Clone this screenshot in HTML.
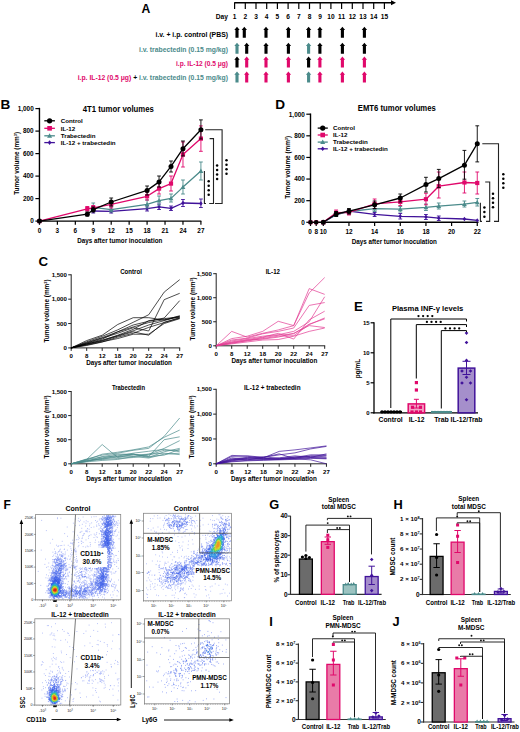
<!DOCTYPE html>
<html><head><meta charset="utf-8"><style>
html,body{margin:0;padding:0;background:#fff;width:520px;height:732px;overflow:hidden}
svg{display:block}
text{font-family:"Liberation Sans", sans-serif}
</style></head><body>
<svg width="520" height="732" viewBox="0 0 520 732">
<text x="141.5" y="12.6" font-size="12.2" text-anchor="start" fill="#000" font-weight="bold">A</text>
<line x1="234.6" y1="2.8" x2="392" y2="2.8" stroke="#000" stroke-width="1.4"/>
<path d="M391 0.3 L396 2.8 L391 5.3 Z" fill="#000"/>
<line x1="234.6" y1="2.2" x2="234.6" y2="9.1" stroke="#000" stroke-width="1.2"/>
<text x="234.6" y="19" font-size="6.6" text-anchor="middle" fill="#000" font-weight="bold">1</text>
<line x1="245.29999999999998" y1="2.2" x2="245.29999999999998" y2="9.1" stroke="#000" stroke-width="1.2"/>
<text x="245.29999999999998" y="19" font-size="6.6" text-anchor="middle" fill="#000" font-weight="bold">2</text>
<line x1="256.0" y1="2.2" x2="256.0" y2="9.1" stroke="#000" stroke-width="1.2"/>
<text x="256.0" y="19" font-size="6.6" text-anchor="middle" fill="#000" font-weight="bold">3</text>
<line x1="266.7" y1="2.2" x2="266.7" y2="9.1" stroke="#000" stroke-width="1.2"/>
<text x="266.7" y="19" font-size="6.6" text-anchor="middle" fill="#000" font-weight="bold">4</text>
<line x1="277.4" y1="2.2" x2="277.4" y2="9.1" stroke="#000" stroke-width="1.2"/>
<text x="277.4" y="19" font-size="6.6" text-anchor="middle" fill="#000" font-weight="bold">5</text>
<line x1="288.1" y1="2.2" x2="288.1" y2="9.1" stroke="#000" stroke-width="1.2"/>
<text x="288.1" y="19" font-size="6.6" text-anchor="middle" fill="#000" font-weight="bold">6</text>
<line x1="298.79999999999995" y1="2.2" x2="298.79999999999995" y2="9.1" stroke="#000" stroke-width="1.2"/>
<text x="298.79999999999995" y="19" font-size="6.6" text-anchor="middle" fill="#000" font-weight="bold">7</text>
<line x1="309.5" y1="2.2" x2="309.5" y2="9.1" stroke="#000" stroke-width="1.2"/>
<text x="309.5" y="19" font-size="6.6" text-anchor="middle" fill="#000" font-weight="bold">8</text>
<line x1="320.2" y1="2.2" x2="320.2" y2="9.1" stroke="#000" stroke-width="1.2"/>
<text x="320.2" y="19" font-size="6.6" text-anchor="middle" fill="#000" font-weight="bold">9</text>
<line x1="330.9" y1="2.2" x2="330.9" y2="9.1" stroke="#000" stroke-width="1.2"/>
<text x="330.9" y="19" font-size="6.6" text-anchor="middle" fill="#000" font-weight="bold">10</text>
<line x1="341.6" y1="2.2" x2="341.6" y2="9.1" stroke="#000" stroke-width="1.2"/>
<text x="341.6" y="19" font-size="6.6" text-anchor="middle" fill="#000" font-weight="bold">11</text>
<line x1="352.29999999999995" y1="2.2" x2="352.29999999999995" y2="9.1" stroke="#000" stroke-width="1.2"/>
<text x="352.29999999999995" y="19" font-size="6.6" text-anchor="middle" fill="#000" font-weight="bold">12</text>
<line x1="363.0" y1="2.2" x2="363.0" y2="9.1" stroke="#000" stroke-width="1.2"/>
<text x="363.0" y="19" font-size="6.6" text-anchor="middle" fill="#000" font-weight="bold">13</text>
<line x1="373.7" y1="2.2" x2="373.7" y2="9.1" stroke="#000" stroke-width="1.2"/>
<text x="373.7" y="19" font-size="6.6" text-anchor="middle" fill="#000" font-weight="bold">14</text>
<line x1="384.4" y1="2.2" x2="384.4" y2="9.1" stroke="#000" stroke-width="1.2"/>
<text x="384.4" y="19" font-size="6.6" text-anchor="middle" fill="#000" font-weight="bold">15</text>
<text x="228" y="19" font-size="6.6" text-anchor="end" fill="#000" font-weight="bold" textLength="12.2" lengthAdjust="spacingAndGlyphs">Day</text>
<text x="228" y="37.4" font-size="7.1" text-anchor="end" fill="#000" font-weight="bold" textLength="72.5" lengthAdjust="spacingAndGlyphs">i.v. + i.p. control (PBS)</text>
<text x="228" y="51.5" font-size="7.1" text-anchor="end" fill="#4b8b8b" font-weight="bold" textLength="89" lengthAdjust="spacingAndGlyphs">i.v. trabectedin (0.15 mg/kg)</text>
<text x="228" y="65.8" font-size="7.1" text-anchor="end" fill="#e0086b" font-weight="bold" textLength="52" lengthAdjust="spacingAndGlyphs">i.p. IL-12 (0.5 μg)</text>
<text x="228" y="79.6" font-size="7.1" text-anchor="end" font-weight="bold" textLength="150.3" lengthAdjust="spacingAndGlyphs"><tspan fill="#e0086b">i.p. IL-12 (0.5 μg)</tspan><tspan fill="#000"> + </tspan><tspan fill="#4b8b8b">i.v. trabectedin (0.15 mg/kg)</tspan></text>
<path d="M237 26.8 L239.7 30.1 L238.55 30.1 L238.55 37.8 L235.45 37.8 L235.45 30.1 L234.3 30.1 Z" fill="#000"/>
<path d="M244.3 26.8 L247.0 30.1 L245.85000000000002 30.1 L245.85000000000002 37.8 L242.75 37.8 L242.75 30.1 L241.60000000000002 30.1 Z" fill="#000"/>
<path d="M266 26.8 L268.7 30.1 L267.55 30.1 L267.55 37.8 L264.45 37.8 L264.45 30.1 L263.3 30.1 Z" fill="#000"/>
<path d="M288.4 26.8 L291.09999999999997 30.1 L289.95 30.1 L289.95 37.8 L286.84999999999997 37.8 L286.84999999999997 30.1 L285.7 30.1 Z" fill="#000"/>
<path d="M308.6 26.8 L311.3 30.1 L310.15000000000003 30.1 L310.15000000000003 37.8 L307.05 37.8 L307.05 30.1 L305.90000000000003 30.1 Z" fill="#000"/>
<path d="M319.9 26.8 L322.59999999999997 30.1 L321.45 30.1 L321.45 37.8 L318.34999999999997 37.8 L318.34999999999997 30.1 L317.2 30.1 Z" fill="#000"/>
<path d="M342.4 26.8 L345.09999999999997 30.1 L343.95 30.1 L343.95 37.8 L340.84999999999997 37.8 L340.84999999999997 30.1 L339.7 30.1 Z" fill="#000"/>
<path d="M364.4 26.8 L367.09999999999997 30.1 L365.95 30.1 L365.95 37.8 L362.84999999999997 37.8 L362.84999999999997 30.1 L361.7 30.1 Z" fill="#000"/>
<path d="M237 42.7 L239.7 46.0 L238.55 46.0 L238.55 53.7 L235.45 53.7 L235.45 46.0 L234.3 46.0 Z" fill="#4b8b8b"/>
<path d="M246.7 42.7 L249.39999999999998 46.0 L248.25 46.0 L248.25 53.7 L245.14999999999998 53.7 L245.14999999999998 46.0 L244.0 46.0 Z" fill="#000"/>
<path d="M266 42.7 L268.7 46.0 L267.55 46.0 L267.55 53.7 L264.45 53.7 L264.45 46.0 L263.3 46.0 Z" fill="#000"/>
<path d="M288.4 42.7 L291.09999999999997 46.0 L289.95 46.0 L289.95 53.7 L286.84999999999997 53.7 L286.84999999999997 46.0 L285.7 46.0 Z" fill="#000"/>
<path d="M308.6 42.7 L311.3 46.0 L310.15000000000003 46.0 L310.15000000000003 53.7 L307.05 53.7 L307.05 46.0 L305.90000000000003 46.0 Z" fill="#4b8b8b"/>
<path d="M319.9 42.7 L322.59999999999997 46.0 L321.45 46.0 L321.45 53.7 L318.34999999999997 53.7 L318.34999999999997 46.0 L317.2 46.0 Z" fill="#000"/>
<path d="M342.4 42.7 L345.09999999999997 46.0 L343.95 46.0 L343.95 53.7 L340.84999999999997 53.7 L340.84999999999997 46.0 L339.7 46.0 Z" fill="#000"/>
<path d="M364.4 42.7 L367.09999999999997 46.0 L365.95 46.0 L365.95 53.7 L362.84999999999997 53.7 L362.84999999999997 46.0 L361.7 46.0 Z" fill="#000"/>
<path d="M237 56.5 L239.7 59.8 L238.55 59.8 L238.55 67.5 L235.45 67.5 L235.45 59.8 L234.3 59.8 Z" fill="#000"/>
<path d="M246.7 56.5 L249.39999999999998 59.8 L248.25 59.8 L248.25 67.5 L245.14999999999998 67.5 L245.14999999999998 59.8 L244.0 59.8 Z" fill="#e0086b"/>
<path d="M266 56.5 L268.7 59.8 L267.55 59.8 L267.55 67.5 L264.45 67.5 L264.45 59.8 L263.3 59.8 Z" fill="#e0086b"/>
<path d="M288.4 56.5 L291.09999999999997 59.8 L289.95 59.8 L289.95 67.5 L286.84999999999997 67.5 L286.84999999999997 59.8 L285.7 59.8 Z" fill="#e0086b"/>
<path d="M308.6 56.5 L311.3 59.8 L310.15000000000003 59.8 L310.15000000000003 67.5 L307.05 67.5 L307.05 59.8 L305.90000000000003 59.8 Z" fill="#000"/>
<path d="M319.9 56.5 L322.59999999999997 59.8 L321.45 59.8 L321.45 67.5 L318.34999999999997 67.5 L318.34999999999997 59.8 L317.2 59.8 Z" fill="#e0086b"/>
<path d="M342.4 56.5 L345.09999999999997 59.8 L343.95 59.8 L343.95 67.5 L340.84999999999997 67.5 L340.84999999999997 59.8 L339.7 59.8 Z" fill="#e0086b"/>
<path d="M364.4 56.5 L367.09999999999997 59.8 L365.95 59.8 L365.95 67.5 L362.84999999999997 67.5 L362.84999999999997 59.8 L361.7 59.8 Z" fill="#e0086b"/>
<path d="M237 71.5 L239.7 74.8 L238.55 74.8 L238.55 82.5 L235.45 82.5 L235.45 74.8 L234.3 74.8 Z" fill="#4b8b8b"/>
<path d="M246.7 71.5 L249.39999999999998 74.8 L248.25 74.8 L248.25 82.5 L245.14999999999998 82.5 L245.14999999999998 74.8 L244.0 74.8 Z" fill="#e0086b"/>
<path d="M266 71.5 L268.7 74.8 L267.55 74.8 L267.55 82.5 L264.45 82.5 L264.45 74.8 L263.3 74.8 Z" fill="#e0086b"/>
<path d="M288.4 71.5 L291.09999999999997 74.8 L289.95 74.8 L289.95 82.5 L286.84999999999997 82.5 L286.84999999999997 74.8 L285.7 74.8 Z" fill="#e0086b"/>
<path d="M308.6 71.5 L311.3 74.8 L310.15000000000003 74.8 L310.15000000000003 82.5 L307.05 82.5 L307.05 74.8 L305.90000000000003 74.8 Z" fill="#4b8b8b"/>
<path d="M319.9 71.5 L322.59999999999997 74.8 L321.45 74.8 L321.45 82.5 L318.34999999999997 82.5 L318.34999999999997 74.8 L317.2 74.8 Z" fill="#e0086b"/>
<path d="M342.4 71.5 L345.09999999999997 74.8 L343.95 74.8 L343.95 82.5 L340.84999999999997 82.5 L340.84999999999997 74.8 L339.7 74.8 Z" fill="#e0086b"/>
<path d="M364.4 71.5 L367.09999999999997 74.8 L365.95 74.8 L365.95 82.5 L362.84999999999997 82.5 L362.84999999999997 74.8 L361.7 74.8 Z" fill="#e0086b"/>
<text x="0.4" y="108.9" font-size="13.6" text-anchor="start" fill="#000" font-weight="bold">B</text>
<line x1="39.45" y1="107.8" x2="39.45" y2="221.79999999999998" stroke="#000" stroke-width="1.4"/>
<line x1="38.75" y1="221.1" x2="201.3" y2="221.1" stroke="#000" stroke-width="1.4"/>
<line x1="35.4" y1="221.1" x2="39.45" y2="221.1" stroke="#000" stroke-width="1.2"/>
<text x="33.7" y="223.4" font-size="6.4" text-anchor="end" fill="#000" font-weight="bold">0</text>
<line x1="35.4" y1="198.6" x2="39.45" y2="198.6" stroke="#000" stroke-width="1.2"/>
<text x="33.7" y="200.9" font-size="6.4" text-anchor="end" fill="#000" font-weight="bold">200</text>
<line x1="35.4" y1="176.1" x2="39.45" y2="176.1" stroke="#000" stroke-width="1.2"/>
<text x="33.7" y="178.4" font-size="6.4" text-anchor="end" fill="#000" font-weight="bold">400</text>
<line x1="35.4" y1="153.6" x2="39.45" y2="153.6" stroke="#000" stroke-width="1.2"/>
<text x="33.7" y="155.9" font-size="6.4" text-anchor="end" fill="#000" font-weight="bold">600</text>
<line x1="35.4" y1="131.1" x2="39.45" y2="131.1" stroke="#000" stroke-width="1.2"/>
<text x="33.7" y="133.4" font-size="6.4" text-anchor="end" fill="#000" font-weight="bold">800</text>
<line x1="35.4" y1="108.6" x2="39.45" y2="108.6" stroke="#000" stroke-width="1.2"/>
<text x="33.7" y="110.89999999999999" font-size="6.4" text-anchor="end" fill="#000" font-weight="bold">1,000</text>
<line x1="39.45" y1="221.1" x2="39.45" y2="224.8" stroke="#000" stroke-width="1.2"/>
<text x="39.45" y="232.9" font-size="6.4" text-anchor="middle" fill="#000" font-weight="bold">0</text>
<line x1="57.39" y1="221.1" x2="57.39" y2="224.8" stroke="#000" stroke-width="1.2"/>
<text x="57.39" y="232.9" font-size="6.4" text-anchor="middle" fill="#000" font-weight="bold">3</text>
<line x1="75.33000000000001" y1="221.1" x2="75.33000000000001" y2="224.8" stroke="#000" stroke-width="1.2"/>
<text x="75.33000000000001" y="232.9" font-size="6.4" text-anchor="middle" fill="#000" font-weight="bold">6</text>
<line x1="93.27000000000001" y1="221.1" x2="93.27000000000001" y2="224.8" stroke="#000" stroke-width="1.2"/>
<text x="93.27000000000001" y="232.9" font-size="6.4" text-anchor="middle" fill="#000" font-weight="bold">9</text>
<line x1="111.21000000000001" y1="221.1" x2="111.21000000000001" y2="224.8" stroke="#000" stroke-width="1.2"/>
<text x="111.21000000000001" y="232.9" font-size="6.4" text-anchor="middle" fill="#000" font-weight="bold">12</text>
<line x1="129.15" y1="221.1" x2="129.15" y2="224.8" stroke="#000" stroke-width="1.2"/>
<text x="129.15" y="232.9" font-size="6.4" text-anchor="middle" fill="#000" font-weight="bold">15</text>
<line x1="147.09000000000003" y1="221.1" x2="147.09000000000003" y2="224.8" stroke="#000" stroke-width="1.2"/>
<text x="147.09000000000003" y="232.9" font-size="6.4" text-anchor="middle" fill="#000" font-weight="bold">18</text>
<line x1="165.03000000000003" y1="221.1" x2="165.03000000000003" y2="224.8" stroke="#000" stroke-width="1.2"/>
<text x="165.03000000000003" y="232.9" font-size="6.4" text-anchor="middle" fill="#000" font-weight="bold">21</text>
<line x1="182.97000000000003" y1="221.1" x2="182.97000000000003" y2="224.8" stroke="#000" stroke-width="1.2"/>
<text x="182.97000000000003" y="232.9" font-size="6.4" text-anchor="middle" fill="#000" font-weight="bold">24</text>
<line x1="200.91000000000003" y1="221.1" x2="200.91000000000003" y2="224.8" stroke="#000" stroke-width="1.2"/>
<text x="200.91000000000003" y="232.9" font-size="6.4" text-anchor="middle" fill="#000" font-weight="bold">27</text>
<text x="119.8" y="242.6" font-size="7.0" text-anchor="middle" fill="#000" font-weight="bold" textLength="85" lengthAdjust="spacingAndGlyphs">Days after tumor inoculation</text>
<text x="0" y="0" font-size="6.5" font-weight="bold" text-anchor="middle" transform="translate(19.4 163.4) rotate(-90)" textLength="62.9" lengthAdjust="spacingAndGlyphs">Tumor volume (mm<tspan font-size="4" dy="-2.2">3</tspan><tspan dy="2.2">)</tspan></text>
<text x="118.3" y="111.5" font-size="8.2" text-anchor="middle" fill="#000" font-weight="bold" textLength="71" lengthAdjust="spacingAndGlyphs">4T1 tumor volumes</text>
<line x1="44.3" y1="120.8" x2="54.9" y2="120.8" stroke="#000" stroke-width="1.3"/>
<circle cx="49.60" cy="120.80" r="2.625" fill="#000"/>
<text x="60.8" y="123.0" font-size="6.2" text-anchor="start" fill="#000" font-weight="bold">Control</text>
<line x1="44.3" y1="128.3" x2="54.9" y2="128.3" stroke="#e0086b" stroke-width="1.3"/>
<rect x="47.29" y="125.99" width="4.620000000000001" height="4.620000000000001" fill="#e0086b"/>
<text x="60.8" y="130.5" font-size="6.2" text-anchor="start" fill="#000" font-weight="bold">IL-12</text>
<line x1="44.3" y1="135.8" x2="54.9" y2="135.8" stroke="#4b8b8b" stroke-width="1.3"/>
<path d="M49.60 133.28 L52.12 137.82 L47.08 137.82 Z" fill="#4b8b8b"/>
<text x="60.8" y="138.0" font-size="6.2" text-anchor="start" fill="#000" font-weight="bold">Trabectedin</text>
<line x1="44.3" y1="142.6" x2="54.9" y2="142.6" stroke="#40129a" stroke-width="1.3"/>
<path d="M49.60 140.29 L51.45 142.60 L49.60 144.91 L47.75 142.60 Z" fill="#40129a"/>
<text x="60.8" y="144.79999999999998" font-size="6.2" text-anchor="start" fill="#000" font-weight="bold">IL-12 + trabectedin</text>
<polyline points="93.27,211.00 111.21,211.30 147.09,208.70 159.05,206.90 171.01,208.30 182.97,203.00 200.91,203.50" fill="none" stroke="#40129a" stroke-width="1.3" stroke-linejoin="round"/>
<line x1="93.27000000000001" y1="209" x2="93.27000000000001" y2="213" stroke="#40129a" stroke-width="0.9"/>
<line x1="91.37" y1="209" x2="95.17000000000002" y2="209" stroke="#40129a" stroke-width="0.9"/>
<line x1="91.37" y1="213" x2="95.17000000000002" y2="213" stroke="#40129a" stroke-width="0.9"/>
<line x1="111.21000000000001" y1="209.5" x2="111.21000000000001" y2="213" stroke="#40129a" stroke-width="0.9"/>
<line x1="109.31" y1="209.5" x2="113.11000000000001" y2="209.5" stroke="#40129a" stroke-width="0.9"/>
<line x1="109.31" y1="213" x2="113.11000000000001" y2="213" stroke="#40129a" stroke-width="0.9"/>
<line x1="147.09000000000003" y1="206" x2="147.09000000000003" y2="211" stroke="#40129a" stroke-width="0.9"/>
<line x1="145.19000000000003" y1="206" x2="148.99000000000004" y2="206" stroke="#40129a" stroke-width="0.9"/>
<line x1="145.19000000000003" y1="211" x2="148.99000000000004" y2="211" stroke="#40129a" stroke-width="0.9"/>
<line x1="159.05" y1="204" x2="159.05" y2="209.5" stroke="#40129a" stroke-width="0.9"/>
<line x1="157.15" y1="204" x2="160.95000000000002" y2="204" stroke="#40129a" stroke-width="0.9"/>
<line x1="157.15" y1="209.5" x2="160.95000000000002" y2="209.5" stroke="#40129a" stroke-width="0.9"/>
<line x1="171.01" y1="206" x2="171.01" y2="210.5" stroke="#40129a" stroke-width="0.9"/>
<line x1="169.10999999999999" y1="206" x2="172.91" y2="206" stroke="#40129a" stroke-width="0.9"/>
<line x1="169.10999999999999" y1="210.5" x2="172.91" y2="210.5" stroke="#40129a" stroke-width="0.9"/>
<line x1="182.97000000000003" y1="199.5" x2="182.97000000000003" y2="206.5" stroke="#40129a" stroke-width="0.9"/>
<line x1="181.07000000000002" y1="199.5" x2="184.87000000000003" y2="199.5" stroke="#40129a" stroke-width="0.9"/>
<line x1="181.07000000000002" y1="206.5" x2="184.87000000000003" y2="206.5" stroke="#40129a" stroke-width="0.9"/>
<line x1="200.91000000000003" y1="199" x2="200.91000000000003" y2="207.5" stroke="#40129a" stroke-width="0.9"/>
<line x1="199.01000000000002" y1="199" x2="202.81000000000003" y2="199" stroke="#40129a" stroke-width="0.9"/>
<line x1="199.01000000000002" y1="207.5" x2="202.81000000000003" y2="207.5" stroke="#40129a" stroke-width="0.9"/>
<path d="M93.27 208.80 L95.03 211.00 L93.27 213.20 L91.51 211.00 Z" fill="#40129a"/>
<path d="M111.21 209.10 L112.97 211.30 L111.21 213.50 L109.45 211.30 Z" fill="#40129a"/>
<path d="M147.09 206.50 L148.85 208.70 L147.09 210.90 L145.33 208.70 Z" fill="#40129a"/>
<path d="M159.05 204.70 L160.81 206.90 L159.05 209.10 L157.29 206.90 Z" fill="#40129a"/>
<path d="M171.01 206.10 L172.77 208.30 L171.01 210.50 L169.25 208.30 Z" fill="#40129a"/>
<path d="M182.97 200.80 L184.73 203.00 L182.97 205.20 L181.21 203.00 Z" fill="#40129a"/>
<path d="M200.91 201.30 L202.67 203.50 L200.91 205.70 L199.15 203.50 Z" fill="#40129a"/>
<polyline points="93.27,207.30 111.21,209.70 147.09,204.40 159.05,200.60 171.01,198.40 182.97,187.10 200.91,171.00" fill="none" stroke="#4b8b8b" stroke-width="1.3" stroke-linejoin="round"/>
<line x1="93.27000000000001" y1="203" x2="93.27000000000001" y2="211" stroke="#4b8b8b" stroke-width="0.9"/>
<line x1="91.37" y1="203" x2="95.17000000000002" y2="203" stroke="#4b8b8b" stroke-width="0.9"/>
<line x1="91.37" y1="211" x2="95.17000000000002" y2="211" stroke="#4b8b8b" stroke-width="0.9"/>
<line x1="111.21000000000001" y1="207" x2="111.21000000000001" y2="212" stroke="#4b8b8b" stroke-width="0.9"/>
<line x1="109.31" y1="207" x2="113.11000000000001" y2="207" stroke="#4b8b8b" stroke-width="0.9"/>
<line x1="109.31" y1="212" x2="113.11000000000001" y2="212" stroke="#4b8b8b" stroke-width="0.9"/>
<line x1="147.09000000000003" y1="200" x2="147.09000000000003" y2="208" stroke="#4b8b8b" stroke-width="0.9"/>
<line x1="145.19000000000003" y1="200" x2="148.99000000000004" y2="200" stroke="#4b8b8b" stroke-width="0.9"/>
<line x1="145.19000000000003" y1="208" x2="148.99000000000004" y2="208" stroke="#4b8b8b" stroke-width="0.9"/>
<line x1="159.05" y1="196" x2="159.05" y2="205" stroke="#4b8b8b" stroke-width="0.9"/>
<line x1="157.15" y1="196" x2="160.95000000000002" y2="196" stroke="#4b8b8b" stroke-width="0.9"/>
<line x1="157.15" y1="205" x2="160.95000000000002" y2="205" stroke="#4b8b8b" stroke-width="0.9"/>
<line x1="171.01" y1="194" x2="171.01" y2="202" stroke="#4b8b8b" stroke-width="0.9"/>
<line x1="169.10999999999999" y1="194" x2="172.91" y2="194" stroke="#4b8b8b" stroke-width="0.9"/>
<line x1="169.10999999999999" y1="202" x2="172.91" y2="202" stroke="#4b8b8b" stroke-width="0.9"/>
<line x1="182.97000000000003" y1="180" x2="182.97000000000003" y2="194" stroke="#4b8b8b" stroke-width="0.9"/>
<line x1="181.07000000000002" y1="180" x2="184.87000000000003" y2="180" stroke="#4b8b8b" stroke-width="0.9"/>
<line x1="181.07000000000002" y1="194" x2="184.87000000000003" y2="194" stroke="#4b8b8b" stroke-width="0.9"/>
<line x1="200.91000000000003" y1="162" x2="200.91000000000003" y2="180" stroke="#4b8b8b" stroke-width="0.9"/>
<line x1="199.01000000000002" y1="162" x2="202.81000000000003" y2="162" stroke="#4b8b8b" stroke-width="0.9"/>
<line x1="199.01000000000002" y1="180" x2="202.81000000000003" y2="180" stroke="#4b8b8b" stroke-width="0.9"/>
<path d="M93.27 204.90 L95.67 209.22 L90.87 209.22 Z" fill="#4b8b8b"/>
<path d="M111.21 207.30 L113.61 211.62 L108.81 211.62 Z" fill="#4b8b8b"/>
<path d="M147.09 202.00 L149.49 206.32 L144.69 206.32 Z" fill="#4b8b8b"/>
<path d="M159.05 198.20 L161.45 202.52 L156.65 202.52 Z" fill="#4b8b8b"/>
<path d="M171.01 196.00 L173.41 200.32 L168.61 200.32 Z" fill="#4b8b8b"/>
<path d="M182.97 184.70 L185.37 189.02 L180.57 189.02 Z" fill="#4b8b8b"/>
<path d="M200.91 168.60 L203.31 172.92 L198.51 172.92 Z" fill="#4b8b8b"/>
<polyline points="39.45,221.10 87.29,208.80 93.27,207.80 111.21,204.40 147.09,196.30 159.05,188.60 171.01,183.60 182.97,154.40 200.91,138.60" fill="none" stroke="#e0086b" stroke-width="1.3" stroke-linejoin="round"/>
<line x1="87.29" y1="206.5" x2="87.29" y2="211" stroke="#e0086b" stroke-width="0.9"/>
<line x1="85.39" y1="206.5" x2="89.19000000000001" y2="206.5" stroke="#e0086b" stroke-width="0.9"/>
<line x1="85.39" y1="211" x2="89.19000000000001" y2="211" stroke="#e0086b" stroke-width="0.9"/>
<line x1="93.27000000000001" y1="205.5" x2="93.27000000000001" y2="210" stroke="#e0086b" stroke-width="0.9"/>
<line x1="91.37" y1="205.5" x2="95.17000000000002" y2="205.5" stroke="#e0086b" stroke-width="0.9"/>
<line x1="91.37" y1="210" x2="95.17000000000002" y2="210" stroke="#e0086b" stroke-width="0.9"/>
<line x1="111.21000000000001" y1="201" x2="111.21000000000001" y2="208" stroke="#e0086b" stroke-width="0.9"/>
<line x1="109.31" y1="201" x2="113.11000000000001" y2="201" stroke="#e0086b" stroke-width="0.9"/>
<line x1="109.31" y1="208" x2="113.11000000000001" y2="208" stroke="#e0086b" stroke-width="0.9"/>
<line x1="147.09000000000003" y1="192" x2="147.09000000000003" y2="200" stroke="#e0086b" stroke-width="0.9"/>
<line x1="145.19000000000003" y1="192" x2="148.99000000000004" y2="192" stroke="#e0086b" stroke-width="0.9"/>
<line x1="145.19000000000003" y1="200" x2="148.99000000000004" y2="200" stroke="#e0086b" stroke-width="0.9"/>
<line x1="159.05" y1="183" x2="159.05" y2="194" stroke="#e0086b" stroke-width="0.9"/>
<line x1="157.15" y1="183" x2="160.95000000000002" y2="183" stroke="#e0086b" stroke-width="0.9"/>
<line x1="157.15" y1="194" x2="160.95000000000002" y2="194" stroke="#e0086b" stroke-width="0.9"/>
<line x1="171.01" y1="176" x2="171.01" y2="191" stroke="#e0086b" stroke-width="0.9"/>
<line x1="169.10999999999999" y1="176" x2="172.91" y2="176" stroke="#e0086b" stroke-width="0.9"/>
<line x1="169.10999999999999" y1="191" x2="172.91" y2="191" stroke="#e0086b" stroke-width="0.9"/>
<line x1="182.97000000000003" y1="142" x2="182.97000000000003" y2="167" stroke="#e0086b" stroke-width="0.9"/>
<line x1="181.07000000000002" y1="142" x2="184.87000000000003" y2="142" stroke="#e0086b" stroke-width="0.9"/>
<line x1="181.07000000000002" y1="167" x2="184.87000000000003" y2="167" stroke="#e0086b" stroke-width="0.9"/>
<line x1="200.91000000000003" y1="125.9" x2="200.91000000000003" y2="151.3" stroke="#e0086b" stroke-width="0.9"/>
<line x1="199.01000000000002" y1="125.9" x2="202.81000000000003" y2="125.9" stroke="#e0086b" stroke-width="0.9"/>
<line x1="199.01000000000002" y1="151.3" x2="202.81000000000003" y2="151.3" stroke="#e0086b" stroke-width="0.9"/>
<rect x="37.36" y="219.01" width="4.18" height="4.18" fill="#e0086b"/>
<rect x="85.20" y="206.71" width="4.18" height="4.18" fill="#e0086b"/>
<rect x="91.18" y="205.71" width="4.18" height="4.18" fill="#e0086b"/>
<rect x="109.12" y="202.31" width="4.18" height="4.18" fill="#e0086b"/>
<rect x="145.00" y="194.21" width="4.18" height="4.18" fill="#e0086b"/>
<rect x="156.96" y="186.51" width="4.18" height="4.18" fill="#e0086b"/>
<rect x="168.92" y="181.51" width="4.18" height="4.18" fill="#e0086b"/>
<rect x="180.88" y="152.31" width="4.18" height="4.18" fill="#e0086b"/>
<rect x="198.82" y="136.51" width="4.18" height="4.18" fill="#e0086b"/>
<polyline points="39.45,221.10 87.29,214.20 93.27,209.70 111.21,202.00 147.09,190.40 159.05,181.90 171.01,166.40 182.97,148.70 200.91,129.70" fill="none" stroke="#000" stroke-width="1.3" stroke-linejoin="round"/>
<line x1="87.29" y1="212" x2="87.29" y2="216" stroke="#000" stroke-width="0.9"/>
<line x1="85.39" y1="212" x2="89.19000000000001" y2="212" stroke="#000" stroke-width="0.9"/>
<line x1="85.39" y1="216" x2="89.19000000000001" y2="216" stroke="#000" stroke-width="0.9"/>
<line x1="93.27000000000001" y1="207" x2="93.27000000000001" y2="212" stroke="#000" stroke-width="0.9"/>
<line x1="91.37" y1="207" x2="95.17000000000002" y2="207" stroke="#000" stroke-width="0.9"/>
<line x1="91.37" y1="212" x2="95.17000000000002" y2="212" stroke="#000" stroke-width="0.9"/>
<line x1="111.21000000000001" y1="198" x2="111.21000000000001" y2="206" stroke="#000" stroke-width="0.9"/>
<line x1="109.31" y1="198" x2="113.11000000000001" y2="198" stroke="#000" stroke-width="0.9"/>
<line x1="109.31" y1="206" x2="113.11000000000001" y2="206" stroke="#000" stroke-width="0.9"/>
<line x1="147.09000000000003" y1="186" x2="147.09000000000003" y2="195" stroke="#000" stroke-width="0.9"/>
<line x1="145.19000000000003" y1="186" x2="148.99000000000004" y2="186" stroke="#000" stroke-width="0.9"/>
<line x1="145.19000000000003" y1="195" x2="148.99000000000004" y2="195" stroke="#000" stroke-width="0.9"/>
<line x1="159.05" y1="176" x2="159.05" y2="187" stroke="#000" stroke-width="0.9"/>
<line x1="157.15" y1="176" x2="160.95000000000002" y2="176" stroke="#000" stroke-width="0.9"/>
<line x1="157.15" y1="187" x2="160.95000000000002" y2="187" stroke="#000" stroke-width="0.9"/>
<line x1="171.01" y1="161" x2="171.01" y2="172" stroke="#000" stroke-width="0.9"/>
<line x1="169.10999999999999" y1="161" x2="172.91" y2="161" stroke="#000" stroke-width="0.9"/>
<line x1="169.10999999999999" y1="172" x2="172.91" y2="172" stroke="#000" stroke-width="0.9"/>
<line x1="182.97000000000003" y1="141" x2="182.97000000000003" y2="156" stroke="#000" stroke-width="0.9"/>
<line x1="181.07000000000002" y1="141" x2="184.87000000000003" y2="141" stroke="#000" stroke-width="0.9"/>
<line x1="181.07000000000002" y1="156" x2="184.87000000000003" y2="156" stroke="#000" stroke-width="0.9"/>
<line x1="200.91000000000003" y1="119.9" x2="200.91000000000003" y2="139" stroke="#000" stroke-width="0.9"/>
<line x1="199.01000000000002" y1="119.9" x2="202.81000000000003" y2="119.9" stroke="#000" stroke-width="0.9"/>
<line x1="199.01000000000002" y1="139" x2="202.81000000000003" y2="139" stroke="#000" stroke-width="0.9"/>
<circle cx="39.45" cy="221.10" r="2.5" fill="#000"/>
<circle cx="87.29" cy="214.20" r="2.5" fill="#000"/>
<circle cx="93.27" cy="209.70" r="2.5" fill="#000"/>
<circle cx="111.21" cy="202.00" r="2.5" fill="#000"/>
<circle cx="147.09" cy="190.40" r="2.5" fill="#000"/>
<circle cx="159.05" cy="181.90" r="2.5" fill="#000"/>
<circle cx="171.01" cy="166.40" r="2.5" fill="#000"/>
<circle cx="182.97" cy="148.70" r="2.5" fill="#000"/>
<circle cx="200.91" cy="129.70" r="2.5" fill="#000"/>
<polyline points="205.2,129.7 222.1,129.7 222.1,203.5 215,203.5" fill="none" stroke="#222" stroke-width="1.1"/>
<polyline points="209.6,138.6 213.5,138.6 213.5,203.5 209.2,203.5" fill="none" stroke="#222" stroke-width="1.1"/>
<polyline points="204.4,171 204.4,171 204.4,203.5 206,203.5" fill="none" stroke="#222" stroke-width="1.1"/>
<circle cx="226.5" cy="160.20" r="1.25" fill="#000"/>
<circle cx="226.5" cy="164.70" r="1.25" fill="#000"/>
<circle cx="226.5" cy="169.20" r="1.25" fill="#000"/>
<circle cx="226.5" cy="173.70" r="1.25" fill="#000"/>
<circle cx="217.1" cy="165.40" r="1.25" fill="#000"/>
<circle cx="217.1" cy="169.90" r="1.25" fill="#000"/>
<circle cx="217.1" cy="174.40" r="1.25" fill="#000"/>
<circle cx="217.1" cy="178.90" r="1.25" fill="#000"/>
<circle cx="208.7" cy="181.20" r="1.25" fill="#000"/>
<circle cx="208.7" cy="185.70" r="1.25" fill="#000"/>
<circle cx="208.7" cy="190.20" r="1.25" fill="#000"/>
<circle cx="208.7" cy="194.70" r="1.25" fill="#000"/>
<text x="275.3" y="108.9" font-size="13.6" text-anchor="start" fill="#000" font-weight="bold">D</text>
<line x1="310.5" y1="113.5" x2="310.5" y2="223.0" stroke="#000" stroke-width="1.4"/>
<line x1="309.8" y1="222.3" x2="478.5" y2="222.3" stroke="#000" stroke-width="1.4"/>
<line x1="306.3" y1="222.3" x2="310.5" y2="222.3" stroke="#000" stroke-width="1.2"/>
<text x="304.8" y="224.60000000000002" font-size="6.4" text-anchor="end" fill="#000" font-weight="bold">0</text>
<line x1="306.3" y1="200.68" x2="310.5" y2="200.68" stroke="#000" stroke-width="1.2"/>
<text x="304.8" y="202.98000000000002" font-size="6.4" text-anchor="end" fill="#000" font-weight="bold">200</text>
<line x1="306.3" y1="179.06" x2="310.5" y2="179.06" stroke="#000" stroke-width="1.2"/>
<text x="304.8" y="181.36" font-size="6.4" text-anchor="end" fill="#000" font-weight="bold">400</text>
<line x1="306.3" y1="157.44" x2="310.5" y2="157.44" stroke="#000" stroke-width="1.2"/>
<text x="304.8" y="159.74" font-size="6.4" text-anchor="end" fill="#000" font-weight="bold">600</text>
<line x1="306.3" y1="135.82" x2="310.5" y2="135.82" stroke="#000" stroke-width="1.2"/>
<text x="304.8" y="138.12" font-size="6.4" text-anchor="end" fill="#000" font-weight="bold">800</text>
<line x1="306.3" y1="114.2" x2="310.5" y2="114.2" stroke="#000" stroke-width="1.2"/>
<text x="304.8" y="116.5" font-size="6.4" text-anchor="end" fill="#000" font-weight="bold">1,000</text>
<line x1="310.5" y1="222.3" x2="310.5" y2="226" stroke="#000" stroke-width="1.2"/>
<text x="310.0" y="233.8" font-size="6.4" text-anchor="middle" fill="#000" font-weight="bold">0</text>
<line x1="316.2" y1="222.3" x2="316.2" y2="226" stroke="#000" stroke-width="1.2"/>
<text x="316.2" y="233.8" font-size="6.4" text-anchor="middle" fill="#000" font-weight="bold">8</text>
<line x1="323.3" y1="222.3" x2="323.3" y2="226" stroke="#000" stroke-width="1.2"/>
<text x="323.3" y="233.8" font-size="6.4" text-anchor="middle" fill="#000" font-weight="bold">10</text>
<line x1="348.96000000000004" y1="222.3" x2="348.96000000000004" y2="226" stroke="#000" stroke-width="1.2"/>
<text x="348.96000000000004" y="233.8" font-size="6.4" text-anchor="middle" fill="#000" font-weight="bold">12</text>
<line x1="374.62" y1="222.3" x2="374.62" y2="226" stroke="#000" stroke-width="1.2"/>
<text x="374.62" y="233.8" font-size="6.4" text-anchor="middle" fill="#000" font-weight="bold">14</text>
<line x1="400.28000000000003" y1="222.3" x2="400.28000000000003" y2="226" stroke="#000" stroke-width="1.2"/>
<text x="400.28000000000003" y="233.8" font-size="6.4" text-anchor="middle" fill="#000" font-weight="bold">16</text>
<line x1="425.94" y1="222.3" x2="425.94" y2="226" stroke="#000" stroke-width="1.2"/>
<text x="425.94" y="233.8" font-size="6.4" text-anchor="middle" fill="#000" font-weight="bold">18</text>
<line x1="451.6" y1="222.3" x2="451.6" y2="226" stroke="#000" stroke-width="1.2"/>
<text x="451.6" y="233.8" font-size="6.4" text-anchor="middle" fill="#000" font-weight="bold">20</text>
<line x1="477.26" y1="222.3" x2="477.26" y2="226" stroke="#000" stroke-width="1.2"/>
<text x="477.26" y="233.8" font-size="6.4" text-anchor="middle" fill="#000" font-weight="bold">22</text>
<text x="394.3" y="243.6" font-size="7.0" text-anchor="middle" fill="#000" font-weight="bold" textLength="85" lengthAdjust="spacingAndGlyphs">Days after tumor inoculation</text>
<text x="0" y="0" font-size="6.5" font-weight="bold" text-anchor="middle" transform="translate(290.2 167.3) rotate(-90)" textLength="63" lengthAdjust="spacingAndGlyphs">Tumor volume (mm<tspan font-size="4" dy="-2.2">3</tspan><tspan dy="2.2">)</tspan></text>
<text x="396.8" y="111.3" font-size="8.2" text-anchor="middle" fill="#000" font-weight="bold" textLength="78" lengthAdjust="spacingAndGlyphs">EMT6 tumor volumes</text>
<line x1="317.7" y1="128.1" x2="327.8" y2="128.1" stroke="#000" stroke-width="1.3"/>
<circle cx="322.70" cy="128.10" r="2.625" fill="#000"/>
<text x="333.0" y="130.29999999999998" font-size="6.2" text-anchor="start" fill="#000" font-weight="bold">Control</text>
<line x1="317.7" y1="135.0" x2="327.8" y2="135.0" stroke="#e0086b" stroke-width="1.3"/>
<rect x="320.39" y="132.69" width="4.620000000000001" height="4.620000000000001" fill="#e0086b"/>
<text x="333.0" y="137.2" font-size="6.2" text-anchor="start" fill="#000" font-weight="bold">IL-12</text>
<line x1="317.7" y1="142.1" x2="327.8" y2="142.1" stroke="#4b8b8b" stroke-width="1.3"/>
<path d="M322.70 139.58 L325.22 144.12 L320.18 144.12 Z" fill="#4b8b8b"/>
<text x="333.0" y="144.29999999999998" font-size="6.2" text-anchor="start" fill="#000" font-weight="bold">Trabectedin</text>
<line x1="317.7" y1="148.8" x2="327.8" y2="148.8" stroke="#40129a" stroke-width="1.3"/>
<path d="M322.70 146.49 L324.55 148.80 L322.70 151.11 L320.85 148.80 Z" fill="#40129a"/>
<text x="333.0" y="151.0" font-size="6.2" text-anchor="start" fill="#000" font-weight="bold">IL-12 + trabectedin</text>
<path d="M310.50 220.32 L312.08 222.30 L310.50 224.28 L308.92 222.30 Z" fill="#40129a"/>
<path d="M316.20 220.32 L317.78 222.30 L316.20 224.28 L314.62 222.30 Z" fill="#40129a"/>
<path d="M310.50 220.14 L312.66 224.03 L308.34 224.03 Z" fill="#4b8b8b"/>
<path d="M316.20 220.14 L318.36 224.03 L314.04 224.03 Z" fill="#4b8b8b"/>
<rect x="308.52" y="220.32" width="3.9600000000000004" height="3.9600000000000004" fill="#e0086b"/>
<rect x="314.22" y="220.32" width="3.9600000000000004" height="3.9600000000000004" fill="#e0086b"/>
<circle cx="310.50" cy="222.30" r="2.25" fill="#000"/>
<circle cx="316.20" cy="222.30" r="2.25" fill="#000"/>
<polyline points="323.30,222.30 336.13,214.60 348.96,211.20 374.62,214.40 400.28,216.30 425.94,216.90 438.77,218.20 464.43,219.00 477.26,220.40" fill="none" stroke="#40129a" stroke-width="1.3" stroke-linejoin="round"/>
<line x1="336.13" y1="213" x2="336.13" y2="216" stroke="#40129a" stroke-width="0.9"/>
<line x1="334.23" y1="213" x2="338.03" y2="213" stroke="#40129a" stroke-width="0.9"/>
<line x1="334.23" y1="216" x2="338.03" y2="216" stroke="#40129a" stroke-width="0.9"/>
<line x1="348.96000000000004" y1="209.5" x2="348.96000000000004" y2="213" stroke="#40129a" stroke-width="0.9"/>
<line x1="347.06000000000006" y1="209.5" x2="350.86" y2="209.5" stroke="#40129a" stroke-width="0.9"/>
<line x1="347.06000000000006" y1="213" x2="350.86" y2="213" stroke="#40129a" stroke-width="0.9"/>
<line x1="374.62" y1="212.5" x2="374.62" y2="216.5" stroke="#40129a" stroke-width="0.9"/>
<line x1="372.72" y1="212.5" x2="376.52" y2="212.5" stroke="#40129a" stroke-width="0.9"/>
<line x1="372.72" y1="216.5" x2="376.52" y2="216.5" stroke="#40129a" stroke-width="0.9"/>
<line x1="400.28000000000003" y1="213.5" x2="400.28000000000003" y2="219" stroke="#40129a" stroke-width="0.9"/>
<line x1="398.38000000000005" y1="213.5" x2="402.18" y2="213.5" stroke="#40129a" stroke-width="0.9"/>
<line x1="398.38000000000005" y1="219" x2="402.18" y2="219" stroke="#40129a" stroke-width="0.9"/>
<line x1="425.94" y1="214.5" x2="425.94" y2="219.5" stroke="#40129a" stroke-width="0.9"/>
<line x1="424.04" y1="214.5" x2="427.84" y2="214.5" stroke="#40129a" stroke-width="0.9"/>
<line x1="424.04" y1="219.5" x2="427.84" y2="219.5" stroke="#40129a" stroke-width="0.9"/>
<line x1="438.77" y1="216" x2="438.77" y2="220.5" stroke="#40129a" stroke-width="0.9"/>
<line x1="436.87" y1="216" x2="440.66999999999996" y2="216" stroke="#40129a" stroke-width="0.9"/>
<line x1="436.87" y1="220.5" x2="440.66999999999996" y2="220.5" stroke="#40129a" stroke-width="0.9"/>
<path d="M323.30 220.10 L325.06 222.30 L323.30 224.50 L321.54 222.30 Z" fill="#40129a"/>
<path d="M336.13 212.40 L337.89 214.60 L336.13 216.80 L334.37 214.60 Z" fill="#40129a"/>
<path d="M348.96 209.00 L350.72 211.20 L348.96 213.40 L347.20 211.20 Z" fill="#40129a"/>
<path d="M374.62 212.20 L376.38 214.40 L374.62 216.60 L372.86 214.40 Z" fill="#40129a"/>
<path d="M400.28 214.10 L402.04 216.30 L400.28 218.50 L398.52 216.30 Z" fill="#40129a"/>
<path d="M425.94 214.70 L427.70 216.90 L425.94 219.10 L424.18 216.90 Z" fill="#40129a"/>
<path d="M438.77 216.00 L440.53 218.20 L438.77 220.40 L437.01 218.20 Z" fill="#40129a"/>
<path d="M464.43 216.80 L466.19 219.00 L464.43 221.20 L462.67 219.00 Z" fill="#40129a"/>
<path d="M477.26 218.20 L479.02 220.40 L477.26 222.60 L475.50 220.40 Z" fill="#40129a"/>
<polyline points="323.30,222.30 336.13,214.50 348.96,211.50 374.62,208.70 400.28,209.20 425.94,207.40 438.77,206.10 464.43,204.20 477.26,202.30" fill="none" stroke="#4b8b8b" stroke-width="1.3" stroke-linejoin="round"/>
<line x1="336.13" y1="212.5" x2="336.13" y2="216.5" stroke="#4b8b8b" stroke-width="0.9"/>
<line x1="334.23" y1="212.5" x2="338.03" y2="212.5" stroke="#4b8b8b" stroke-width="0.9"/>
<line x1="334.23" y1="216.5" x2="338.03" y2="216.5" stroke="#4b8b8b" stroke-width="0.9"/>
<line x1="348.96000000000004" y1="209.5" x2="348.96000000000004" y2="213.5" stroke="#4b8b8b" stroke-width="0.9"/>
<line x1="347.06000000000006" y1="209.5" x2="350.86" y2="209.5" stroke="#4b8b8b" stroke-width="0.9"/>
<line x1="347.06000000000006" y1="213.5" x2="350.86" y2="213.5" stroke="#4b8b8b" stroke-width="0.9"/>
<line x1="374.62" y1="206" x2="374.62" y2="211.5" stroke="#4b8b8b" stroke-width="0.9"/>
<line x1="372.72" y1="206" x2="376.52" y2="206" stroke="#4b8b8b" stroke-width="0.9"/>
<line x1="372.72" y1="211.5" x2="376.52" y2="211.5" stroke="#4b8b8b" stroke-width="0.9"/>
<line x1="400.28000000000003" y1="206.5" x2="400.28000000000003" y2="212" stroke="#4b8b8b" stroke-width="0.9"/>
<line x1="398.38000000000005" y1="206.5" x2="402.18" y2="206.5" stroke="#4b8b8b" stroke-width="0.9"/>
<line x1="398.38000000000005" y1="212" x2="402.18" y2="212" stroke="#4b8b8b" stroke-width="0.9"/>
<line x1="425.94" y1="204" x2="425.94" y2="210.5" stroke="#4b8b8b" stroke-width="0.9"/>
<line x1="424.04" y1="204" x2="427.84" y2="204" stroke="#4b8b8b" stroke-width="0.9"/>
<line x1="424.04" y1="210.5" x2="427.84" y2="210.5" stroke="#4b8b8b" stroke-width="0.9"/>
<line x1="438.77" y1="203" x2="438.77" y2="209" stroke="#4b8b8b" stroke-width="0.9"/>
<line x1="436.87" y1="203" x2="440.66999999999996" y2="203" stroke="#4b8b8b" stroke-width="0.9"/>
<line x1="436.87" y1="209" x2="440.66999999999996" y2="209" stroke="#4b8b8b" stroke-width="0.9"/>
<line x1="464.43" y1="201" x2="464.43" y2="207" stroke="#4b8b8b" stroke-width="0.9"/>
<line x1="462.53000000000003" y1="201" x2="466.33" y2="201" stroke="#4b8b8b" stroke-width="0.9"/>
<line x1="462.53000000000003" y1="207" x2="466.33" y2="207" stroke="#4b8b8b" stroke-width="0.9"/>
<line x1="477.26" y1="198.5" x2="477.26" y2="206" stroke="#4b8b8b" stroke-width="0.9"/>
<line x1="475.36" y1="198.5" x2="479.15999999999997" y2="198.5" stroke="#4b8b8b" stroke-width="0.9"/>
<line x1="475.36" y1="206" x2="479.15999999999997" y2="206" stroke="#4b8b8b" stroke-width="0.9"/>
<path d="M323.30 219.90 L325.70 224.22 L320.90 224.22 Z" fill="#4b8b8b"/>
<path d="M336.13 212.10 L338.53 216.42 L333.73 216.42 Z" fill="#4b8b8b"/>
<path d="M348.96 209.10 L351.36 213.42 L346.56 213.42 Z" fill="#4b8b8b"/>
<path d="M374.62 206.30 L377.02 210.62 L372.22 210.62 Z" fill="#4b8b8b"/>
<path d="M400.28 206.80 L402.68 211.12 L397.88 211.12 Z" fill="#4b8b8b"/>
<path d="M425.94 205.00 L428.34 209.32 L423.54 209.32 Z" fill="#4b8b8b"/>
<path d="M438.77 203.70 L441.17 208.02 L436.37 208.02 Z" fill="#4b8b8b"/>
<path d="M464.43 201.80 L466.83 206.12 L462.03 206.12 Z" fill="#4b8b8b"/>
<path d="M477.26 199.90 L479.66 204.22 L474.86 204.22 Z" fill="#4b8b8b"/>
<polyline points="323.30,222.30 336.13,212.70 348.96,212.50 374.62,203.80 400.28,201.90 425.94,199.20 438.77,186.20 464.43,182.50 477.26,183.00" fill="none" stroke="#e0086b" stroke-width="1.3" stroke-linejoin="round"/>
<line x1="336.13" y1="210" x2="336.13" y2="215.5" stroke="#e0086b" stroke-width="0.9"/>
<line x1="334.23" y1="210" x2="338.03" y2="210" stroke="#e0086b" stroke-width="0.9"/>
<line x1="334.23" y1="215.5" x2="338.03" y2="215.5" stroke="#e0086b" stroke-width="0.9"/>
<line x1="348.96000000000004" y1="210" x2="348.96000000000004" y2="215" stroke="#e0086b" stroke-width="0.9"/>
<line x1="347.06000000000006" y1="210" x2="350.86" y2="210" stroke="#e0086b" stroke-width="0.9"/>
<line x1="347.06000000000006" y1="215" x2="350.86" y2="215" stroke="#e0086b" stroke-width="0.9"/>
<line x1="374.62" y1="199" x2="374.62" y2="208.5" stroke="#e0086b" stroke-width="0.9"/>
<line x1="372.72" y1="199" x2="376.52" y2="199" stroke="#e0086b" stroke-width="0.9"/>
<line x1="372.72" y1="208.5" x2="376.52" y2="208.5" stroke="#e0086b" stroke-width="0.9"/>
<line x1="400.28000000000003" y1="198.5" x2="400.28000000000003" y2="205.5" stroke="#e0086b" stroke-width="0.9"/>
<line x1="398.38000000000005" y1="198.5" x2="402.18" y2="198.5" stroke="#e0086b" stroke-width="0.9"/>
<line x1="398.38000000000005" y1="205.5" x2="402.18" y2="205.5" stroke="#e0086b" stroke-width="0.9"/>
<line x1="425.94" y1="193.3" x2="425.94" y2="204.8" stroke="#e0086b" stroke-width="0.9"/>
<line x1="424.04" y1="193.3" x2="427.84" y2="193.3" stroke="#e0086b" stroke-width="0.9"/>
<line x1="424.04" y1="204.8" x2="427.84" y2="204.8" stroke="#e0086b" stroke-width="0.9"/>
<line x1="438.77" y1="172" x2="438.77" y2="198" stroke="#e0086b" stroke-width="0.9"/>
<line x1="436.87" y1="172" x2="440.66999999999996" y2="172" stroke="#e0086b" stroke-width="0.9"/>
<line x1="436.87" y1="198" x2="440.66999999999996" y2="198" stroke="#e0086b" stroke-width="0.9"/>
<line x1="464.43" y1="172" x2="464.43" y2="193" stroke="#e0086b" stroke-width="0.9"/>
<line x1="462.53000000000003" y1="172" x2="466.33" y2="172" stroke="#e0086b" stroke-width="0.9"/>
<line x1="462.53000000000003" y1="193" x2="466.33" y2="193" stroke="#e0086b" stroke-width="0.9"/>
<line x1="477.26" y1="172" x2="477.26" y2="194" stroke="#e0086b" stroke-width="0.9"/>
<line x1="475.36" y1="172" x2="479.15999999999997" y2="172" stroke="#e0086b" stroke-width="0.9"/>
<line x1="475.36" y1="194" x2="479.15999999999997" y2="194" stroke="#e0086b" stroke-width="0.9"/>
<rect x="321.21" y="220.21" width="4.18" height="4.18" fill="#e0086b"/>
<rect x="334.04" y="210.61" width="4.18" height="4.18" fill="#e0086b"/>
<rect x="346.87" y="210.41" width="4.18" height="4.18" fill="#e0086b"/>
<rect x="372.53" y="201.71" width="4.18" height="4.18" fill="#e0086b"/>
<rect x="398.19" y="199.81" width="4.18" height="4.18" fill="#e0086b"/>
<rect x="423.85" y="197.11" width="4.18" height="4.18" fill="#e0086b"/>
<rect x="436.68" y="184.11" width="4.18" height="4.18" fill="#e0086b"/>
<rect x="462.34" y="180.41" width="4.18" height="4.18" fill="#e0086b"/>
<rect x="475.17" y="180.91" width="4.18" height="4.18" fill="#e0086b"/>
<polyline points="323.30,222.30 336.13,214.00 348.96,211.20 374.62,204.80 400.28,198.00 425.94,184.60 438.77,178.60 464.43,165.20 477.26,143.70" fill="none" stroke="#000" stroke-width="1.3" stroke-linejoin="round"/>
<line x1="336.13" y1="211.5" x2="336.13" y2="216.5" stroke="#000" stroke-width="0.9"/>
<line x1="334.23" y1="211.5" x2="338.03" y2="211.5" stroke="#000" stroke-width="0.9"/>
<line x1="334.23" y1="216.5" x2="338.03" y2="216.5" stroke="#000" stroke-width="0.9"/>
<line x1="348.96000000000004" y1="208.5" x2="348.96000000000004" y2="214" stroke="#000" stroke-width="0.9"/>
<line x1="347.06000000000006" y1="208.5" x2="350.86" y2="208.5" stroke="#000" stroke-width="0.9"/>
<line x1="347.06000000000006" y1="214" x2="350.86" y2="214" stroke="#000" stroke-width="0.9"/>
<line x1="374.62" y1="201" x2="374.62" y2="208.5" stroke="#000" stroke-width="0.9"/>
<line x1="372.72" y1="201" x2="376.52" y2="201" stroke="#000" stroke-width="0.9"/>
<line x1="372.72" y1="208.5" x2="376.52" y2="208.5" stroke="#000" stroke-width="0.9"/>
<line x1="400.28000000000003" y1="194" x2="400.28000000000003" y2="202" stroke="#000" stroke-width="0.9"/>
<line x1="398.38000000000005" y1="194" x2="402.18" y2="194" stroke="#000" stroke-width="0.9"/>
<line x1="398.38000000000005" y1="202" x2="402.18" y2="202" stroke="#000" stroke-width="0.9"/>
<line x1="425.94" y1="177.3" x2="425.94" y2="192" stroke="#000" stroke-width="0.9"/>
<line x1="424.04" y1="177.3" x2="427.84" y2="177.3" stroke="#000" stroke-width="0.9"/>
<line x1="424.04" y1="192" x2="427.84" y2="192" stroke="#000" stroke-width="0.9"/>
<line x1="438.77" y1="169.4" x2="438.77" y2="187.7" stroke="#000" stroke-width="0.9"/>
<line x1="436.87" y1="169.4" x2="440.66999999999996" y2="169.4" stroke="#000" stroke-width="0.9"/>
<line x1="436.87" y1="187.7" x2="440.66999999999996" y2="187.7" stroke="#000" stroke-width="0.9"/>
<line x1="464.43" y1="150.4" x2="464.43" y2="179.2" stroke="#000" stroke-width="0.9"/>
<line x1="462.53000000000003" y1="150.4" x2="466.33" y2="150.4" stroke="#000" stroke-width="0.9"/>
<line x1="462.53000000000003" y1="179.2" x2="466.33" y2="179.2" stroke="#000" stroke-width="0.9"/>
<line x1="477.26" y1="125.8" x2="477.26" y2="161.9" stroke="#000" stroke-width="0.9"/>
<line x1="475.36" y1="125.8" x2="479.15999999999997" y2="125.8" stroke="#000" stroke-width="0.9"/>
<line x1="475.36" y1="161.9" x2="479.15999999999997" y2="161.9" stroke="#000" stroke-width="0.9"/>
<circle cx="323.30" cy="222.30" r="2.5" fill="#000"/>
<circle cx="336.13" cy="214.00" r="2.5" fill="#000"/>
<circle cx="348.96" cy="211.20" r="2.5" fill="#000"/>
<circle cx="374.62" cy="204.80" r="2.5" fill="#000"/>
<circle cx="400.28" cy="198.00" r="2.5" fill="#000"/>
<circle cx="425.94" cy="184.60" r="2.5" fill="#000"/>
<circle cx="438.77" cy="178.60" r="2.5" fill="#000"/>
<circle cx="464.43" cy="165.20" r="2.5" fill="#000"/>
<circle cx="477.26" cy="143.70" r="2.5" fill="#000"/>
<polyline points="482.3,143.7 498.5,143.7 498.5,221.4 494,221.4" fill="none" stroke="#222" stroke-width="1.1"/>
<polyline points="485.2,182 489.7,182 489.7,221.4 486,221.4" fill="none" stroke="#222" stroke-width="1.1"/>
<polyline points="480.4,202.7 480.4,202.7 480.4,221.4 482,221.4" fill="none" stroke="#222" stroke-width="1.1"/>
<circle cx="503.3" cy="174.30" r="1.25" fill="#000"/>
<circle cx="503.3" cy="178.80" r="1.25" fill="#000"/>
<circle cx="503.3" cy="183.30" r="1.25" fill="#000"/>
<circle cx="503.3" cy="187.80" r="1.25" fill="#000"/>
<circle cx="493" cy="193.80" r="1.25" fill="#000"/>
<circle cx="493" cy="198.30" r="1.25" fill="#000"/>
<circle cx="493" cy="202.80" r="1.25" fill="#000"/>
<circle cx="493" cy="207.30" r="1.25" fill="#000"/>
<circle cx="484.4" cy="207.50" r="1.25" fill="#000"/>
<circle cx="484.4" cy="212.10" r="1.25" fill="#000"/>
<circle cx="484.4" cy="216.70" r="1.25" fill="#000"/>
<text x="38.5" y="266.3" font-size="13.3" text-anchor="start" fill="#000" font-weight="bold">C</text>
<line x1="71.2" y1="274.29999999999995" x2="71.2" y2="348.5" stroke="#222" stroke-width="1.0"/>
<line x1="70.7" y1="347.9" x2="180.2" y2="347.9" stroke="#222" stroke-width="1.0"/>
<line x1="68.2" y1="347.9" x2="71.2" y2="347.9" stroke="#222" stroke-width="1.0"/>
<text x="66.9" y="350.04999999999995" font-size="6.1" text-anchor="end" fill="#000" font-weight="bold">0</text>
<line x1="68.2" y1="323.5333333333333" x2="71.2" y2="323.5333333333333" stroke="#222" stroke-width="1.0"/>
<text x="66.9" y="325.6833333333333" font-size="6.1" text-anchor="end" fill="#000" font-weight="bold">500</text>
<line x1="68.2" y1="299.16666666666663" x2="71.2" y2="299.16666666666663" stroke="#222" stroke-width="1.0"/>
<text x="66.9" y="301.3166666666666" font-size="6.1" text-anchor="end" fill="#000" font-weight="bold">1,000</text>
<line x1="68.2" y1="274.79999999999995" x2="71.2" y2="274.79999999999995" stroke="#222" stroke-width="1.0"/>
<text x="66.9" y="276.94999999999993" font-size="6.1" text-anchor="end" fill="#000" font-weight="bold">1,500</text>
<line x1="71.2" y1="347.9" x2="71.2" y2="350.9" stroke="#222" stroke-width="1.0"/>
<text x="71.2" y="357.59999999999997" font-size="6.1" text-anchor="middle" fill="#000" font-weight="bold">0</text>
<line x1="86.7" y1="347.9" x2="86.7" y2="350.9" stroke="#222" stroke-width="1.0"/>
<text x="86.7" y="357.59999999999997" font-size="6.1" text-anchor="middle" fill="#000" font-weight="bold">8</text>
<line x1="102.2" y1="347.9" x2="102.2" y2="350.9" stroke="#222" stroke-width="1.0"/>
<text x="102.2" y="357.59999999999997" font-size="6.1" text-anchor="middle" fill="#000" font-weight="bold">12</text>
<line x1="117.7" y1="347.9" x2="117.7" y2="350.9" stroke="#222" stroke-width="1.0"/>
<text x="117.7" y="357.59999999999997" font-size="6.1" text-anchor="middle" fill="#000" font-weight="bold">18</text>
<line x1="133.2" y1="347.9" x2="133.2" y2="350.9" stroke="#222" stroke-width="1.0"/>
<text x="133.2" y="357.59999999999997" font-size="6.1" text-anchor="middle" fill="#000" font-weight="bold">20</text>
<line x1="148.7" y1="347.9" x2="148.7" y2="350.9" stroke="#222" stroke-width="1.0"/>
<text x="148.7" y="357.59999999999997" font-size="6.1" text-anchor="middle" fill="#000" font-weight="bold">22</text>
<line x1="164.2" y1="347.9" x2="164.2" y2="350.9" stroke="#222" stroke-width="1.0"/>
<text x="164.2" y="357.59999999999997" font-size="6.1" text-anchor="middle" fill="#000" font-weight="bold">24</text>
<line x1="179.7" y1="347.9" x2="179.7" y2="350.9" stroke="#222" stroke-width="1.0"/>
<text x="179.7" y="357.59999999999997" font-size="6.1" text-anchor="middle" fill="#000" font-weight="bold">27</text>
<text x="86.2" y="364.7" font-size="6.8" text-anchor="start" fill="#000" font-weight="bold" textLength="85.8" lengthAdjust="spacingAndGlyphs">Days after tumor inoculation</text>
<text x="0" y="0" font-size="6.3" font-weight="bold" text-anchor="middle" transform="translate(49 311.0) rotate(-90)" textLength="63.2" lengthAdjust="spacingAndGlyphs">Tumor volume (mm<tspan font-size="3.8" dy="-2">3</tspan><tspan dy="2">)</tspan></text>
<text x="131" y="274" font-size="6.5" text-anchor="middle" fill="#000" font-weight="bold" textLength="21.7" lengthAdjust="spacingAndGlyphs">Control</text>
<polyline points="71.20,347.90 86.70,340.59 102.20,335.23 117.70,324.51 133.20,317.69 148.70,317.69 164.20,320.12 179.70,315.74" fill="none" stroke="#000" stroke-width="0.7" stroke-linejoin="round"/>
<polyline points="71.20,347.90 86.70,341.81 102.20,336.35 117.70,329.87 133.20,322.31 148.70,314.76 164.20,292.10 179.70,279.67" fill="none" stroke="#000" stroke-width="0.7" stroke-linejoin="round"/>
<polyline points="71.20,347.90 86.70,343.03 102.20,338.15 117.70,333.28 133.20,327.72 148.70,330.99 164.20,299.65 179.70,293.32" fill="none" stroke="#000" stroke-width="0.7" stroke-linejoin="round"/>
<polyline points="71.20,347.90 86.70,343.51 102.20,339.13 117.70,331.82 133.20,325.00 148.70,321.24 164.20,318.03 179.70,300.63" fill="none" stroke="#000" stroke-width="0.7" stroke-linejoin="round"/>
<polyline points="71.20,347.90 86.70,344.00 102.20,340.59 117.70,335.23 133.20,329.38 148.70,320.61 164.20,318.66 179.70,316.71" fill="none" stroke="#000" stroke-width="0.7" stroke-linejoin="round"/>
<polyline points="71.20,347.90 86.70,344.49 102.20,341.08 117.70,336.20 133.20,331.82 148.70,335.23 164.20,322.31 179.70,317.69" fill="none" stroke="#000" stroke-width="0.7" stroke-linejoin="round"/>
<polyline points="71.20,347.90 86.70,344.98 102.20,341.76 117.70,338.54 133.20,334.21 148.70,334.21 164.20,323.53 179.70,318.66" fill="none" stroke="#000" stroke-width="0.7" stroke-linejoin="round"/>
<polyline points="71.20,347.90 86.70,344.00 102.20,340.10 117.70,335.72 133.20,330.84 148.70,325.00 164.20,320.61 179.70,316.22" fill="none" stroke="#000" stroke-width="0.7" stroke-linejoin="round"/>
<polyline points="71.20,347.90 86.70,345.46 102.20,342.05 117.70,337.18 133.20,333.28 148.70,327.43 164.20,322.56 179.70,318.17" fill="none" stroke="#000" stroke-width="0.7" stroke-linejoin="round"/>
<polyline points="71.20,347.90 86.70,342.54 102.20,337.67 117.70,331.82 133.20,326.94 148.70,322.56 164.20,319.63 179.70,317.20" fill="none" stroke="#000" stroke-width="0.7" stroke-linejoin="round"/>
<line x1="216.2" y1="273.20000000000005" x2="216.2" y2="346.40000000000003" stroke="#222" stroke-width="1.0"/>
<line x1="215.7" y1="345.8" x2="325.2" y2="345.8" stroke="#222" stroke-width="1.0"/>
<line x1="213.2" y1="345.8" x2="216.2" y2="345.8" stroke="#222" stroke-width="1.0"/>
<text x="211.89999999999998" y="347.95" font-size="6.1" text-anchor="end" fill="#000" font-weight="bold">0</text>
<line x1="213.2" y1="321.76666666666665" x2="216.2" y2="321.76666666666665" stroke="#222" stroke-width="1.0"/>
<text x="211.89999999999998" y="323.91666666666663" font-size="6.1" text-anchor="end" fill="#000" font-weight="bold">500</text>
<line x1="213.2" y1="297.73333333333335" x2="216.2" y2="297.73333333333335" stroke="#222" stroke-width="1.0"/>
<text x="211.89999999999998" y="299.8833333333333" font-size="6.1" text-anchor="end" fill="#000" font-weight="bold">1,000</text>
<line x1="213.2" y1="273.70000000000005" x2="216.2" y2="273.70000000000005" stroke="#222" stroke-width="1.0"/>
<text x="211.89999999999998" y="275.85" font-size="6.1" text-anchor="end" fill="#000" font-weight="bold">1,500</text>
<line x1="216.2" y1="345.8" x2="216.2" y2="348.8" stroke="#222" stroke-width="1.0"/>
<text x="216.2" y="355.5" font-size="6.1" text-anchor="middle" fill="#000" font-weight="bold">0</text>
<line x1="231.7" y1="345.8" x2="231.7" y2="348.8" stroke="#222" stroke-width="1.0"/>
<text x="231.7" y="355.5" font-size="6.1" text-anchor="middle" fill="#000" font-weight="bold">8</text>
<line x1="247.2" y1="345.8" x2="247.2" y2="348.8" stroke="#222" stroke-width="1.0"/>
<text x="247.2" y="355.5" font-size="6.1" text-anchor="middle" fill="#000" font-weight="bold">12</text>
<line x1="262.7" y1="345.8" x2="262.7" y2="348.8" stroke="#222" stroke-width="1.0"/>
<text x="262.7" y="355.5" font-size="6.1" text-anchor="middle" fill="#000" font-weight="bold">18</text>
<line x1="278.2" y1="345.8" x2="278.2" y2="348.8" stroke="#222" stroke-width="1.0"/>
<text x="278.2" y="355.5" font-size="6.1" text-anchor="middle" fill="#000" font-weight="bold">20</text>
<line x1="293.7" y1="345.8" x2="293.7" y2="348.8" stroke="#222" stroke-width="1.0"/>
<text x="293.7" y="355.5" font-size="6.1" text-anchor="middle" fill="#000" font-weight="bold">22</text>
<line x1="309.2" y1="345.8" x2="309.2" y2="348.8" stroke="#222" stroke-width="1.0"/>
<text x="309.2" y="355.5" font-size="6.1" text-anchor="middle" fill="#000" font-weight="bold">24</text>
<line x1="324.7" y1="345.8" x2="324.7" y2="348.8" stroke="#222" stroke-width="1.0"/>
<text x="324.7" y="355.5" font-size="6.1" text-anchor="middle" fill="#000" font-weight="bold">27</text>
<text x="231.5" y="362.6" font-size="6.8" text-anchor="start" fill="#000" font-weight="bold" textLength="85.8" lengthAdjust="spacingAndGlyphs">Days after tumor inoculation</text>
<text x="0" y="0" font-size="6.3" font-weight="bold" text-anchor="middle" transform="translate(194.5 308.90000000000003) rotate(-90)" textLength="63.2" lengthAdjust="spacingAndGlyphs">Tumor volume (mm<tspan font-size="3.8" dy="-2">3</tspan><tspan dy="2">)</tspan></text>
<text x="272.8" y="273.8" font-size="6.5" text-anchor="middle" fill="#000" font-weight="bold" textLength="14.3" lengthAdjust="spacingAndGlyphs">IL-12</text>
<polyline points="216.20,345.80 231.70,331.38 247.20,337.15 262.70,333.30 278.20,329.94 293.70,325.61 309.20,288.60 324.70,294.37" fill="none" stroke="#e23a92" stroke-width="0.7" stroke-linejoin="round"/>
<polyline points="216.20,345.80 231.70,338.59 247.20,336.19 262.70,331.38 278.20,321.29 293.70,325.61 309.20,292.93 324.70,277.55" fill="none" stroke="#e23a92" stroke-width="0.7" stroke-linejoin="round"/>
<polyline points="216.20,345.80 231.70,340.03 247.20,338.11 262.70,333.78 278.20,331.38 293.70,328.02 309.20,305.42 324.70,302.54" fill="none" stroke="#e23a92" stroke-width="0.7" stroke-linejoin="round"/>
<polyline points="216.20,345.80 231.70,340.99 247.20,338.59 262.70,336.19 278.20,334.74 293.70,331.38 309.20,321.77 324.70,296.77" fill="none" stroke="#e23a92" stroke-width="0.7" stroke-linejoin="round"/>
<polyline points="216.20,345.80 231.70,341.95 247.20,339.55 262.70,337.15 278.20,333.30 293.70,339.07 309.20,319.84 324.70,311.19" fill="none" stroke="#e23a92" stroke-width="0.7" stroke-linejoin="round"/>
<polyline points="216.20,345.80 231.70,342.92 247.20,340.99 262.70,338.59 278.20,336.19 293.70,335.71 309.20,324.65 324.70,317.92" fill="none" stroke="#e23a92" stroke-width="0.7" stroke-linejoin="round"/>
<polyline points="216.20,345.80 231.70,343.88 247.20,341.95 262.70,340.03 278.20,339.55 293.70,336.19 309.20,331.38 324.70,328.02" fill="none" stroke="#e23a92" stroke-width="0.7" stroke-linejoin="round"/>
<polyline points="216.20,345.80 231.70,343.40 247.20,340.51 262.70,337.63 278.20,335.23 293.70,333.78 309.20,324.17 324.70,318.88" fill="none" stroke="#e23a92" stroke-width="0.7" stroke-linejoin="round"/>
<polyline points="216.20,345.80 231.70,342.44 247.20,340.03 262.70,339.07 278.20,337.15 293.70,333.30 309.20,325.61 324.70,327.53" fill="none" stroke="#e23a92" stroke-width="0.7" stroke-linejoin="round"/>
<line x1="71.2" y1="391.0" x2="71.2" y2="464.40000000000003" stroke="#222" stroke-width="1.0"/>
<line x1="70.7" y1="463.8" x2="180.2" y2="463.8" stroke="#222" stroke-width="1.0"/>
<line x1="68.2" y1="463.8" x2="71.2" y2="463.8" stroke="#222" stroke-width="1.0"/>
<text x="66.9" y="465.95" font-size="6.1" text-anchor="end" fill="#000" font-weight="bold">0</text>
<line x1="68.2" y1="439.7" x2="71.2" y2="439.7" stroke="#222" stroke-width="1.0"/>
<text x="66.9" y="441.84999999999997" font-size="6.1" text-anchor="end" fill="#000" font-weight="bold">500</text>
<line x1="68.2" y1="415.6" x2="71.2" y2="415.6" stroke="#222" stroke-width="1.0"/>
<text x="66.9" y="417.75" font-size="6.1" text-anchor="end" fill="#000" font-weight="bold">1,000</text>
<line x1="68.2" y1="391.5" x2="71.2" y2="391.5" stroke="#222" stroke-width="1.0"/>
<text x="66.9" y="393.65" font-size="6.1" text-anchor="end" fill="#000" font-weight="bold">1,500</text>
<line x1="71.2" y1="463.8" x2="71.2" y2="466.8" stroke="#222" stroke-width="1.0"/>
<text x="71.2" y="473.5" font-size="6.1" text-anchor="middle" fill="#000" font-weight="bold">0</text>
<line x1="86.7" y1="463.8" x2="86.7" y2="466.8" stroke="#222" stroke-width="1.0"/>
<text x="86.7" y="473.5" font-size="6.1" text-anchor="middle" fill="#000" font-weight="bold">8</text>
<line x1="102.2" y1="463.8" x2="102.2" y2="466.8" stroke="#222" stroke-width="1.0"/>
<text x="102.2" y="473.5" font-size="6.1" text-anchor="middle" fill="#000" font-weight="bold">12</text>
<line x1="117.7" y1="463.8" x2="117.7" y2="466.8" stroke="#222" stroke-width="1.0"/>
<text x="117.7" y="473.5" font-size="6.1" text-anchor="middle" fill="#000" font-weight="bold">18</text>
<line x1="133.2" y1="463.8" x2="133.2" y2="466.8" stroke="#222" stroke-width="1.0"/>
<text x="133.2" y="473.5" font-size="6.1" text-anchor="middle" fill="#000" font-weight="bold">20</text>
<line x1="148.7" y1="463.8" x2="148.7" y2="466.8" stroke="#222" stroke-width="1.0"/>
<text x="148.7" y="473.5" font-size="6.1" text-anchor="middle" fill="#000" font-weight="bold">22</text>
<line x1="164.2" y1="463.8" x2="164.2" y2="466.8" stroke="#222" stroke-width="1.0"/>
<text x="164.2" y="473.5" font-size="6.1" text-anchor="middle" fill="#000" font-weight="bold">24</text>
<line x1="179.7" y1="463.8" x2="179.7" y2="466.8" stroke="#222" stroke-width="1.0"/>
<text x="179.7" y="473.5" font-size="6.1" text-anchor="middle" fill="#000" font-weight="bold">27</text>
<text x="86.2" y="480.6" font-size="6.8" text-anchor="start" fill="#000" font-weight="bold" textLength="85.8" lengthAdjust="spacingAndGlyphs">Days after tumor inoculation</text>
<text x="0" y="0" font-size="6.3" font-weight="bold" text-anchor="middle" transform="translate(49 426.90000000000003) rotate(-90)" textLength="63.2" lengthAdjust="spacingAndGlyphs">Tumor volume (mm<tspan font-size="3.8" dy="-2">3</tspan><tspan dy="2">)</tspan></text>
<text x="128.5" y="389.5" font-size="6.5" text-anchor="middle" fill="#000" font-weight="bold" textLength="33" lengthAdjust="spacingAndGlyphs">Trabectedin</text>
<polyline points="71.20,463.80 86.70,459.46 102.20,444.52 117.70,457.53 133.20,454.16 148.70,456.57 164.20,455.12 179.70,449.34" fill="none" stroke="#4b8b8b" stroke-width="0.7" stroke-linejoin="round"/>
<polyline points="71.20,463.80 86.70,458.98 102.20,455.12 117.70,453.20 133.20,450.30 148.70,448.38 164.20,436.33 179.70,418.01" fill="none" stroke="#4b8b8b" stroke-width="0.7" stroke-linejoin="round"/>
<polyline points="71.20,463.80 86.70,459.94 102.20,454.16 117.70,452.23 133.20,449.82 148.70,446.93 164.20,437.29 179.70,430.06" fill="none" stroke="#4b8b8b" stroke-width="0.7" stroke-linejoin="round"/>
<polyline points="71.20,463.80 86.70,460.91 102.20,458.02 117.70,455.12 133.20,454.16 148.70,456.57 164.20,439.70 179.70,436.81" fill="none" stroke="#4b8b8b" stroke-width="0.7" stroke-linejoin="round"/>
<polyline points="71.20,463.80 86.70,460.43 102.20,458.98 117.70,457.05 133.20,456.57 148.70,454.16 164.20,448.38 179.70,440.66" fill="none" stroke="#4b8b8b" stroke-width="0.7" stroke-linejoin="round"/>
<polyline points="71.20,463.80 86.70,461.39 102.20,456.57 117.70,454.16 133.20,454.16 148.70,457.53 164.20,451.75 179.70,448.38" fill="none" stroke="#4b8b8b" stroke-width="0.7" stroke-linejoin="round"/>
<polyline points="71.20,463.80 86.70,460.91 102.20,459.46 117.70,458.50 133.20,457.53 148.70,455.12 164.20,450.30 179.70,450.30" fill="none" stroke="#4b8b8b" stroke-width="0.7" stroke-linejoin="round"/>
<polyline points="71.20,463.80 86.70,461.87 102.20,460.43 117.70,459.46 133.20,456.57 148.70,458.02 164.20,454.16 179.70,453.20" fill="none" stroke="#4b8b8b" stroke-width="0.7" stroke-linejoin="round"/>
<polyline points="71.20,463.80 86.70,461.39 102.20,458.50 117.70,456.57 133.20,455.12 148.70,454.16 164.20,453.20 179.70,454.64" fill="none" stroke="#4b8b8b" stroke-width="0.7" stroke-linejoin="round"/>
<polyline points="71.20,463.80 86.70,459.46 102.20,457.05 117.70,456.09 133.20,453.20 148.70,451.27 164.20,449.34 179.70,451.75" fill="none" stroke="#4b8b8b" stroke-width="0.7" stroke-linejoin="round"/>
<line x1="216.2" y1="388.8" x2="216.2" y2="464.40000000000003" stroke="#222" stroke-width="1.0"/>
<line x1="215.7" y1="463.8" x2="326.95" y2="463.8" stroke="#222" stroke-width="1.0"/>
<line x1="213.2" y1="463.8" x2="216.2" y2="463.8" stroke="#222" stroke-width="1.0"/>
<text x="211.89999999999998" y="465.95" font-size="6.1" text-anchor="end" fill="#000" font-weight="bold">0</text>
<line x1="213.2" y1="438.9666666666667" x2="216.2" y2="438.9666666666667" stroke="#222" stroke-width="1.0"/>
<text x="211.89999999999998" y="441.1166666666667" font-size="6.1" text-anchor="end" fill="#000" font-weight="bold">500</text>
<line x1="213.2" y1="414.1333333333333" x2="216.2" y2="414.1333333333333" stroke="#222" stroke-width="1.0"/>
<text x="211.89999999999998" y="416.2833333333333" font-size="6.1" text-anchor="end" fill="#000" font-weight="bold">1,000</text>
<line x1="213.2" y1="389.3" x2="216.2" y2="389.3" stroke="#222" stroke-width="1.0"/>
<text x="211.89999999999998" y="391.45" font-size="6.1" text-anchor="end" fill="#000" font-weight="bold">1,500</text>
<line x1="216.2" y1="463.8" x2="216.2" y2="466.8" stroke="#222" stroke-width="1.0"/>
<text x="216.2" y="473.5" font-size="6.1" text-anchor="middle" fill="#000" font-weight="bold">0</text>
<line x1="231.95" y1="463.8" x2="231.95" y2="466.8" stroke="#222" stroke-width="1.0"/>
<text x="231.95" y="473.5" font-size="6.1" text-anchor="middle" fill="#000" font-weight="bold">8</text>
<line x1="247.7" y1="463.8" x2="247.7" y2="466.8" stroke="#222" stroke-width="1.0"/>
<text x="247.7" y="473.5" font-size="6.1" text-anchor="middle" fill="#000" font-weight="bold">12</text>
<line x1="263.45" y1="463.8" x2="263.45" y2="466.8" stroke="#222" stroke-width="1.0"/>
<text x="263.45" y="473.5" font-size="6.1" text-anchor="middle" fill="#000" font-weight="bold">18</text>
<line x1="279.2" y1="463.8" x2="279.2" y2="466.8" stroke="#222" stroke-width="1.0"/>
<text x="279.2" y="473.5" font-size="6.1" text-anchor="middle" fill="#000" font-weight="bold">20</text>
<line x1="294.95" y1="463.8" x2="294.95" y2="466.8" stroke="#222" stroke-width="1.0"/>
<text x="294.95" y="473.5" font-size="6.1" text-anchor="middle" fill="#000" font-weight="bold">22</text>
<line x1="310.7" y1="463.8" x2="310.7" y2="466.8" stroke="#222" stroke-width="1.0"/>
<text x="310.7" y="473.5" font-size="6.1" text-anchor="middle" fill="#000" font-weight="bold">24</text>
<line x1="326.45" y1="463.8" x2="326.45" y2="466.8" stroke="#222" stroke-width="1.0"/>
<text x="326.45" y="473.5" font-size="6.1" text-anchor="middle" fill="#000" font-weight="bold">27</text>
<text x="231" y="480.6" font-size="6.8" text-anchor="start" fill="#000" font-weight="bold" textLength="85.8" lengthAdjust="spacingAndGlyphs">Days after tumor inoculation</text>
<text x="0" y="0" font-size="6.3" font-weight="bold" text-anchor="middle" transform="translate(194.2 426.90000000000003) rotate(-90)" textLength="63.2" lengthAdjust="spacingAndGlyphs">Tumor volume (mm<tspan font-size="3.8" dy="-2">3</tspan><tspan dy="2">)</tspan></text>
<text x="272.3" y="389.5" font-size="6.5" text-anchor="middle" fill="#000" font-weight="bold" textLength="56.5" lengthAdjust="spacingAndGlyphs">IL-12 + trabectedin</text>
<polyline points="216.20,463.80 231.95,455.36 247.70,456.35 263.45,457.84 279.20,451.38 294.95,449.89 310.70,447.91 326.45,445.92" fill="none" stroke="#40129a" stroke-width="0.7" stroke-linejoin="round"/>
<polyline points="216.20,463.80 231.95,456.35 247.70,455.85 263.45,457.34 279.20,454.86 294.95,452.87 310.70,448.90 326.45,446.42" fill="none" stroke="#40129a" stroke-width="0.7" stroke-linejoin="round"/>
<polyline points="216.20,463.80 231.95,458.83 247.70,457.34 263.45,458.83 279.20,458.83 294.95,457.34 310.70,454.86 326.45,454.86" fill="none" stroke="#40129a" stroke-width="0.7" stroke-linejoin="round"/>
<polyline points="216.20,463.80 231.95,459.83 247.70,457.84 263.45,458.34 279.20,459.33 294.95,457.84 310.70,456.35 326.45,455.36" fill="none" stroke="#40129a" stroke-width="0.7" stroke-linejoin="round"/>
<polyline points="216.20,463.80 231.95,460.82 247.70,458.83 263.45,459.33 279.20,458.83 294.95,458.34 310.70,455.85 326.45,456.85" fill="none" stroke="#40129a" stroke-width="0.7" stroke-linejoin="round"/>
<polyline points="216.20,463.80 231.95,459.33 247.70,459.83 263.45,457.34 279.20,453.87 294.95,458.83 310.70,459.83 326.45,463.80" fill="none" stroke="#40129a" stroke-width="0.7" stroke-linejoin="round"/>
<polyline points="216.20,463.80 231.95,461.32 247.70,460.32 263.45,459.83 279.20,459.33 294.95,458.83 310.70,457.84 326.45,457.84" fill="none" stroke="#40129a" stroke-width="0.7" stroke-linejoin="round"/>
<polyline points="216.20,463.80 231.95,460.32 247.70,458.34 263.45,456.85 279.20,458.34 294.95,456.85 310.70,457.34 326.45,458.34" fill="none" stroke="#40129a" stroke-width="0.7" stroke-linejoin="round"/>
<polyline points="216.20,463.80 231.95,461.81 247.70,460.82 263.45,460.32 279.20,459.83 294.95,459.33 310.70,458.34 326.45,458.83" fill="none" stroke="#40129a" stroke-width="0.7" stroke-linejoin="round"/>
<polyline points="216.20,463.80 231.95,457.84 247.70,459.33 263.45,458.83 279.20,457.84 294.95,455.85 310.70,457.34 326.45,453.87" fill="none" stroke="#40129a" stroke-width="0.7" stroke-linejoin="round"/>
<text x="354.0" y="311.3" font-size="13.2" text-anchor="start" fill="#000" font-weight="bold">E</text>
<text x="427.6" y="311.3" font-size="7.4" text-anchor="middle" fill="#000" font-weight="bold" textLength="71.4" lengthAdjust="spacingAndGlyphs">Plasma INF-γ levels</text>
<line x1="374.0" y1="322.2" x2="374.0" y2="413.40000000000003" stroke="#000" stroke-width="1.3"/>
<line x1="373.4" y1="412.8" x2="478" y2="412.8" stroke="#000" stroke-width="1.3"/>
<line x1="370.6" y1="412.8" x2="374.0" y2="412.8" stroke="#000" stroke-width="1.2"/>
<text x="369.6" y="414.90000000000003" font-size="6.0" text-anchor="end" fill="#000" font-weight="bold">0</text>
<line x1="370.6" y1="382.8" x2="374.0" y2="382.8" stroke="#000" stroke-width="1.2"/>
<text x="369.6" y="384.90000000000003" font-size="6.0" text-anchor="end" fill="#000" font-weight="bold">5</text>
<line x1="370.6" y1="352.8" x2="374.0" y2="352.8" stroke="#000" stroke-width="1.2"/>
<text x="369.6" y="354.90000000000003" font-size="6.0" text-anchor="end" fill="#000" font-weight="bold">10</text>
<line x1="370.6" y1="322.8" x2="374.0" y2="322.8" stroke="#000" stroke-width="1.2"/>
<text x="369.6" y="324.90000000000003" font-size="6.0" text-anchor="end" fill="#000" font-weight="bold">15</text>
<text x="0" y="0" font-size="6.5" font-weight="bold" text-anchor="middle" transform="translate(360.2 368.5) rotate(-90)" textLength="19.3" lengthAdjust="spacingAndGlyphs">pg/mL</text>
<rect x="408.2" y="403.9" width="16.4" height="8.9" fill="#f2a3c5" stroke="#e0086b" stroke-width="1.5"/>
<rect x="458.2" y="368.1" width="16.6" height="44.7" fill="#a58fcb" stroke="#40129a" stroke-width="1.5"/>
<line x1="380.5" y1="412.0" x2="402" y2="412.0" stroke="#000" stroke-width="2.2"/>
<circle cx="382.00" cy="411.90" r="1.6" fill="#000"/>
<circle cx="385.00" cy="411.90" r="1.6" fill="#000"/>
<circle cx="388.00" cy="411.90" r="1.6" fill="#000"/>
<circle cx="391.00" cy="411.90" r="1.6" fill="#000"/>
<circle cx="394.00" cy="411.90" r="1.6" fill="#000"/>
<circle cx="397.00" cy="411.90" r="1.6" fill="#000"/>
<circle cx="400.00" cy="411.90" r="1.6" fill="#000"/>
<line x1="431" y1="412.0" x2="452" y2="412.0" stroke="#4b8b8b" stroke-width="2.0"/>
<path d="M432.00 410.40 L433.60 413.28 L430.40 413.28 Z" fill="#4b8b8b"/>
<path d="M435.00 410.40 L436.60 413.28 L433.40 413.28 Z" fill="#4b8b8b"/>
<path d="M438.00 410.40 L439.60 413.28 L436.40 413.28 Z" fill="#4b8b8b"/>
<path d="M441.00 410.40 L442.60 413.28 L439.40 413.28 Z" fill="#4b8b8b"/>
<path d="M444.00 410.40 L445.60 413.28 L442.40 413.28 Z" fill="#4b8b8b"/>
<path d="M447.00 410.40 L448.60 413.28 L445.40 413.28 Z" fill="#4b8b8b"/>
<path d="M450.00 410.40 L451.60 413.28 L448.40 413.28 Z" fill="#4b8b8b"/>
<line x1="416.4" y1="399.3" x2="416.4" y2="408" stroke="#e0086b" stroke-width="1.0"/>
<line x1="413.9" y1="399.3" x2="418.9" y2="399.3" stroke="#e0086b" stroke-width="1.0"/>
<line x1="413.9" y1="408" x2="418.9" y2="408" stroke="#e0086b" stroke-width="1.0"/>
<rect x="414.80" y="381.00" width="3.2" height="3.2" fill="#e0086b"/>
<rect x="414.80" y="388.40" width="3.2" height="3.2" fill="#e0086b"/>
<rect x="410.90" y="405.70" width="3.2" height="3.2" fill="#e0086b"/>
<rect x="418.90" y="405.70" width="3.2" height="3.2" fill="#e0086b"/>
<rect x="410.40" y="410.40" width="3.2" height="3.2" fill="#e0086b"/>
<rect x="418.90" y="410.40" width="3.2" height="3.2" fill="#e0086b"/>
<rect x="414.80" y="410.40" width="3.2" height="3.2" fill="#e0086b"/>
<line x1="466.5" y1="361.3" x2="466.5" y2="374.5" stroke="#40129a" stroke-width="1.0"/>
<line x1="462.5" y1="361.3" x2="470.5" y2="361.3" stroke="#40129a" stroke-width="1.0"/>
<line x1="462.5" y1="374.5" x2="470.5" y2="374.5" stroke="#40129a" stroke-width="1.0"/>
<path d="M466.50 331.30 L468.30 333.10 L466.50 334.90 L464.70 333.10 Z" fill="#40129a"/>
<path d="M466.50 340.70 L468.30 342.50 L466.50 344.30 L464.70 342.50 Z" fill="#40129a"/>
<path d="M466.50 358.60 L468.30 360.40 L466.50 362.20 L464.70 360.40 Z" fill="#40129a"/>
<path d="M462.00 369.20 L463.80 371.00 L462.00 372.80 L460.20 371.00 Z" fill="#40129a"/>
<path d="M470.50 369.20 L472.30 371.00 L470.50 372.80 L468.70 371.00 Z" fill="#40129a"/>
<path d="M466.50 375.50 L468.30 377.30 L466.50 379.10 L464.70 377.30 Z" fill="#40129a"/>
<path d="M462.00 381.20 L463.80 383.00 L462.00 384.80 L460.20 383.00 Z" fill="#40129a"/>
<path d="M470.50 381.20 L472.30 383.00 L470.50 384.80 L468.70 383.00 Z" fill="#40129a"/>
<path d="M466.50 397.90 L468.30 399.70 L466.50 401.50 L464.70 399.70 Z" fill="#40129a"/>
<polyline points="390.8,408 390.8,319 466.5,319 466.5,321.5" fill="none" stroke="#000" stroke-width="1.0"/>
<polyline points="416.3,378.5 416.3,324.6 466.5,324.6 466.5,327" fill="none" stroke="#000" stroke-width="1.0"/>
<polyline points="441.3,408.5 441.3,330.6 466.5,330.6 466.5,332" fill="none" stroke="#000" stroke-width="1.0"/>
<circle cx="418.50" cy="316.10" r="1.15" fill="#000"/>
<circle cx="423.10" cy="316.10" r="1.15" fill="#000"/>
<circle cx="427.70" cy="316.10" r="1.15" fill="#000"/>
<circle cx="432.30" cy="316.10" r="1.15" fill="#000"/>
<circle cx="426.90" cy="321.90" r="1.15" fill="#000"/>
<circle cx="431.50" cy="321.90" r="1.15" fill="#000"/>
<circle cx="436.10" cy="321.90" r="1.15" fill="#000"/>
<circle cx="440.70" cy="321.90" r="1.15" fill="#000"/>
<circle cx="445.40" cy="328.40" r="1.15" fill="#000"/>
<circle cx="450.00" cy="328.40" r="1.15" fill="#000"/>
<circle cx="454.60" cy="328.40" r="1.15" fill="#000"/>
<circle cx="459.20" cy="328.40" r="1.15" fill="#000"/>
<text x="390.6" y="422.2" font-size="6.6" text-anchor="middle" fill="#000" font-weight="bold" textLength="24.2" lengthAdjust="spacingAndGlyphs">Control</text>
<text x="416.6" y="422.2" font-size="6.6" text-anchor="middle" fill="#000" font-weight="bold" textLength="15.7" lengthAdjust="spacingAndGlyphs">IL-12</text>
<text x="441.5" y="422.2" font-size="6.6" text-anchor="middle" fill="#000" font-weight="bold" textLength="14.6" lengthAdjust="spacingAndGlyphs">Trab</text>
<text x="466.5" y="422.2" font-size="6.6" text-anchor="middle" fill="#000" font-weight="bold" textLength="32" lengthAdjust="spacingAndGlyphs">IL-12/Trab</text>
<text x="269.2" y="508.9" font-size="12.8" text-anchor="start" fill="#000" font-weight="bold">G</text>
<text x="338.8" y="501.7" font-size="6.4" text-anchor="middle" fill="#000" font-weight="bold">Spleen</text>
<text x="338.8" y="508.6" font-size="6.4" text-anchor="middle" fill="#000" font-weight="bold">total MDSC</text>
<line x1="290.5" y1="515.8" x2="290.5" y2="594.9" stroke="#333" stroke-width="1.2"/>
<line x1="289.9" y1="594.3" x2="381.6" y2="594.3" stroke="#333" stroke-width="1.2"/>
<line x1="287.7" y1="594.3" x2="290.5" y2="594.3" stroke="#333" stroke-width="1.1"/>
<text x="287.7" y="596.5999999999999" font-size="6.5" text-anchor="end" fill="#000" font-weight="bold">0</text>
<line x1="287.7" y1="574.75" x2="290.5" y2="574.75" stroke="#333" stroke-width="1.1"/>
<text x="287.7" y="577.05" font-size="6.5" text-anchor="end" fill="#000" font-weight="bold">10</text>
<line x1="287.7" y1="555.1999999999999" x2="290.5" y2="555.1999999999999" stroke="#333" stroke-width="1.1"/>
<text x="287.7" y="557.4999999999999" font-size="6.5" text-anchor="end" fill="#000" font-weight="bold">20</text>
<line x1="287.7" y1="535.65" x2="290.5" y2="535.65" stroke="#333" stroke-width="1.1"/>
<text x="287.7" y="537.9499999999999" font-size="6.5" text-anchor="end" fill="#000" font-weight="bold">30</text>
<line x1="287.7" y1="516.0999999999999" x2="290.5" y2="516.0999999999999" stroke="#333" stroke-width="1.1"/>
<text x="287.7" y="518.3999999999999" font-size="6.5" text-anchor="end" fill="#000" font-weight="bold">40</text>
<text x="0" y="0" font-size="6.5" font-weight="bold" text-anchor="middle" transform="translate(279 556.3) rotate(-90)" textLength="52.3" lengthAdjust="spacingAndGlyphs">% of splenocytes</text>
<rect x="299.45" y="559.05" width="12.90" height="35.25" fill="#6b6b6b" stroke="#000" stroke-width="1.3"/>
<circle cx="302.40" cy="557.00" r="1.6" fill="#000"/>
<circle cx="305.90" cy="555.50" r="1.6" fill="#000"/>
<circle cx="309.40" cy="557.50" r="1.6" fill="#000"/>
<circle cx="305.90" cy="558.50" r="1.6" fill="#000"/>
<rect x="321.35" y="541.65" width="12.90" height="52.65" fill="#e97ba8" stroke="#e0086b" stroke-width="1.3"/>
<line x1="327.8" y1="537" x2="327.8" y2="544.3" stroke="#e0086b" stroke-width="1.0"/>
<line x1="324.6" y1="537" x2="331.0" y2="537" stroke="#e0086b" stroke-width="1.0"/>
<line x1="324.6" y1="544.3" x2="331.0" y2="544.3" stroke="#e0086b" stroke-width="1.0"/>
<rect x="326.30" y="533.70" width="3.0" height="3.0" fill="#e0086b"/>
<rect x="326.30" y="538.20" width="3.0" height="3.0" fill="#e0086b"/>
<rect x="326.30" y="545.90" width="3.0" height="3.0" fill="#e0086b"/>
<rect x="343.25" y="584.65" width="12.90" height="9.65" fill="#9cc3c1" stroke="#4b8b8b" stroke-width="1.3"/>
<path d="M345.70 582.40 L347.30 585.28 L344.10 585.28 Z" fill="#4b8b8b"/>
<path d="M348.20 581.90 L349.80 584.78 L346.60 584.78 Z" fill="#4b8b8b"/>
<path d="M351.20 582.40 L352.80 585.28 L349.60 585.28 Z" fill="#4b8b8b"/>
<path d="M353.70 581.90 L355.30 584.78 L352.10 584.78 Z" fill="#4b8b8b"/>
<rect x="365.25" y="576.55" width="12.90" height="17.75" fill="#a48ccb" stroke="#40129a" stroke-width="1.3"/>
<line x1="371.70000000000005" y1="566.2" x2="371.70000000000005" y2="584.5" stroke="#40129a" stroke-width="1.0"/>
<line x1="368.50000000000006" y1="566.2" x2="374.90000000000003" y2="566.2" stroke="#40129a" stroke-width="1.0"/>
<line x1="368.50000000000006" y1="584.5" x2="374.90000000000003" y2="584.5" stroke="#40129a" stroke-width="1.0"/>
<path d="M371.70 557.70 L373.50 559.50 L371.70 561.30 L369.90 559.50 Z" fill="#40129a"/>
<path d="M371.70 573.60 L373.50 575.40 L371.70 577.20 L369.90 575.40 Z" fill="#40129a"/>
<path d="M371.70 588.80 L373.50 590.60 L371.70 592.40 L369.90 590.60 Z" fill="#40129a"/>
<polyline points="305.9,551.6 305.9,525.1 349.5,525.1 349.5,582" fill="none" stroke="#111" stroke-width="0.9"/>
<polyline points="327.4,520.2 327.4,518.4 371.5,518.4 371.5,554.4" fill="none" stroke="#111" stroke-width="0.9"/>
<polyline points="327.4,533 327.4,529.6 349.5,529.6 349.5,582" fill="none" stroke="#111" stroke-width="0.9"/>
<circle cx="327.70" cy="523.10" r="0.95" fill="#111"/>
<circle cx="347.85" cy="516.40" r="0.95" fill="#111"/>
<circle cx="350.55" cy="516.40" r="0.95" fill="#111"/>
<circle cx="337.15" cy="528.00" r="0.95" fill="#111"/>
<circle cx="339.85" cy="528.00" r="0.95" fill="#111"/>
<text x="305.90000000000003" y="604.9" font-size="6.4" text-anchor="middle" fill="#000" font-weight="bold" textLength="21.6" lengthAdjust="spacingAndGlyphs">Control</text>
<text x="327.8" y="604.9" font-size="6.4" text-anchor="middle" fill="#000" font-weight="bold" textLength="14.4" lengthAdjust="spacingAndGlyphs">IL-12</text>
<text x="348.50000000000006" y="604.9" font-size="6.4" text-anchor="middle" fill="#000" font-weight="bold" textLength="11.5" lengthAdjust="spacingAndGlyphs">Trab</text>
<text x="372.00000000000006" y="604.9" font-size="6.4" text-anchor="middle" fill="#000" font-weight="bold" textLength="28" lengthAdjust="spacingAndGlyphs">IL-12/Trab</text>
<text x="393.5" y="508.9" font-size="12.8" text-anchor="start" fill="#000" font-weight="bold">H</text>
<text x="468.8" y="501.0" font-size="6.4" text-anchor="middle" fill="#000" font-weight="bold">Spleen</text>
<text x="468.8" y="508.6" font-size="6.4" text-anchor="middle" fill="#000" font-weight="bold">total MDSC</text>
<line x1="422.5" y1="518" x2="422.5" y2="595.1" stroke="#333" stroke-width="1.2"/>
<line x1="421.9" y1="594.5" x2="510.8" y2="594.5" stroke="#333" stroke-width="1.2"/>
<line x1="419.7" y1="594.5" x2="422.5" y2="594.5" stroke="#333" stroke-width="1.1"/>
<text x="419.7" y="596.8" font-size="6.5" text-anchor="end" fill="#000" font-weight="bold">0</text>
<line x1="419.7" y1="579.35" x2="422.5" y2="579.35" stroke="#333" stroke-width="1.1"/>
<text x="419.5" y="581.45" font-size="6.2" font-weight="bold" text-anchor="end" fill="#000">2 × 10<tspan font-size="3.8" dy="-2.0">7</tspan></text>
<line x1="419.7" y1="564.2" x2="422.5" y2="564.2" stroke="#333" stroke-width="1.1"/>
<text x="419.5" y="566.3000000000001" font-size="6.2" font-weight="bold" text-anchor="end" fill="#000">4 × 10<tspan font-size="3.8" dy="-2.0">7</tspan></text>
<line x1="419.7" y1="549.05" x2="422.5" y2="549.05" stroke="#333" stroke-width="1.1"/>
<text x="419.5" y="551.15" font-size="6.2" font-weight="bold" text-anchor="end" fill="#000">6 × 10<tspan font-size="3.8" dy="-2.0">7</tspan></text>
<line x1="419.7" y1="533.9" x2="422.5" y2="533.9" stroke="#333" stroke-width="1.1"/>
<text x="419.5" y="536.0" font-size="6.2" font-weight="bold" text-anchor="end" fill="#000">8 × 10<tspan font-size="3.8" dy="-2.0">7</tspan></text>
<line x1="419.7" y1="518.75" x2="422.5" y2="518.75" stroke="#333" stroke-width="1.1"/>
<text x="419.5" y="520.85" font-size="6.2" font-weight="bold" text-anchor="end" fill="#000">1 × 10<tspan font-size="3.8" dy="-2.0">8</tspan></text>
<text x="0" y="0" font-size="6.5" font-weight="bold" text-anchor="middle" transform="translate(394.9 556.6) rotate(-90)" textLength="37.8" lengthAdjust="spacingAndGlyphs">MDSC count</text>
<rect x="430.15" y="556.40" width="12.90" height="38.10" fill="#6b6b6b" stroke="#000" stroke-width="1.3"/>
<line x1="436.6" y1="543.75" x2="436.6" y2="567.5" stroke="#000" stroke-width="1.0"/>
<line x1="433.40000000000003" y1="543.75" x2="439.8" y2="543.75" stroke="#000" stroke-width="1.0"/>
<line x1="433.40000000000003" y1="567.5" x2="439.8" y2="567.5" stroke="#000" stroke-width="1.0"/>
<circle cx="436.60" cy="534.50" r="1.6" fill="#000"/>
<circle cx="436.60" cy="557.50" r="1.6" fill="#000"/>
<circle cx="436.60" cy="575.00" r="1.6" fill="#000"/>
<rect x="451.15" y="542.15" width="12.90" height="52.35" fill="#e97ba8" stroke="#e0086b" stroke-width="1.3"/>
<line x1="457.6" y1="530.5" x2="457.6" y2="552.5" stroke="#e0086b" stroke-width="1.0"/>
<line x1="454.40000000000003" y1="530.5" x2="460.8" y2="530.5" stroke="#e0086b" stroke-width="1.0"/>
<line x1="454.40000000000003" y1="552.5" x2="460.8" y2="552.5" stroke="#e0086b" stroke-width="1.0"/>
<rect x="456.10" y="523.50" width="3.0" height="3.0" fill="#e0086b"/>
<rect x="456.10" y="534.75" width="3.0" height="3.0" fill="#e0086b"/>
<rect x="456.10" y="561.00" width="3.0" height="3.0" fill="#e0086b"/>
<rect x="472.15" y="594.15" width="12.90" height="0.35" fill="#9cc3c1" stroke="#4b8b8b" stroke-width="1.3"/>
<path d="M474.60 591.90 L476.20 594.78 L473.00 594.78 Z" fill="#4b8b8b"/>
<path d="M478.60 591.90 L480.20 594.78 L477.00 594.78 Z" fill="#4b8b8b"/>
<path d="M482.60 591.90 L484.20 594.78 L481.00 594.78 Z" fill="#4b8b8b"/>
<rect x="494.45" y="591.40" width="12.90" height="3.10" fill="#a48ccb" stroke="#40129a" stroke-width="1.3"/>
<line x1="500.90000000000003" y1="589" x2="500.90000000000003" y2="593" stroke="#40129a" stroke-width="1.0"/>
<line x1="497.70000000000005" y1="589" x2="504.1" y2="589" stroke="#40129a" stroke-width="1.0"/>
<line x1="497.70000000000005" y1="593" x2="504.1" y2="593" stroke="#40129a" stroke-width="1.0"/>
<path d="M497.90 590.20 L499.70 592.00 L497.90 593.80 L496.10 592.00 Z" fill="#40129a"/>
<path d="M500.90 586.70 L502.70 588.50 L500.90 590.30 L499.10 588.50 Z" fill="#40129a"/>
<path d="M503.90 589.70 L505.70 591.50 L503.90 593.30 L502.10 591.50 Z" fill="#40129a"/>
<polyline points="436.4,531 436.4,517.9 479.7,517.9 479.7,592" fill="none" stroke="#111" stroke-width="0.9"/>
<polyline points="457.2,515.5 457.2,512.7 500.4,512.7 500.4,587" fill="none" stroke="#111" stroke-width="0.9"/>
<polyline points="457.2,523.5 457.2,522.8 479.7,522.8 479.7,592" fill="none" stroke="#111" stroke-width="0.9"/>
<circle cx="457.20" cy="516.50" r="0.95" fill="#111"/>
<circle cx="478.80" cy="511.20" r="0.95" fill="#111"/>
<circle cx="467.45" cy="521.20" r="0.95" fill="#111"/>
<circle cx="470.15" cy="521.20" r="0.95" fill="#111"/>
<text x="436.6" y="604.9" font-size="6.4" text-anchor="middle" fill="#000" font-weight="bold" textLength="21.6" lengthAdjust="spacingAndGlyphs">Control</text>
<text x="457.6" y="604.9" font-size="6.4" text-anchor="middle" fill="#000" font-weight="bold" textLength="14.4" lengthAdjust="spacingAndGlyphs">IL-12</text>
<text x="477.40000000000003" y="604.9" font-size="6.4" text-anchor="middle" fill="#000" font-weight="bold" textLength="11.5" lengthAdjust="spacingAndGlyphs">Trab</text>
<text x="501.20000000000005" y="604.9" font-size="6.4" text-anchor="middle" fill="#000" font-weight="bold" textLength="28" lengthAdjust="spacingAndGlyphs">IL-12/Trab</text>
<text x="269.2" y="625.5" font-size="12.8" text-anchor="start" fill="#000" font-weight="bold">I</text>
<text x="343" y="619.6" font-size="6.4" text-anchor="middle" fill="#000" font-weight="bold">Spleen</text>
<text x="343" y="627.6" font-size="6.4" text-anchor="middle" fill="#000" font-weight="bold">PMN-MDSC</text>
<line x1="298.4" y1="643.5" x2="298.4" y2="720.1" stroke="#333" stroke-width="1.2"/>
<line x1="297.79999999999995" y1="719.5" x2="385.75" y2="719.5" stroke="#333" stroke-width="1.2"/>
<line x1="295.59999999999997" y1="719.5" x2="298.4" y2="719.5" stroke="#333" stroke-width="1.1"/>
<text x="295.59999999999997" y="721.8" font-size="6.5" text-anchor="end" fill="#000" font-weight="bold">0</text>
<line x1="295.59999999999997" y1="700.7" x2="298.4" y2="700.7" stroke="#333" stroke-width="1.1"/>
<text x="295.4" y="702.8000000000001" font-size="6.2" font-weight="bold" text-anchor="end" fill="#000">2 × 10<tspan font-size="3.8" dy="-2.0">7</tspan></text>
<line x1="295.59999999999997" y1="681.9" x2="298.4" y2="681.9" stroke="#333" stroke-width="1.1"/>
<text x="295.4" y="684.0" font-size="6.2" font-weight="bold" text-anchor="end" fill="#000">4 × 10<tspan font-size="3.8" dy="-2.0">7</tspan></text>
<line x1="295.59999999999997" y1="663.1" x2="298.4" y2="663.1" stroke="#333" stroke-width="1.1"/>
<text x="295.4" y="665.2" font-size="6.2" font-weight="bold" text-anchor="end" fill="#000">6 × 10<tspan font-size="3.8" dy="-2.0">7</tspan></text>
<line x1="295.59999999999997" y1="644.3" x2="298.4" y2="644.3" stroke="#333" stroke-width="1.1"/>
<text x="295.4" y="646.4" font-size="6.2" font-weight="bold" text-anchor="end" fill="#000">8 × 10<tspan font-size="3.8" dy="-2.0">7</tspan></text>
<text x="0" y="0" font-size="6.5" font-weight="bold" text-anchor="middle" transform="translate(271.0 681.4) rotate(-90)" textLength="53.5" lengthAdjust="spacingAndGlyphs">PMN-MDSC count</text>
<rect x="306.15" y="681.90" width="12.90" height="37.60" fill="#6b6b6b" stroke="#000" stroke-width="1.3"/>
<line x1="312.6" y1="669.25" x2="312.6" y2="692" stroke="#000" stroke-width="1.0"/>
<line x1="309.40000000000003" y1="669.25" x2="315.8" y2="669.25" stroke="#000" stroke-width="1.0"/>
<line x1="309.40000000000003" y1="692" x2="315.8" y2="692" stroke="#000" stroke-width="1.0"/>
<circle cx="312.60" cy="660.00" r="1.6" fill="#000"/>
<circle cx="312.60" cy="682.50" r="1.6" fill="#000"/>
<circle cx="312.60" cy="698.75" r="1.6" fill="#000"/>
<rect x="326.90" y="664.40" width="12.90" height="55.10" fill="#e97ba8" stroke="#e0086b" stroke-width="1.3"/>
<line x1="333.35" y1="651.25" x2="333.35" y2="675" stroke="#e0086b" stroke-width="1.0"/>
<line x1="330.15000000000003" y1="651.25" x2="336.55" y2="651.25" stroke="#e0086b" stroke-width="1.0"/>
<line x1="330.15000000000003" y1="675" x2="336.55" y2="675" stroke="#e0086b" stroke-width="1.0"/>
<rect x="331.85" y="643.00" width="3.0" height="3.0" fill="#e0086b"/>
<rect x="331.85" y="658.50" width="3.0" height="3.0" fill="#e0086b"/>
<rect x="331.85" y="683.50" width="3.0" height="3.0" fill="#e0086b"/>
<rect x="348.15" y="719.15" width="12.90" height="0.35" fill="#9cc3c1" stroke="#4b8b8b" stroke-width="1.3"/>
<path d="M350.60 716.90 L352.20 719.78 L349.00 719.78 Z" fill="#4b8b8b"/>
<path d="M354.60 716.90 L356.20 719.78 L353.00 719.78 Z" fill="#4b8b8b"/>
<path d="M358.60 716.90 L360.20 719.78 L357.00 719.78 Z" fill="#4b8b8b"/>
<rect x="369.40" y="716.90" width="12.90" height="2.60" fill="#a48ccb" stroke="#40129a" stroke-width="1.3"/>
<line x1="375.85" y1="712.5" x2="375.85" y2="718" stroke="#40129a" stroke-width="1.0"/>
<line x1="372.65000000000003" y1="712.5" x2="379.05" y2="712.5" stroke="#40129a" stroke-width="1.0"/>
<line x1="372.65000000000003" y1="718" x2="379.05" y2="718" stroke="#40129a" stroke-width="1.0"/>
<path d="M372.85 715.20 L374.65 717.00 L372.85 718.80 L371.05 717.00 Z" fill="#40129a"/>
<path d="M375.85 711.20 L377.65 713.00 L375.85 714.80 L374.05 713.00 Z" fill="#40129a"/>
<path d="M378.85 714.20 L380.65 716.00 L378.85 717.80 L377.05 716.00 Z" fill="#40129a"/>
<polyline points="312.5,657 312.5,638.75 354.5,638.75 354.5,717" fill="none" stroke="#111" stroke-width="0.9"/>
<polyline points="333,637 333,633 375.5,633 375.5,711" fill="none" stroke="#111" stroke-width="0.9"/>
<polyline points="333,642.5 333,642 354.5,642 354.5,717" fill="none" stroke="#111" stroke-width="0.9"/>
<circle cx="332.80" cy="636.50" r="0.95" fill="#111"/>
<circle cx="352.15" cy="631.60" r="0.95" fill="#111"/>
<circle cx="354.85" cy="631.60" r="0.95" fill="#111"/>
<circle cx="342.15" cy="640.40" r="0.95" fill="#111"/>
<circle cx="344.85" cy="640.40" r="0.95" fill="#111"/>
<text x="312.6" y="729" font-size="6.4" text-anchor="middle" fill="#000" font-weight="bold" textLength="21.6" lengthAdjust="spacingAndGlyphs">Control</text>
<text x="333.35" y="729" font-size="6.4" text-anchor="middle" fill="#000" font-weight="bold" textLength="14.4" lengthAdjust="spacingAndGlyphs">IL-12</text>
<text x="353.40000000000003" y="729" font-size="6.4" text-anchor="middle" fill="#000" font-weight="bold" textLength="11.5" lengthAdjust="spacingAndGlyphs">Trab</text>
<text x="376.15000000000003" y="729" font-size="6.4" text-anchor="middle" fill="#000" font-weight="bold" textLength="28" lengthAdjust="spacingAndGlyphs">IL-12/Trab</text>
<text x="392.6" y="625.5" font-size="12.8" text-anchor="start" fill="#000" font-weight="bold">J</text>
<text x="471.2" y="621.6" font-size="6.4" text-anchor="middle" fill="#000" font-weight="bold">Spleen</text>
<text x="471.2" y="629.6" font-size="6.4" text-anchor="middle" fill="#000" font-weight="bold">M-MDSC</text>
<line x1="423.6" y1="643" x2="423.6" y2="722.6" stroke="#333" stroke-width="1.2"/>
<line x1="423.0" y1="722.0" x2="514.5" y2="722.0" stroke="#333" stroke-width="1.2"/>
<line x1="420.8" y1="722.0" x2="423.6" y2="722.0" stroke="#333" stroke-width="1.1"/>
<text x="420.8" y="724.3" font-size="6.5" text-anchor="end" fill="#000" font-weight="bold">0</text>
<line x1="420.8" y1="702.45" x2="423.6" y2="702.45" stroke="#333" stroke-width="1.1"/>
<text x="420.6" y="704.5500000000001" font-size="6.2" font-weight="bold" text-anchor="end" fill="#000">2 × 10<tspan font-size="3.8" dy="-2.0">6</tspan></text>
<line x1="420.8" y1="682.9" x2="423.6" y2="682.9" stroke="#333" stroke-width="1.1"/>
<text x="420.6" y="685.0" font-size="6.2" font-weight="bold" text-anchor="end" fill="#000">4 × 10<tspan font-size="3.8" dy="-2.0">6</tspan></text>
<line x1="420.8" y1="663.35" x2="423.6" y2="663.35" stroke="#333" stroke-width="1.1"/>
<text x="420.6" y="665.45" font-size="6.2" font-weight="bold" text-anchor="end" fill="#000">6 × 10<tspan font-size="3.8" dy="-2.0">6</tspan></text>
<line x1="420.8" y1="643.8" x2="423.6" y2="643.8" stroke="#333" stroke-width="1.1"/>
<text x="420.6" y="645.9" font-size="6.2" font-weight="bold" text-anchor="end" fill="#000">8 × 10<tspan font-size="3.8" dy="-2.0">6</tspan></text>
<text x="0" y="0" font-size="6.5" font-weight="bold" text-anchor="middle" transform="translate(396.2 682.7) rotate(-90)" textLength="45.3" lengthAdjust="spacingAndGlyphs">M-MDSC count</text>
<rect x="432.25" y="672.75" width="12.90" height="49.25" fill="#6b6b6b" stroke="#000" stroke-width="1.3"/>
<line x1="438.70000000000005" y1="659.6" x2="438.70000000000005" y2="684.1" stroke="#000" stroke-width="1.0"/>
<line x1="435.50000000000006" y1="659.6" x2="441.90000000000003" y2="659.6" stroke="#000" stroke-width="1.0"/>
<line x1="435.50000000000006" y1="684.1" x2="441.90000000000003" y2="684.1" stroke="#000" stroke-width="1.0"/>
<circle cx="438.70" cy="649.50" r="1.6" fill="#000"/>
<circle cx="438.70" cy="675.00" r="1.6" fill="#000"/>
<circle cx="438.70" cy="691.30" r="1.6" fill="#000"/>
<rect x="454.35" y="668.65" width="12.90" height="53.35" fill="#e97ba8" stroke="#e0086b" stroke-width="1.3"/>
<line x1="460.8" y1="658.75" x2="460.8" y2="676.25" stroke="#e0086b" stroke-width="1.0"/>
<line x1="457.6" y1="658.75" x2="464.0" y2="658.75" stroke="#e0086b" stroke-width="1.0"/>
<line x1="457.6" y1="676.25" x2="464.0" y2="676.25" stroke="#e0086b" stroke-width="1.0"/>
<rect x="455.30" y="656.50" width="3.0" height="3.0" fill="#e0086b"/>
<rect x="463.30" y="656.50" width="3.0" height="3.0" fill="#e0086b"/>
<rect x="459.30" y="683.50" width="3.0" height="3.0" fill="#e0086b"/>
<rect x="475.65" y="721.65" width="12.90" height="0.35" fill="#9cc3c1" stroke="#4b8b8b" stroke-width="1.3"/>
<path d="M477.10 719.40 L478.70 722.28 L475.50 722.28 Z" fill="#4b8b8b"/>
<path d="M480.40 719.40 L482.00 722.28 L478.80 722.28 Z" fill="#4b8b8b"/>
<path d="M483.80 719.40 L485.40 722.28 L482.20 722.28 Z" fill="#4b8b8b"/>
<path d="M487.10 719.40 L488.70 722.28 L485.50 722.28 Z" fill="#4b8b8b"/>
<rect x="498.15" y="718.65" width="12.90" height="3.35" fill="#a48ccb" stroke="#40129a" stroke-width="1.3"/>
<line x1="504.6" y1="714.5" x2="504.6" y2="720.5" stroke="#40129a" stroke-width="1.0"/>
<line x1="501.40000000000003" y1="714.5" x2="507.8" y2="714.5" stroke="#40129a" stroke-width="1.0"/>
<line x1="501.40000000000003" y1="720.5" x2="507.8" y2="720.5" stroke="#40129a" stroke-width="1.0"/>
<path d="M501.60 718.20 L503.40 720.00 L501.60 721.80 L499.80 720.00 Z" fill="#40129a"/>
<path d="M504.60 713.70 L506.40 715.50 L504.60 717.30 L502.80 715.50 Z" fill="#40129a"/>
<path d="M507.60 717.20 L509.40 719.00 L507.60 720.80 L505.80 719.00 Z" fill="#40129a"/>
<polyline points="438.75,641 438.75,638.75 504.5,638.75 504.5,713" fill="none" stroke="#111" stroke-width="0.9"/>
<polyline points="460.5,644 460.5,642 504.5,642 504.5,713" fill="none" stroke="#111" stroke-width="0.9"/>
<polyline points="438.75,648 438.75,647.5 482.5,647.5 482.5,719" fill="none" stroke="#111" stroke-width="0.9"/>
<polyline points="460.5,657 460.5,656.25 482.5,656.25 482.5,719" fill="none" stroke="#111" stroke-width="0.9"/>
<circle cx="471.50" cy="635.80" r="0.95" fill="#111"/>
<circle cx="480.95" cy="640.40" r="0.95" fill="#111"/>
<circle cx="483.65" cy="640.40" r="0.95" fill="#111"/>
<circle cx="459.15" cy="645.30" r="0.95" fill="#111"/>
<circle cx="461.85" cy="645.30" r="0.95" fill="#111"/>
<circle cx="469.85" cy="654.20" r="0.95" fill="#111"/>
<circle cx="472.55" cy="654.20" r="0.95" fill="#111"/>
<text x="438.70000000000005" y="729.3" font-size="6.4" text-anchor="middle" fill="#000" font-weight="bold" textLength="21.6" lengthAdjust="spacingAndGlyphs">Control</text>
<text x="460.8" y="729.3" font-size="6.4" text-anchor="middle" fill="#000" font-weight="bold" textLength="14.4" lengthAdjust="spacingAndGlyphs">IL-12</text>
<text x="480.90000000000003" y="729.3" font-size="6.4" text-anchor="middle" fill="#000" font-weight="bold" textLength="11.5" lengthAdjust="spacingAndGlyphs">Trab</text>
<text x="504.90000000000003" y="729.3" font-size="6.4" text-anchor="middle" fill="#000" font-weight="bold" textLength="28" lengthAdjust="spacingAndGlyphs">IL-12/Trab</text>
<text x="3.6" y="508.6" font-size="12.0" text-anchor="start" fill="#000" font-weight="bold">F</text>
<path d="M66.8 527.0h.8M37.8 571.4h.8M41.3 520.4h.8M40.8 550.1h.8M40.4 585.4h.8M45.9 530.6h.8M72.7 531.8h.8M45.1 559.1h.8M52.3 539.3h.8M49.9 543.1h.8M118.2 580.0h.8M61.8 541.3h.8M82.7 517.0h.8M118.1 551.4h.8M64.3 533.6h.8M67.1 536.3h.8M72.9 523.2h.8M75.2 525.7h.8M44.5 564.4h.8M118.6 538.8h.8M116.6 595.9h.8M48.4 563.0h.8M74.9 519.1h.8M63.8 545.2h.8M60.5 518.2h.8M81.4 528.3h.8M95.7 516.6h.8M85.3 526.1h.8M79.3 525.3h.8M117.9 568.3h.8M112.4 591.8h.8M91.1 517.0h.8M91.3 522.9h.8M77.3 535.3h.8M78.3 518.3h.8M85.6 539.9h.8M54.2 549.1h.8M82.7 546.6h.8M67.8 545.3h.8M111.5 597.5h.8M67.9 581.6h.8M112.8 594.9h.8M46.0 567.4h.8M104.1 598.1h.8M93.5 527.0h.8M66.9 550.1h.8M116.3 566.5h.8M93.6 516.7h.8M93.6 537.5h.8M94.7 542.4h.8M52.5 552.2h.8M110.1 595.0h.8M77.8 546.7h.8M117.6 558.7h.8M118.4 532.2h.8M46.1 574.8h.8M95.2 540.1h.8M81.9 524.3h.8M81.1 543.6h.8M45.5 577.8h.8M71.0 574.4h.8M88.2 538.3h.8M78.3 542.5h.8M95.1 520.5h.8M71.2 561.3h.8M72.0 540.2h.8M85.3 547.1h.8M90.8 527.5h.8M92.2 598.9h.8M83.6 521.9h.8M89.0 525.8h.8M57.0 518.7h.8M76.2 556.5h.8M80.0 520.2h.8M74.0 557.4h.8M57.0 517.8h.8M115.6 571.4h.8M78.5 545.4h.8M89.7 542.5h.8M117.0 535.1h.8M113.9 582.1h.8M89.5 523.9h.8M118.2 591.8h.8M56.0 545.2h.8M89.8 546.1h.8M67.3 584.4h.8M116.9 527.6h.8M69.7 546.6h.8M76.0 539.7h.8M74.3 540.1h.8M64.9 552.0h.8M47.7 566.7h.8M85.8 520.8h.8M118.1 560.5h.8M82.7 542.5h.8M115.7 536.2h.8M115.9 555.5h.8M87.7 546.7h.8M77.8 520.8h.8M86.8 546.0h.8M89.3 531.7h.8M87.6 521.7h.8M79.1 521.6h.8M68.3 556.0h.8M78.0 537.2h.8M61.4 545.5h.8M90.6 534.8h.8M85.6 523.2h.8M102.0 597.0h.8M77.7 539.6h.8M90.0 544.4h.8M63.8 549.5h.8M64.1 549.0h.8M117.8 520.7h.8M48.7 569.9h.8M97.0 537.3h.8M52.4 556.5h.8M45.4 592.7h.8M96.3 522.2h.8M113.9 590.1h.8M70.5 548.7h.8M88.7 529.2h.8M78.8 538.3h.8M81.5 531.3h.8M59.8 545.6h.8M116.7 590.3h.8M118.7 523.2h.8M114.3 564.6h.8M93.8 534.1h.8M88.2 536.2h.8M95.8 536.9h.8M54.9 551.5h.8M98.6 529.1h.8M117.1 590.7h.8M57.5 546.4h.8M71.5 552.4h.8M75.6 554.2h.8M71.7 578.9h.8M97.3 521.3h.8M96.4 526.4h.8M115.2 571.9h.8M96.4 532.6h.8M70.5 556.8h.8M60.1 549.2h.8M114.8 555.4h.8M114.7 548.1h.8M70.1 554.1h.8M113.7 556.9h.8M58.2 546.0h.8M79.7 532.4h.8M80.4 532.0h.8M70.1 558.9h.8M82.0 535.8h.8M111.0 579.1h.8M72.1 554.2h.8M81.9 537.9h.8M89.0 535.6h.8M114.4 573.2h.8M64.8 553.9h.8M96.3 525.1h.8M115.7 585.0h.8M116.3 562.8h.8M76.7 566.0h.8M69.3 559.3h.8M111.3 574.0h.8M71.2 550.4h.8M71.1 555.1h.8M81.6 538.6h.8M112.8 573.0h.8M74.9 548.3h.8M68.6 564.6h.8M112.4 569.0h.8M84.2 533.7h.8M70.1 543.1h.8M53.3 555.2h.8M68.4 576.6h.8M68.8 572.2h.8M69.1 572.1h.8M87.2 528.5h.8M65.1 583.6h.8M81.4 541.4h.8M80.8 541.1h.8M98.1 597.4h.8M83.3 533.9h.8M116.4 560.7h.8M96.0 534.2h.8M72.6 544.8h.8M50.3 567.1h.8M94.7 535.2h.8M83.0 535.3h.8M98.4 523.6h.8M72.7 563.2h.8M72.2 580.2h.8M78.9 568.3h.8M98.1 542.0h.8M115.6 585.8h.8M46.5 586.0h.8M98.9 519.9h.8M117.6 525.0h.8M76.0 558.6h.8M85.0 531.1h.8M87.9 574.8h.8M73.5 542.5h.8M49.6 572.8h.8M114.3 584.4h.8M111.2 580.0h.8M89.5 572.0h.8M73.6 562.6h.8M74.4 575.6h.8M98.4 525.0h.8M112.7 559.0h.8M67.0 559.1h.8M115.7 529.5h.8M76.7 561.9h.8M100.4 521.8h.8M98.9 533.7h.8M74.8 573.0h.8M59.0 550.1h.8M87.3 531.8h.8M61.4 551.8h.8M111.1 572.0h.8M65.0 587.2h.8M76.7 560.2h.8M74.7 559.7h.8M68.0 575.4h.8M76.3 572.2h.8M80.1 568.1h.8M86.7 530.2h.8M104.1 595.0h.8M74.6 575.3h.8M74.2 574.8h.8M86.3 531.6h.8M66.3 579.0h.8M75.5 583.2h.8M115.6 562.1h.8M114.8 516.0h.8M115.2 588.0h.8M47.6 578.2h.8M54.5 553.6h.8M112.9 554.8h.8M48.0 575.8h.8M70.9 543.2h.8M99.4 525.6h.8M113.4 560.2h.8M107.7 590.3h.8M75.0 569.9h.8M87.1 598.1h.8M75.6 552.1h.8M76.1 578.1h.8M108.1 591.0h.8M77.0 571.9h.8M71.9 543.7h.8M55.0 552.8h.8M68.7 567.4h.8M71.4 565.2h.8M114.1 587.9h.8M76.8 560.8h.8M58.5 551.5h.8M88.7 597.0h.8M76.4 562.4h.8M75.4 561.0h.8M70.1 567.6h.8M73.3 550.1h.8M72.3 543.0h.8M86.3 573.2h.8M111.6 586.6h.8M85.8 530.9h.8M91.4 570.8h.8M98.6 547.0h.8M114.9 586.8h.8M88.6 576.3h.8M89.7 575.7h.8M75.9 569.2h.8M113.9 562.3h.8M74.1 549.5h.8M59.5 551.2h.8M67.4 573.1h.8M107.1 592.6h.8M82.3 567.9h.8M52.4 563.0h.8M73.3 584.3h.8M48.5 597.0h.8M73.5 581.4h.8M92.1 568.5h.8M72.2 568.9h.8M75.7 574.5h.8M117.3 525.5h.8M115.4 516.7h.8M97.5 595.5h.8M96.8 595.6h.8M75.7 551.4h.8M79.2 598.6h.8M112.9 586.7h.8M55.4 553.7h.8M55.4 556.2h.8M112.3 583.8h.8M74.7 551.8h.8M46.2 590.8h.8M64.5 554.8h.8M75.9 576.5h.8M58.2 551.9h.8M101.4 594.5h.8M74.2 582.2h.8M113.0 584.7h.8M73.9 581.0h.8M74.1 581.3h.8M71.8 599.1h.8M67.4 574.2h.8M74.0 598.8h.8M98.4 545.3h.8M98.4 544.5h.8M85.0 572.6h.8M56.7 553.0h.8M67.3 575.9h.8M94.5 572.3h.8M69.7 567.1h.8M113.8 533.8h.8M100.3 527.2h.8M49.1 597.7h.8M76.9 581.5h.8M117.2 523.1h.8M87.8 570.5h.8M73.4 598.9h.8M111.6 586.5h.8M63.3 598.8h.8M99.6 518.6h.8M65.9 562.9h.8M113.3 561.6h.8M115.9 521.6h.8M57.2 554.5h.8M93.8 596.4h.8M52.0 559.6h.8M80.2 579.7h.8M75.6 566.9h.8M86.4 581.1h.8M78.2 573.5h.8M79.3 582.6h.8M84.4 580.1h.8M74.3 550.3h.8M92.1 568.9h.8M86.6 571.2h.8M60.9 552.6h.8M75.6 550.1h.8M94.5 571.4h.8M99.9 528.2h.8M81.2 568.7h.8M100.1 595.3h.8M114.6 531.0h.8M115.3 531.3h.8M115.3 530.6h.8M64.7 557.4h.8M109.9 572.0h.8M71.5 565.9h.8M111.1 585.5h.8M111.3 585.0h.8M76.8 580.8h.8M92.1 596.7h.8M94.3 568.5h.8M115.7 524.6h.8M74.7 550.9h.8M97.0 594.5h.8M87.9 577.8h.8M67.3 587.7h.8M65.5 578.7h.8M74.4 565.1h.8M81.8 569.2h.8M87.9 568.2h.8M91.4 570.0h.8M78.9 570.9h.8M83.7 598.6h.8M109.7 581.6h.8M109.9 581.9h.8M110.1 581.5h.8M52.2 565.1h.8M78.4 581.6h.8M107.3 592.5h.8M51.2 568.7h.8M104.3 594.3h.8M61.9 598.5h.8M62.2 599.1h.8M84.5 571.2h.8M92.5 575.4h.8M91.6 574.7h.8M82.8 571.3h.8M103.3 594.3h.8M80.2 569.5h.8M79.5 581.9h.8M89.4 578.9h.8M85.3 574.0h.8M86.4 582.2h.8M85.8 598.1h.8M82.4 581.6h.8M67.0 569.3h.8M67.5 569.1h.8M66.4 576.3h.8M106.4 593.1h.8M88.7 577.9h.8M90.1 578.2h.8M116.2 522.7h.8M59.2 554.3h.8M77.6 576.0h.8M72.4 584.8h.8M71.6 585.3h.8M89.7 568.4h.8M90.0 567.9h.8M108.9 585.9h.8M113.9 542.7h.8M81.4 583.1h.8M81.3 582.7h.8M89.4 568.4h.8M79.4 572.5h.8M91.1 578.9h.8M46.9 586.7h.8M85.0 580.6h.8M57.1 556.0h.8M78.6 580.2h.8M90.0 570.1h.8M83.6 580.8h.8M71.9 568.3h.8M81.9 577.6h.8M89.7 580.4h.8M78.2 580.4h.8M78.0 580.4h.8M101.2 526.4h.8M80.5 578.0h.8M90.4 579.4h.8M65.2 572.9h.8M93.4 573.9h.8M85.8 583.5h.8M86.5 577.7h.8M86.4 578.1h.8M64.7 560.6h.8M115.2 525.2h.8M51.7 565.5h.8M82.5 583.1h.8M83.4 582.2h.8M65.5 558.1h.8M64.9 558.2h.8M77.8 578.3h.8M94.6 569.3h.8M57.9 556.4h.8M113.1 539.3h.8M113.4 548.6h.8M64.9 560.4h.8M53.4 559.5h.8" stroke="#96a5f6" stroke-width=".8" fill="none"/>
<path d="M85.4 567.6h.8M85.5 567.8h.8M84.7 567.8h.8M101.2 518.4h.8M59.5 555.4h.8M79.4 578.4h.8M62.6 553.6h.8M114.2 531.7h.8M64.9 570.6h.8M65.5 570.8h.8M76.6 598.4h.8M109.5 580.7h.8M66.5 570.4h.8M93.1 577.0h.8M77.6 576.3h.8M78.5 575.7h.8M89.3 568.5h.8M88.9 568.6h.8M65.0 573.6h.8M108.0 586.6h.8M65.3 559.0h.8M86.0 570.2h.8M113.4 535.6h.8M88.5 583.6h.8M83.7 582.3h.8M115.5 523.4h.8M102.4 516.6h.8M102.0 517.0h.8M111.7 562.9h.8M112.6 548.2h.8M112.7 547.5h.8M63.7 578.7h.8M63.8 578.8h.8M65.2 576.7h.8M65.3 577.0h.8M114.4 526.0h.8M64.4 558.3h.8M75.6 566.5h.8M47.4 593.0h.8M75.6 586.5h.8M75.6 585.6h.8M84.6 583.2h.8M112.2 553.5h.8M84.0 569.1h.8M83.9 568.8h.8M56.3 557.0h.8M112.5 515.3h.8M92.9 579.2h.8M74.4 566.5h.8M75.2 586.0h.8M99.1 544.9h.8M85.0 569.7h.8M79.0 577.5h.8M80.2 584.5h.8M72.8 565.6h.8M72.6 566.2h.8M94.0 595.3h.8M113.9 516.9h.8M78.9 575.8h.8M86.4 577.0h.8M113.6 546.1h.8M86.5 569.4h.8M86.2 569.0h.8M99.1 593.6h.8M98.6 593.6h.8M97.3 593.4h.8M79.8 574.8h.8M68.6 586.6h.8M80.1 572.5h.8M100.9 519.3h.8M48.5 583.4h.8M51.7 567.8h.8M71.4 586.3h.8M85.4 597.8h.8M63.9 558.5h.8M84.3 584.0h.8M107.3 555.8h.8M106.9 588.3h.8M66.4 569.4h.8M103.8 515.7h.8M79.0 597.5h.8M81.5 573.4h.8M66.1 565.8h.8M95.5 593.5h.8M81.5 571.6h.8M80.9 572.0h.8M81.1 571.5h.8M80.6 572.1h.8M110.6 566.8h.8M103.7 592.6h.8M106.2 515.4h.8M72.5 585.8h.8M74.5 568.1h.8M74.3 567.8h.8M74.6 567.8h.8M74.4 567.6h.8M66.4 568.1h.8M60.5 554.6h.8M114.4 521.3h.8M52.6 565.4h.8M108.6 571.6h.8M100.9 538.4h.8M72.7 567.3h.8M57.8 598.6h.8M69.2 598.5h.8M68.8 598.1h.8M47.5 588.7h.8M95.8 572.7h.8M68.0 597.6h.8M68.6 598.1h.8M93.3 580.3h.8M107.1 557.7h.8M107.5 557.5h.8M92.6 596.0h.8M47.8 580.9h.8M81.7 576.5h.8M105.7 591.1h.8M78.9 586.2h.8M114.2 524.6h.8M90.2 581.6h.8M84.1 585.0h.8M84.3 585.0h.8M83.9 574.6h.8M81.3 575.2h.8M80.9 575.2h.8M110.7 558.3h.8M101.5 528.5h.8M62.4 555.5h.8M62.6 554.8h.8M62.5 556.6h.8M62.0 557.0h.8M48.5 584.9h.8M47.9 585.4h.8M64.0 574.4h.8M101.5 536.5h.8M63.3 583.0h.8M114.2 521.8h.8M74.4 587.3h.8M74.5 587.1h.8M48.5 580.2h.8M107.4 559.7h.8M113.3 516.2h.8M48.1 585.9h.8M84.9 584.6h.8M90.7 595.8h.8M100.3 531.1h.8M100.2 530.7h.8M100.5 530.9h.8M112.8 541.5h.8M63.4 583.7h.8M111.1 565.7h.8M110.9 566.3h.8M91.7 581.3h.8M85.1 576.5h.8M94.8 568.6h.8M81.7 575.2h.8M81.7 574.6h.8M96.5 573.7h.8M52.7 561.4h.8M85.0 576.4h.8M84.9 576.3h.8M108.4 580.3h.8M86.2 584.9h.8M87.0 584.8h.8M52.8 566.3h.8M61.2 555.2h.8M61.7 555.9h.8M63.6 561.8h.8M63.4 579.2h.8M111.2 556.3h.8M101.5 535.9h.8M76.1 587.3h.8M76.6 586.6h.8M82.8 576.9h.8M105.1 592.1h.8M113.1 544.3h.8M82.7 586.1h.8M83.3 585.9h.8M106.4 589.4h.8M94.6 574.7h.8M94.1 574.5h.8M93.9 575.1h.8M93.9 579.1h.8M80.8 597.9h.8M62.9 572.0h.8M62.6 572.4h.8M65.5 569.2h.8M82.5 585.7h.8M110.7 565.3h.8M82.4 576.4h.8M82.0 576.5h.8M101.2 534.6h.8M51.9 570.4h.8M108.5 584.3h.8M89.0 595.2h.8M88.8 594.6h.8M83.6 577.0h.8M84.4 577.2h.8M61.4 556.2h.8M60.7 556.1h.8M60.9 556.5h.8M95.3 592.6h.8M95.1 593.1h.8M99.8 542.1h.8M87.4 594.7h.8M113.5 542.4h.8M113.2 542.5h.8M94.6 576.2h.8M93.7 575.8h.8M106.7 515.2h.8M83.4 598.3h.8M107.8 584.9h.8M111.5 554.5h.8M82.1 597.9h.8M78.5 597.3h.8M101.4 534.2h.8M79.7 585.9h.8M72.6 587.3h.8M110.9 564.1h.8M112.8 543.5h.8M93.3 581.2h.8M65.0 563.8h.8M64.9 563.5h.8M96.4 591.8h.8M96.3 571.0h.8M112.0 547.8h.8M85.2 597.1h.8M84.7 596.8h.8M110.1 567.7h.8M110.1 567.8h.8M81.3 586.2h.8M81.0 586.1h.8M51.6 573.0h.8M51.0 572.8h.8M107.1 562.0h.8M107.3 562.5h.8M101.8 520.4h.8M102.5 519.6h.8M71.1 587.3h.8M71.0 587.4h.8M53.3 599.1h.8M84.2 576.5h.8M84.1 576.4h.8M110.7 562.7h.8M108.7 515.1h.8M51.4 598.2h.8M63.0 586.6h.8M76.3 596.7h.8M76.0 596.6h.8M107.1 563.5h.8M53.1 568.3h.8M100.9 539.6h.8M95.6 574.9h.8M99.9 543.4h.8M50.3 575.6h.8M100.7 547.2h.8M112.7 519.0h.8M97.5 568.4h.8M102.5 529.2h.8M102.2 524.8h.8M101.9 524.5h.8M102.0 519.4h.8M99.9 544.9h.8M63.0 574.1h.8M104.2 591.7h.8M69.3 587.6h.8M68.6 587.8h.8M111.8 546.1h.8M108.4 577.7h.8M108.5 578.1h.8M113.0 516.6h.8M49.5 578.0h.8M76.8 587.7h.8M113.3 518.2h.8M66.1 590.1h.8M107.9 515.4h.8M100.4 544.3h.8M91.5 582.5h.8M90.8 581.9h.8M49.4 595.7h.8M99.6 592.8h.8M100.3 593.3h.8M51.3 573.8h.8M101.3 533.0h.8M60.3 558.0h.8M101.7 523.4h.8M62.7 561.0h.8M62.7 561.5h.8M63.0 560.7h.8M90.3 583.0h.8M71.4 597.1h.8M69.2 597.3h.8M69.2 596.5h.8M105.1 591.4h.8M53.9 598.8h.8M76.2 588.3h.8M74.7 596.8h.8M113.5 520.0h.8M113.1 519.6h.8M96.4 574.7h.8M53.3 569.3h.8M52.9 569.3h.8M78.9 597.1h.8M74.8 588.2h.8M107.7 574.9h.8M107.9 575.1h.8M107.6 574.6h.8M101.7 523.8h.8M112.4 516.1h.8M112.0 516.3h.8M98.0 567.7h.8M98.6 567.8h.8M97.9 568.1h.8M60.6 559.0h.8M61.8 559.8h.8M79.0 586.9h.8M95.4 591.8h.8M77.9 587.7h.8M96.1 569.0h.8M96.4 568.7h.8M96.1 568.8h.8M96.5 569.1h.8M96.4 568.6h.8M88.8 586.0h.8M66.9 596.8h.8M64.6 568.8h.8M65.1 566.8h.8M72.2 597.1h.8M71.7 597.0h.8M74.0 596.7h.8M94.8 576.1h.8M62.7 588.2h.8M107.6 555.8h.8M97.0 572.3h.8M62.9 562.2h.8M110.3 559.5h.8M110.6 559.1h.8M52.3 571.4h.8M108.4 576.2h.8M107.4 580.9h.8M86.4 595.3h.8M63.2 575.4h.8M63.0 575.2h.8M63.6 575.2h.8M93.3 593.9h.8M107.4 581.8h.8M107.1 582.1h.8M107.1 581.8h.8M108.0 556.6h.8M50.1 597.1h.8M51.3 574.8h.8M51.4 575.2h.8M54.5 559.6h.8M54.1 559.6h.8M53.8 559.9h.8M112.4 528.7h.8M87.1 586.2h.8M87.5 586.2h.8M63.4 570.0h.8M109.7 558.5h.8M101.4 531.7h.8M113.6 521.0h.8M108.2 559.0h.8M107.7 559.4h.8M62.8 575.6h.8M63.3 576.1h.8M62.6 576.2h.8M63.1 576.3h.8M65.3 590.5h.8M55.4 559.1h.8M54.9 558.8h.8M65.5 566.1h.8M65.4 565.6h.8M111.5 553.4h.8M111.1 553.1h.8M91.0 594.9h.8M90.7 594.5h.8M91.0 594.5h.8M91.6 594.8h.8M107.9 571.6h.8M88.1 594.1h.8M88.0 594.1h.8M54.5 566.1h.8M53.9 562.4h.8M53.7 562.3h.8M84.4 596.9h.8M111.8 544.8h.8M112.1 545.2h.8M112.0 545.1h.8M48.1 588.5h.8M103.9 517.2h.8M57.2 557.7h.8M93.5 581.6h.8M70.4 588.3h.8M103.1 528.0h.8M83.9 586.6h.8M112.3 534.9h.8M112.2 535.0h.8M111.7 534.9h.8M89.3 586.8h.8M100.9 531.5h.8M101.5 531.1h.8M96.2 590.6h.8M72.0 588.3h.8M110.2 556.7h.8M49.3 583.2h.8M108.6 569.4h.8M89.7 583.8h.8M102.7 517.7h.8M89.8 587.3h.8M80.0 596.8h.8M80.0 596.7h.8M113.4 525.0h.8M108.5 560.0h.8M58.3 557.5h.8M111.7 530.2h.8M48.6 593.2h.8M47.9 593.1h.8M48.5 593.4h.8M109.7 564.6h.8M109.6 565.3h.8M109.8 565.0h.8M65.9 597.3h.8M66.3 597.2h.8M65.8 596.6h.8M110.0 556.0h.8M110.5 556.2h.8M68.9 588.9h.8M68.8 589.0h.8M68.8 588.6h.8M68.7 588.7h.8M101.8 538.4h.8M54.2 567.1h.8M54.4 566.7h.8M107.6 579.7h.8M97.3 570.8h.8M95.6 578.9h.8M95.1 579.1h.8M101.6 541.3h.8M101.4 541.3h.8M112.4 540.2h.8M49.2 579.1h.8M54.3 561.3h.8M54.3 561.0h.8M107.4 583.2h.8M104.9 589.3h.8M105.0 589.4h.8M89.9 587.7h.8M90.5 587.5h.8M90.1 585.5h.8M89.7 584.7h.8M69.4 595.5h.8M69.1 595.5h.8M111.8 528.1h.8M93.9 592.4h.8M110.2 560.7h.8M109.6 561.0h.8M104.0 591.0h.8M103.8 591.4h.8M104.5 591.2h.8M101.9 530.1h.8M101.7 530.1h.8M102.1 529.7h.8M80.5 587.1h.8M62.5 580.9h.8M62.3 581.0h.8M107.2 552.6h.8M107.4 553.2h.8M61.9 579.2h.8M107.0 586.0h.8M106.7 585.9h.8M97.1 568.9h.8M50.6 577.5h.8M98.9 591.8h.8M99.5 592.2h.8M99.4 592.1h.8M113.0 523.7h.8M102.6 537.2h.8M109.9 562.8h.8M49.4 580.7h.8M113.3 523.0h.8M111.9 541.2h.8M81.1 596.7h.8M83.1 596.7h.8M83.2 597.0h.8M93.3 593.3h.8M92.6 592.9h.8M64.2 563.8h.8M64.1 564.0h.8M108.0 561.3h.8M95.6 591.3h.8M95.5 591.5h.8M75.9 588.7h.8M88.5 587.2h.8M60.4 558.9h.8M60.3 559.3h.8M71.6 595.8h.8M71.4 595.7h.8M91.6 583.3h.8M91.5 583.2h.8M96.8 569.6h.8M101.2 545.7h.8M111.5 550.6h.8M111.2 550.8h.8M61.9 578.5h.8M110.6 562.3h.8M109.9 562.3h.8M110.6 562.5h.8M109.5 558.1h.8M108.9 558.1h.8M98.1 573.2h.8M65.1 597.4h.8M62.5 581.7h.8M62.5 581.9h.8M81.8 596.7h.8M82.0 597.1h.8M62.0 574.8h.8M108.7 555.9h.8M60.9 560.2h.8M61.2 560.2h.8M109.2 557.2h.8M109.1 556.7h.8M108.7 556.5h.8M102.8 520.2h.8M64.1 597.0h.8M111.7 541.9h.8M108.9 559.7h.8M108.7 560.2h.8M107.8 571.5h.8M75.7 595.9h.8M75.9 596.1h.8M91.9 593.8h.8M91.8 593.9h.8M95.5 580.2h.8M102.7 518.7h.8M78.8 587.5h.8M78.6 588.4h.8M111.8 516.9h.8M111.9 516.9h.8M49.6 583.8h.8M49.4 584.3h.8M107.8 563.2h.8M108.6 562.6h.8M108.5 564.2h.8M108.3 564.3h.8M108.4 564.2h.8M48.7 580.2h.8M49.4 579.6h.8M107.7 561.7h.8M52.5 572.4h.8M67.0 595.7h.8M112.3 533.3h.8M88.0 587.7h.8M88.1 587.9h.8M75.2 589.1h.8M62.4 577.2h.8M111.6 530.6h.8M112.5 530.9h.8M62.9 568.9h.8M62.8 568.9h.8M91.5 586.2h.8M100.1 567.5h.8M99.8 568.2h.8M100.4 568.2h.8M100.7 541.9h.8M101.0 541.7h.8M98.5 569.0h.8M61.9 562.4h.8M61.7 597.3h.8M109.4 567.7h.8M111.3 550.5h.8M110.9 550.1h.8M111.3 550.4h.8M98.3 571.9h.8M98.5 572.0h.8M98.4 571.9h.8M98.4 572.1h.8M102.2 534.9h.8M101.6 535.0h.8M102.4 547.2h.8M101.7 547.5h.8M101.9 546.9h.8M88.7 589.9h.8M88.6 589.8h.8M93.5 582.5h.8M89.5 592.8h.8M86.7 587.2h.8M87.0 587.2h.8M86.8 587.4h.8M87.4 587.4h.8M108.6 564.4h.8M55.1 564.2h.8M90.6 593.6h.8M85.2 595.1h.8M91.0 588.1h.8M63.6 590.3h.8M64.1 590.2h.8M64.2 589.6h.8M75.1 595.9h.8M112.4 527.5h.8M112.0 526.6h.8M72.5 595.7h.8M48.0 589.3h.8M48.1 589.1h.8M109.1 554.5h.8M100.9 543.0h.8M107.3 565.5h.8M107.5 565.9h.8M61.8 583.7h.8M61.8 583.6h.8M79.4 595.8h.8M79.5 595.6h.8M70.4 595.1h.8M83.7 595.8h.8M84.2 596.4h.8M101.4 592.0h.8M101.1 591.6h.8M50.7 576.2h.8M104.1 589.8h.8M103.9 589.7h.8M54.8 563.5h.8M54.9 563.0h.8M55.3 562.6h.8M70.2 589.0h.8M111.5 548.8h.8M111.1 549.2h.8M68.5 590.9h.8M67.6 591.1h.8M88.5 593.3h.8M105.9 580.7h.8M107.1 584.9h.8M105.1 587.6h.8M55.7 559.4h.8M59.2 597.9h.8M86.1 593.6h.8M101.6 545.1h.8M101.1 545.2h.8M93.7 590.9h.8M107.9 564.9h.8M108.7 561.2h.8M108.7 561.1h.8M103.1 521.8h.8M103.4 522.2h.8M70.8 594.7h.8M97.7 571.1h.8M97.7 570.8h.8M65.7 591.3h.8M66.4 591.1h.8M55.2 565.5h.8M112.0 531.7h.8M112.4 532.1h.8M111.7 531.6h.8M107.0 551.9h.8M107.5 551.8h.8M102.5 531.0h.8M107.5 572.6h.8M74.1 595.7h.8M109.8 516.4h.8M109.7 515.7h.8M110.5 516.1h.8M55.4 566.7h.8M52.1 573.5h.8M102.2 540.1h.8M68.5 595.3h.8M68.2 595.0h.8M90.0 592.5h.8M90.1 592.5h.8M64.5 566.7h.8M64.3 567.5h.8M87.8 590.2h.8M109.7 553.8h.8M109.8 554.4h.8M91.8 585.8h.8M91.2 584.7h.8M90.8 585.4h.8M55.1 566.1h.8M112.5 519.6h.8M90.0 590.1h.8M73.0 595.7h.8M72.7 595.8h.8M72.9 596.1h.8M109.6 567.2h.8M107.9 554.2h.8M108.4 554.4h.8M91.1 584.5h.8M91.1 583.6h.8M92.0 592.7h.8M91.6 592.6h.8M96.4 576.9h.8M96.2 576.9h.8M108.8 562.1h.8M108.7 562.4h.8M80.9 587.6h.8M80.8 587.6h.8M80.8 587.7h.8M55.5 567.5h.8M54.9 568.4h.8M58.9 559.1h.8M58.7 558.9h.8M55.5 562.2h.8M47.6 590.5h.8M47.6 591.2h.8M108.5 569.5h.8M108.5 570.2h.8M92.2 587.3h.8M92.6 584.6h.8M89.3 590.5h.8M89.3 590.6h.8M101.8 532.0h.8M101.7 532.4h.8M105.1 517.4h.8M61.4 560.8h.8M60.8 561.4h.8M93.2 586.0h.8M93.3 586.4h.8M89.4 592.0h.8M61.7 569.7h.8M79.9 588.5h.8M80.5 588.3h.8M47.8 589.8h.8M64.2 564.9h.8M64.0 565.3h.8M91.0 589.3h.8M63.0 563.8h.8M71.3 589.5h.8M87.3 588.0h.8M72.0 595.0h.8M92.0 585.2h.8M92.3 583.7h.8M91.7 584.2h.8M91.7 583.8h.8M91.7 584.0h.8M91.3 593.2h.8M91.2 592.9h.8M72.4 588.9h.8M72.0 588.8h.8M79.5 589.0h.8M98.7 569.4h.8M54.4 570.0h.8M86.8 593.1h.8M87.5 592.6h.8M58.1 598.1h.8M52.7 570.9h.8M53.3 570.8h.8M83.9 588.0h.8M103.7 518.0h.8M104.6 517.8h.8M104.5 589.0h.8M96.9 576.1h.8M97.5 576.2h.8M72.6 593.9h.8M72.4 593.7h.8M62.3 586.4h.8M69.3 591.1h.8M100.7 568.3h.8M101.2 568.1h.8M95.9 577.9h.8M107.1 516.0h.8M61.3 596.7h.8M89.6 591.6h.8M88.5 592.1h.8M107.0 574.9h.8M62.9 568.3h.8M63.1 567.6h.8M87.7 590.9h.8M89.8 591.3h.8M107.5 551.2h.8M106.7 577.8h.8M106.9 578.1h.8M80.9 595.6h.8M81.7 588.8h.8M102.8 525.2h.8M110.7 544.7h.8M111.6 529.2h.8M111.4 528.9h.8M81.9 596.2h.8M70.2 590.3h.8M107.0 572.2h.8M107.4 571.6h.8M54.9 568.6h.8M54.6 569.2h.8M69.7 594.3h.8M96.2 578.9h.8M108.0 565.9h.8M107.9 566.4h.8M108.2 566.2h.8M108.3 565.8h.8M108.0 566.1h.8M94.1 584.9h.8M87.1 588.6h.8M57.2 558.6h.8M56.9 558.6h.8M106.5 580.4h.8M94.6 583.4h.8M112.6 526.3h.8M58.1 559.0h.8M57.8 559.3h.8M58.6 559.1h.8M102.9 523.2h.8M103.1 522.9h.8M106.1 583.5h.8M73.0 595.3h.8M72.9 595.1h.8M72.9 594.9h.8M112.1 521.1h.8M92.3 587.7h.8M92.3 588.2h.8M61.9 587.2h.8M85.9 587.8h.8M85.8 587.9h.8M97.3 590.1h.8M56.5 566.7h.8M84.5 594.8h.8M110.9 517.4h.8M110.8 516.8h.8M85.3 587.6h.8M85.0 587.7h.8M85.0 588.5h.8M61.2 562.0h.8M61.2 561.7h.8M110.7 536.8h.8M110.9 537.2h.8M85.6 594.3h.8M85.0 594.2h.8M102.2 590.7h.8M101.8 590.7h.8M102.4 591.0h.8M93.9 589.6h.8M94.3 589.9h.8M69.4 593.7h.8M68.6 594.3h.8M69.1 594.1h.8M80.8 589.1h.8M81.2 589.0h.8M108.7 554.3h.8M109.0 553.8h.8M56.3 567.8h.8M99.6 570.3h.8M107.7 516.5h.8M108.0 515.6h.8M111.5 537.8h.8M106.6 575.7h.8M106.8 575.7h.8M107.0 576.0h.8M96.6 580.3h.8M96.5 580.1h.8M90.9 591.4h.8M91.3 590.7h.8M91.2 591.4h.8M55.6 563.0h.8M74.6 594.6h.8M102.9 523.6h.8M92.1 590.5h.8M91.8 591.0h.8M91.7 590.5h.8M92.4 590.6h.8M75.6 590.2h.8M60.2 561.1h.8M56.1 560.0h.8M56.5 559.9h.8M56.1 559.9h.8M77.2 594.7h.8M61.7 568.7h.8M62.4 587.8h.8M50.5 595.6h.8M49.8 596.2h.8M82.9 589.5h.8M102.8 547.0h.8M103.4 547.5h.8M103.0 546.8h.8M67.9 594.1h.8M86.8 589.5h.8M80.3 589.3h.8M80.2 588.5h.8M56.6 565.6h.8M55.7 566.0h.8M70.7 593.3h.8M68.6 592.3h.8M58.9 559.6h.8M99.5 591.4h.8M107.5 566.8h.8M107.5 566.7h.8M56.4 562.2h.8M111.6 528.0h.8M78.3 595.4h.8M111.1 536.0h.8M111.3 535.9h.8M110.7 536.3h.8M101.6 540.7h.8M107.4 550.1h.8M76.4 595.1h.8M85.7 592.7h.8M67.3 592.2h.8M108.5 567.4h.8M62.9 590.3h.8M104.5 518.5h.8M103.7 518.8h.8M62.4 564.4h.8M70.1 591.1h.8M106.0 585.6h.8M103.5 531.2h.8M102.9 530.6h.8M87.4 591.8h.8M86.9 592.0h.8M53.1 597.9h.8M52.8 598.2h.8M92.1 589.5h.8M56.3 565.1h.8M56.3 564.6h.8M56.2 565.3h.8M55.8 564.6h.8M107.8 567.8h.8M107.7 567.9h.8M108.1 568.0h.8M107.8 568.2h.8M69.2 592.0h.8M69.5 591.6h.8M83.2 594.6h.8M82.9 595.1h.8M104.1 527.7h.8M103.7 528.0h.8M104.6 527.6h.8M81.0 590.2h.8M81.1 590.3h.8M50.3 581.9h.8M56.3 561.4h.8M56.1 560.5h.8M74.8 590.1h.8M75.6 589.7h.8M62.9 566.8h.8M69.9 592.9h.8M92.5 590.5h.8M91.8 589.8h.8M91.7 590.3h.8M104.1 520.1h.8M111.2 517.7h.8M111.0 517.9h.8M110.7 517.8h.8M67.1 594.0h.8M111.2 544.2h.8M110.7 543.7h.8M107.1 571.4h.8M107.0 571.2h.8M102.5 567.7h.8M102.5 567.6h.8M61.4 576.7h.8M61.4 577.0h.8M61.1 576.7h.8M105.1 587.2h.8M104.9 586.7h.8M70.7 590.5h.8M50.5 578.7h.8M109.8 551.9h.8M110.0 552.1h.8M103.9 588.3h.8M49.5 593.8h.8M82.1 595.1h.8M100.0 568.7h.8M100.1 569.2h.8M74.1 590.2h.8M74.5 590.1h.8M64.9 596.5h.8M65.1 596.2h.8M64.8 595.5h.8M65.0 595.6h.8M111.9 521.6h.8M79.4 594.8h.8M110.7 538.9h.8M111.5 539.0h.8M110.9 539.0h.8M51.2 577.4h.8M51.4 576.7h.8M94.8 585.6h.8M95.2 586.4h.8M107.9 553.2h.8M108.3 553.5h.8M99.5 573.5h.8M99.6 574.0h.8M98.9 573.6h.8M56.5 597.7h.8M60.9 563.4h.8M57.2 567.2h.8M111.1 518.5h.8M63.1 564.7h.8M62.8 565.1h.8M63.6 564.5h.8M66.0 591.9h.8M66.5 591.9h.8M65.8 591.9h.8M68.8 592.9h.8M68.7 593.3h.8M102.4 546.1h.8M59.1 560.8h.8M59.5 561.1h.8M81.4 595.2h.8M80.9 595.3h.8M81.0 595.4h.8M74.5 593.8h.8M74.5 593.9h.8M95.3 589.2h.8M111.3 542.0h.8M95.2 581.9h.8M94.8 582.2h.8M95.2 582.1h.8M112.2 524.8h.8M104.3 520.7h.8M54.8 570.4h.8M55.6 570.5h.8M111.3 540.7h.8M55.7 568.6h.8M93.2 588.4h.8M93.5 588.0h.8M61.7 596.2h.8M62.6 595.6h.8M79.8 595.1h.8M80.3 594.5h.8M68.4 593.0h.8M68.1 593.3h.8M70.4 592.3h.8M56.6 562.4h.8M57.4 562.4h.8M56.6 562.2h.8M50.5 581.1h.8M50.2 581.1h.8M102.6 538.9h.8M103.5 539.1h.8M103.1 538.5h.8M73.5 589.6h.8M72.8 589.6h.8M110.7 543.4h.8M111.4 542.9h.8M110.7 542.7h.8M103.0 537.4h.8M103.4 536.8h.8M58.1 559.6h.8M58.3 560.3h.8M95.7 589.3h.8M96.3 589.5h.8M94.8 586.6h.8M94.6 587.0h.8M63.1 595.6h.8M63.3 595.7h.8M86.1 588.7h.8M57.4 559.6h.8M57.1 560.3h.8M62.6 588.9h.8M60.6 561.7h.8M60.5 562.2h.8M80.1 589.9h.8M79.8 590.4h.8M111.0 540.3h.8M62.0 567.9h.8M57.1 562.8h.8M103.0 588.5h.8M103.6 588.9h.8M101.8 541.9h.8M101.6 542.0h.8M84.5 594.3h.8M84.4 594.2h.8M84.3 594.2h.8M84.1 594.4h.8M71.8 590.0h.8M72.1 590.0h.8M71.9 589.6h.8M72.3 590.5h.8M105.5 581.2h.8M96.8 577.4h.8M96.8 577.2h.8M96.9 577.3h.8M72.6 591.8h.8M72.3 591.6h.8M105.9 573.0h.8M106.4 572.6h.8M105.8 573.1h.8M63.8 595.9h.8M57.8 561.0h.8M57.3 560.5h.8M94.4 589.0h.8M60.2 597.0h.8M60.5 597.2h.8M60.6 597.4h.8M67.3 593.2h.8M67.3 592.9h.8M95.3 585.0h.8M57.2 568.2h.8M95.6 581.3h.8M101.9 542.6h.8M102.4 543.4h.8M71.5 591.8h.8M70.6 591.6h.8M70.7 591.6h.8M71.4 591.7h.8M70.9 591.5h.8M52.6 572.4h.8M52.8 572.3h.8M52.7 571.7h.8M92.6 589.2h.8M92.9 589.1h.8M92.9 589.4h.8M105.9 583.7h.8M106.3 584.4h.8M106.2 583.5h.8M110.6 531.4h.8M110.8 530.8h.8M62.6 565.8h.8M62.8 566.0h.8M63.4 565.8h.8M62.8 566.3h.8M112.2 522.6h.8M112.3 522.9h.8M50.4 579.8h.8M50.0 580.4h.8M49.7 580.4h.8M106.1 516.6h.8M106.5 517.3h.8M106.4 517.3h.8M65.3 592.2h.8M65.4 592.2h.8M110.1 547.1h.8M60.8 572.2h.8M61.5 572.0h.8M61.0 572.4h.8M61.6 572.0h.8M94.4 588.4h.8M94.6 587.7h.8M93.7 587.7h.8M93.8 588.2h.8M106.6 579.0h.8M106.3 579.0h.8M105.7 579.0h.8M59.3 561.5h.8M61.2 578.7h.8M60.7 579.0h.8M98.2 575.5h.8M73.6 592.7h.8M100.6 591.3h.8M101.0 591.1h.8M101.2 591.0h.8M95.3 587.9h.8M95.0 588.0h.8M94.9 587.9h.8M110.5 548.6h.8M109.8 548.9h.8M110.0 548.7h.8M102.5 544.5h.8M103.9 546.9h.8" stroke="#768cf2" stroke-width=".8" fill="none"/>
<path d="M110.4 547.6h.8M60.9 570.6h.8M98.2 589.9h.8M98.1 589.6h.8M81.6 594.2h.8M82.0 593.7h.8M102.9 536.5h.8M103.1 536.3h.8M110.8 519.7h.8M84.3 588.6h.8M83.7 588.8h.8M84.1 589.2h.8M84.3 589.1h.8M84.4 589.3h.8M66.2 593.7h.8M66.0 594.2h.8M107.1 570.1h.8M107.5 569.6h.8M56.7 564.2h.8M83.5 593.8h.8M110.9 527.1h.8M111.1 527.4h.8M110.8 527.0h.8M83.1 590.4h.8M110.0 517.3h.8M106.7 568.2h.8M81.0 592.0h.8M102.0 544.7h.8M102.1 545.4h.8M99.7 591.2h.8M104.4 526.7h.8M96.8 578.7h.8M97.5 579.4h.8M109.7 528.9h.8M60.9 596.2h.8M61.0 595.8h.8M96.6 580.1h.8M106.0 571.6h.8M57.3 565.3h.8M57.2 565.2h.8M57.0 564.8h.8M109.1 552.9h.8M108.8 553.3h.8M109.5 552.5h.8M109.2 552.7h.8M102.9 532.2h.8M107.5 549.3h.8M107.4 548.7h.8M107.0 548.7h.8M107.3 549.1h.8M105.5 518.3h.8M105.6 517.7h.8M65.8 593.5h.8M66.1 593.0h.8M106.4 584.6h.8M106.3 585.0h.8M106.3 584.6h.8M82.2 591.9h.8M82.2 592.2h.8M82.6 592.0h.8M102.4 589.8h.8M54.2 598.2h.8M53.7 598.1h.8M54.4 598.5h.8M110.4 545.9h.8M57.9 563.2h.8M105.8 568.0h.8M105.8 568.5h.8M111.4 532.6h.8M111.3 532.7h.8M61.1 570.0h.8M103.5 534.6h.8M102.9 534.6h.8M102.9 568.3h.8M103.3 567.9h.8M97.1 577.6h.8M73.1 591.5h.8M100.2 570.3h.8M99.6 570.0h.8M100.2 569.8h.8M53.4 574.9h.8M81.7 593.5h.8M82.3 593.3h.8M72.0 590.7h.8M72.5 591.2h.8M71.7 590.9h.8M85.8 591.8h.8M60.8 580.5h.8M61.4 563.9h.8M60.8 564.1h.8M52.7 573.9h.8M75.4 594.3h.8M75.5 594.2h.8M74.8 593.9h.8M80.0 590.9h.8M80.0 591.3h.8M95.2 584.2h.8M94.9 584.5h.8M106.9 569.4h.8M107.6 569.5h.8M95.5 583.3h.8M94.7 582.9h.8M95.5 582.5h.8M94.9 583.4h.8M104.5 521.9h.8M95.9 587.4h.8M74.5 591.9h.8M73.7 592.3h.8M60.3 562.9h.8M60.1 563.5h.8M105.6 567.6h.8M105.5 568.4h.8M105.3 567.6h.8M86.6 590.4h.8M102.9 534.3h.8M74.4 591.2h.8M74.3 590.7h.8M99.1 575.3h.8M58.1 565.9h.8M58.0 566.3h.8M57.8 565.6h.8M102.8 532.8h.8M103.4 533.4h.8M60.8 581.8h.8M61.3 582.3h.8M52.8 572.6h.8M53.3 573.2h.8M53.2 573.2h.8M110.8 532.0h.8M106.3 574.6h.8M106.5 574.8h.8M105.7 575.1h.8M65.6 594.6h.8M65.1 595.1h.8M65.4 595.0h.8M65.1 594.8h.8M79.8 594.4h.8M80.0 594.3h.8M110.2 528.2h.8M110.4 527.9h.8M109.8 528.1h.8M104.1 567.6h.8M103.8 567.5h.8M104.6 568.0h.8M103.7 567.8h.8M58.9 563.0h.8M58.8 563.4h.8M100.9 569.2h.8M64.5 592.3h.8M64.2 592.0h.8M65.0 592.6h.8M65.6 592.6h.8M55.7 570.4h.8M56.3 569.5h.8M83.5 593.3h.8M100.0 571.0h.8M100.5 570.8h.8M96.7 589.0h.8M97.3 589.4h.8M96.9 589.1h.8M97.5 588.6h.8M62.3 566.2h.8M62.1 565.7h.8M57.4 569.0h.8M61.4 568.9h.8M61.5 569.2h.8M82.8 590.9h.8M61.0 583.2h.8M58.0 564.3h.8M58.4 564.0h.8M58.4 564.5h.8M108.0 551.0h.8M108.0 550.5h.8M107.7 551.5h.8M108.3 550.7h.8M85.7 591.3h.8M85.7 591.1h.8M86.2 590.8h.8M86.1 591.1h.8M85.6 591.2h.8M106.0 571.4h.8M96.9 580.5h.8M96.9 581.1h.8M96.7 580.9h.8M77.2 590.6h.8M76.7 591.1h.8M76.7 591.1h.8M76.6 591.5h.8M63.0 591.5h.8M62.8 590.7h.8M63.4 590.8h.8M63.5 591.1h.8M75.5 591.0h.8M74.9 590.5h.8M74.9 591.0h.8M78.3 591.3h.8M64.9 593.7h.8M79.6 591.0h.8M79.5 590.6h.8M78.9 591.3h.8M79.1 590.7h.8M79.2 591.2h.8M108.9 551.8h.8M108.9 552.1h.8M109.2 552.2h.8M109.3 552.3h.8M76.5 593.6h.8M76.3 593.7h.8M83.1 591.6h.8M83.6 592.0h.8M82.9 591.6h.8M82.9 591.7h.8M61.3 568.1h.8M60.7 568.2h.8M60.8 567.8h.8M50.8 578.4h.8M51.3 577.8h.8M51.3 578.1h.8M75.8 591.2h.8M105.3 547.0h.8M61.4 584.0h.8M61.4 583.9h.8M61.8 595.2h.8M111.3 520.8h.8M110.8 520.8h.8M79.0 594.0h.8M79.0 593.7h.8M78.8 594.2h.8M62.2 589.5h.8M62.0 590.1h.8M58.5 567.7h.8M108.9 550.7h.8M108.8 551.1h.8M95.9 582.5h.8M96.6 581.6h.8M60.3 574.6h.8M77.4 593.9h.8M77.1 593.7h.8M76.7 594.1h.8M59.9 575.9h.8M60.4 576.4h.8M60.2 575.7h.8M60.1 575.8h.8M79.9 593.3h.8M80.1 592.6h.8M80.2 593.3h.8M61.3 565.5h.8M61.4 565.5h.8M102.8 588.4h.8M103.9 525.8h.8M60.7 566.9h.8M110.3 517.9h.8M110.3 518.3h.8M105.9 577.6h.8M109.8 545.2h.8M60.5 564.1h.8M59.7 563.5h.8M63.9 595.5h.8M64.0 594.7h.8M84.8 592.5h.8M85.0 591.8h.8M84.8 591.5h.8M63.5 595.5h.8M62.7 595.2h.8M63.3 594.6h.8M63.1 594.5h.8M75.5 593.4h.8M75.2 593.4h.8M84.1 590.2h.8M84.6 590.5h.8M109.0 517.1h.8M109.1 517.5h.8M107.8 549.5h.8M108.5 550.4h.8M108.3 550.2h.8M59.6 596.8h.8M59.5 596.9h.8M59.2 596.7h.8M98.1 580.0h.8M109.3 549.6h.8M59.4 563.7h.8M59.0 563.8h.8M59.2 564.2h.8M58.9 565.6h.8M59.6 566.3h.8M104.9 519.3h.8M105.5 519.3h.8M52.4 597.1h.8M52.6 596.7h.8M105.4 586.0h.8M104.6 586.0h.8M105.3 585.7h.8M102.1 589.1h.8M102.2 588.9h.8M61.3 565.6h.8M61.2 566.3h.8M60.7 566.4h.8M107.2 517.3h.8M107.1 517.2h.8M58.9 567.3h.8M106.0 568.8h.8M105.9 568.9h.8M105.8 569.6h.8M106.1 570.1h.8M105.9 570.3h.8M96.2 585.2h.8M96.2 585.1h.8M85.4 589.6h.8M85.0 590.5h.8M85.1 590.4h.8M84.1 591.6h.8M84.1 592.0h.8M59.5 565.4h.8M75.5 592.1h.8M61.0 585.2h.8M61.5 584.7h.8M64.2 594.1h.8M104.3 531.1h.8M100.4 573.2h.8M104.0 522.8h.8M104.8 571.6h.8M105.5 571.6h.8M52.7 575.6h.8M60.4 565.2h.8M60.6 564.9h.8M98.4 577.1h.8M98.4 577.2h.8M59.6 567.1h.8M105.6 519.9h.8M106.1 576.9h.8M106.3 576.5h.8M106.2 576.9h.8M105.7 577.4h.8M60.1 595.7h.8M60.4 596.0h.8M59.7 595.5h.8M60.2 566.2h.8M60.4 566.0h.8M60.5 566.4h.8M101.5 589.9h.8M101.2 590.0h.8M103.6 545.7h.8M102.9 546.5h.8M103.1 545.8h.8M52.1 576.6h.8M52.2 577.3h.8M52.4 577.0h.8M60.6 574.1h.8M98.2 581.1h.8M109.1 529.0h.8M109.9 527.2h.8M84.5 591.4h.8M84.3 590.9h.8M84.6 590.6h.8M59.9 577.4h.8M97.2 588.4h.8M108.9 548.5h.8M109.4 527.9h.8M109.0 528.2h.8M109.0 528.1h.8M85.3 590.6h.8M103.1 541.1h.8M103.3 541.2h.8M103.3 541.3h.8M108.1 517.3h.8M108.5 516.7h.8M107.7 516.8h.8M54.4 572.2h.8M54.0 572.4h.8M107.3 547.7h.8M101.0 570.2h.8M100.9 569.9h.8M50.4 583.5h.8M109.8 535.8h.8M110.4 535.9h.8M110.5 535.7h.8M79.5 592.1h.8M79.3 591.9h.8M79.5 591.8h.8M62.9 593.7h.8M102.3 569.5h.8M105.0 574.4h.8M105.1 574.2h.8M105.2 573.9h.8M105.6 573.9h.8M105.1 574.2h.8M105.6 520.9h.8M105.6 521.0h.8M110.5 537.5h.8M104.5 525.1h.8M110.6 522.4h.8M110.8 522.5h.8M111.4 522.2h.8M79.1 593.1h.8M78.9 593.4h.8M59.5 567.8h.8M59.3 568.0h.8M59.5 568.4h.8M59.1 568.2h.8M59.6 568.3h.8M96.1 582.6h.8M96.4 583.3h.8M97.0 581.9h.8M58.3 569.1h.8M58.0 569.0h.8M108.0 549.4h.8M108.0 548.8h.8M50.2 595.0h.8M104.7 583.9h.8M105.0 583.6h.8M105.0 584.3h.8M50.8 579.1h.8M96.0 584.0h.8M96.5 583.8h.8M105.4 571.1h.8M104.7 570.8h.8M60.2 570.6h.8M60.6 570.6h.8M59.9 570.8h.8M62.0 593.5h.8M76.1 592.9h.8M76.0 592.6h.8M60.3 570.5h.8M110.1 519.6h.8M109.7 520.4h.8M55.6 571.3h.8M56.1 570.9h.8M55.9 571.1h.8M56.1 571.3h.8M98.4 578.1h.8M98.0 578.3h.8M97.6 578.2h.8M98.1 578.5h.8M61.1 585.8h.8M61.1 586.1h.8M63.1 592.7h.8M62.7 593.2h.8M63.5 593.0h.8M62.9 592.6h.8M110.0 535.3h.8M110.5 535.5h.8M110.4 535.3h.8M75.9 592.4h.8M75.6 591.9h.8M76.2 591.9h.8M76.2 591.8h.8M109.9 530.9h.8M110.1 530.8h.8M110.5 544.1h.8M109.6 544.3h.8M59.9 568.5h.8M60.3 569.0h.8M59.8 568.8h.8M60.6 569.4h.8M100.3 590.2h.8M99.8 590.4h.8M99.7 589.7h.8M99.9 590.0h.8M99.7 589.9h.8M100.2 590.2h.8M104.0 523.5h.8M104.2 524.4h.8M104.6 523.6h.8M104.9 569.2h.8M105.0 568.7h.8M98.7 575.6h.8M100.1 574.2h.8M100.4 574.3h.8M100.3 573.8h.8M78.1 592.2h.8M59.8 573.0h.8M60.1 572.5h.8M59.9 573.3h.8M60.1 572.9h.8M60.4 573.0h.8M60.2 572.9h.8M109.5 548.5h.8M109.0 548.3h.8M109.0 548.4h.8M59.8 571.7h.8M59.7 571.6h.8M96.8 586.2h.8M96.7 585.7h.8M96.7 585.9h.8M77.6 591.8h.8M105.0 579.4h.8M104.7 579.5h.8M105.3 578.7h.8M98.0 589.2h.8M77.7 592.6h.8M78.0 592.5h.8M78.3 592.9h.8M78.1 593.0h.8M77.0 593.5h.8M76.7 592.7h.8M105.4 585.3h.8M104.9 584.7h.8M58.4 597.3h.8M61.0 594.2h.8M61.2 593.8h.8M61.0 594.4h.8M106.2 547.4h.8M106.5 547.1h.8M111.0 525.4h.8M111.4 525.0h.8M110.8 524.6h.8M111.4 524.7h.8M62.0 590.8h.8M62.4 591.2h.8M101.1 570.9h.8M61.6 587.3h.8M60.9 587.0h.8M60.6 587.2h.8M51.2 579.6h.8M50.6 580.1h.8M50.9 580.4h.8M110.3 542.6h.8M110.3 542.8h.8M51.1 595.8h.8M51.1 595.9h.8M104.5 581.9h.8M98.8 580.1h.8M99.5 579.9h.8M99.4 580.3h.8M61.1 587.9h.8M58.6 570.2h.8M58.4 569.7h.8M57.7 570.3h.8M58.5 570.1h.8M58.0 570.2h.8M58.2 570.2h.8M103.3 544.3h.8M102.9 543.8h.8M108.8 529.6h.8M51.3 581.2h.8M110.4 538.6h.8M110.3 538.6h.8M110.1 539.2h.8M59.0 569.1h.8M58.9 568.7h.8M103.1 545.1h.8M59.7 578.1h.8M110.9 523.3h.8M110.9 522.8h.8M105.1 574.9h.8M109.4 526.7h.8M109.0 518.4h.8M108.8 518.1h.8M109.3 518.2h.8M108.7 517.7h.8M109.3 546.5h.8M109.0 546.9h.8M109.0 547.3h.8M109.4 547.2h.8M104.1 581.3h.8M103.9 580.9h.8M103.2 569.1h.8M102.7 568.8h.8M103.4 568.5h.8M103.4 569.2h.8M103.0 568.7h.8M109.7 541.0h.8M105.3 530.1h.8M105.1 530.2h.8M97.7 581.6h.8M98.6 582.1h.8M60.8 588.6h.8M60.8 588.9h.8M99.2 580.5h.8M105.6 521.8h.8M58.8 576.4h.8M59.5 576.0h.8M103.8 569.1h.8M103.6 568.6h.8M103.9 568.6h.8M102.6 587.8h.8M54.1 575.1h.8M104.3 537.8h.8M58.7 570.0h.8M59.5 570.1h.8M59.0 574.6h.8M59.3 575.4h.8M97.4 585.0h.8M97.4 585.2h.8M97.0 584.7h.8M97.3 585.2h.8M54.5 573.7h.8M54.4 574.3h.8M103.7 536.7h.8M104.5 537.5h.8M101.2 589.5h.8M54.3 572.7h.8M54.2 573.1h.8M54.3 572.7h.8M110.3 520.8h.8M110.2 520.6h.8M110.5 520.8h.8M96.8 583.5h.8M96.8 582.9h.8M96.8 582.7h.8M59.2 570.7h.8M61.6 593.3h.8M61.8 592.6h.8M62.2 593.5h.8M61.9 592.9h.8M104.4 531.9h.8M57.9 571.2h.8M57.7 571.4h.8M111.1 523.6h.8M111.2 524.3h.8M111.0 523.5h.8M111.1 524.4h.8M110.2 540.3h.8M110.4 539.8h.8M110.3 540.2h.8M48.9 592.1h.8M104.5 571.5h.8M104.3 572.1h.8M108.5 548.3h.8M108.1 548.1h.8M108.4 547.6h.8M103.8 536.1h.8M103.9 536.2h.8M49.5 589.1h.8M49.5 588.6h.8M102.2 570.0h.8M102.1 569.7h.8M110.4 532.8h.8M110.1 532.5h.8M110.1 533.3h.8M55.3 571.7h.8M54.7 572.5h.8M54.8 571.5h.8M102.7 586.9h.8M109.9 525.7h.8M109.9 525.9h.8M110.2 525.6h.8M110.4 532.0h.8M109.9 532.4h.8M110.3 531.8h.8M104.0 585.8h.8M103.9 585.7h.8M103.8 585.9h.8M101.2 571.6h.8M101.6 572.4h.8M101.3 571.6h.8M101.0 571.8h.8M101.3 572.3h.8M104.9 526.8h.8M105.2 526.7h.8M105.5 526.7h.8M105.1 527.4h.8M104.6 526.9h.8M105.0 526.5h.8M104.8 527.2h.8M104.4 570.9h.8M103.6 571.5h.8M104.5 571.0h.8M62.5 591.7h.8M62.3 592.2h.8M97.5 583.9h.8M106.0 518.9h.8M106.1 518.6h.8M104.3 545.7h.8M104.0 546.3h.8M104.0 545.6h.8M108.5 528.9h.8M108.0 528.9h.8M108.4 529.1h.8M50.1 585.2h.8M104.4 583.5h.8M103.7 583.0h.8M99.2 578.6h.8M108.9 519.1h.8M108.8 518.9h.8M103.6 570.2h.8M99.8 575.3h.8M104.5 534.7h.8M58.8 573.7h.8M59.4 573.7h.8M59.2 573.7h.8M51.8 578.4h.8M52.0 577.9h.8M52.6 578.3h.8M107.2 518.2h.8M106.6 518.4h.8M107.2 518.0h.8M107.4 518.2h.8M104.7 576.4h.8M59.4 595.7h.8M58.8 596.2h.8M59.0 595.5h.8M58.8 596.4h.8M59.3 595.8h.8M56.9 596.5h.8M57.3 597.0h.8M57.3 597.4h.8M56.6 596.7h.8M58.2 571.7h.8M105.2 578.4h.8M105.2 578.3h.8M106.2 519.9h.8M105.7 519.8h.8M106.1 520.4h.8M106.2 519.7h.8M60.1 579.1h.8M60.0 579.3h.8M99.0 589.2h.8M99.5 588.6h.8M98.3 588.3h.8M98.3 587.9h.8M98.3 587.8h.8M98.3 588.2h.8M59.4 576.8h.8M59.3 576.7h.8M99.2 576.7h.8M99.0 576.8h.8M104.3 580.0h.8M56.7 571.8h.8M57.2 571.6h.8M56.9 572.2h.8M57.0 572.3h.8M56.1 571.7h.8M53.0 597.1h.8M53.6 597.1h.8M53.0 597.0h.8M107.8 517.7h.8M59.1 573.5h.8M58.6 573.2h.8M59.4 573.1h.8M58.9 573.1h.8M58.6 573.2h.8M103.9 532.6h.8M103.7 533.1h.8M102.7 569.7h.8M103.5 570.1h.8M104.5 533.7h.8M104.1 539.6h.8M101.8 570.8h.8M109.8 522.1h.8M110.2 521.6h.8M107.6 527.0h.8M52.8 576.5h.8M53.1 576.9h.8M53.6 577.5h.8M100.1 588.9h.8M106.1 520.9h.8M106.3 527.7h.8M57.8 574.9h.8M58.4 575.1h.8M58.3 575.3h.8M101.6 573.4h.8M101.1 572.8h.8M101.3 572.6h.8M97.7 583.2h.8M106.8 547.1h.8M107.0 546.9h.8M107.1 547.2h.8M98.5 587.1h.8M97.9 586.6h.8M61.5 593.1h.8M104.8 523.0h.8M105.5 523.2h.8M105.3 523.4h.8M105.4 523.0h.8M99.6 578.0h.8M98.7 578.4h.8M98.8 577.7h.8M107.1 528.0h.8M103.1 570.8h.8M102.9 571.4h.8M103.1 571.4h.8M103.4 570.5h.8M102.7 571.3h.8M103.7 573.7h.8M49.2 590.5h.8M48.9 589.9h.8M105.4 576.6h.8M105.3 577.4h.8M105.3 577.2h.8M105.4 577.0h.8M53.7 575.7h.8M106.4 529.0h.8M106.2 528.7h.8M106.0 529.3h.8M106.0 529.3h.8M106.0 528.7h.8M57.9 575.9h.8M58.5 576.0h.8M99.4 581.6h.8M98.8 582.0h.8M98.2 585.6h.8M98.0 585.9h.8M108.9 531.3h.8M109.1 531.4h.8M109.3 531.5h.8M60.1 579.7h.8M60.1 580.4h.8M58.1 572.8h.8M57.6 573.1h.8M58.4 573.9h.8M58.6 573.6h.8M103.8 583.6h.8M103.6 583.9h.8M104.3 584.2h.8M103.2 572.2h.8M104.8 531.2h.8M105.0 531.4h.8M108.1 547.4h.8M107.7 547.0h.8M107.6 547.2h.8M99.6 579.9h.8M100.5 579.7h.8M100.3 579.7h.8M105.0 526.4h.8M103.7 584.6h.8M104.2 585.0h.8M100.4 581.2h.8M97.7 585.2h.8M108.7 525.8h.8M60.3 580.6h.8M60.1 580.9h.8M106.7 529.3h.8M106.7 528.6h.8M107.0 528.9h.8M107.5 528.7h.8M55.3 573.2h.8M55.1 573.4h.8M55.3 572.6h.8M109.0 521.4h.8M109.4 520.8h.8M109.3 520.7h.8M108.7 521.4h.8M109.2 521.4h.8M102.6 572.0h.8M102.6 572.2h.8M109.4 544.5h.8M108.8 544.9h.8M108.7 537.2h.8M109.4 536.5h.8M109.3 536.3h.8M98.5 584.5h.8M98.0 583.6h.8M98.4 583.6h.8M98.0 583.8h.8M108.9 535.0h.8M109.0 534.5h.8M56.7 573.1h.8M57.0 573.1h.8M105.3 545.9h.8M105.4 545.7h.8M105.0 546.0h.8M107.2 519.0h.8M106.7 519.4h.8M106.9 519.2h.8M106.9 518.9h.8M106.8 518.6h.8M110.0 525.0h.8M110.3 525.2h.8M107.8 519.3h.8M107.9 519.3h.8M108.1 519.2h.8M109.7 522.5h.8M110.3 523.3h.8M61.2 590.7h.8M61.0 590.7h.8M103.9 541.4h.8M103.9 540.8h.8M104.3 540.8h.8M104.1 540.8h.8M104.4 540.9h.8M106.2 521.6h.8M106.6 522.4h.8M106.6 522.4h.8M106.1 521.7h.8M106.4 521.8h.8M51.7 579.3h.8M52.1 579.1h.8M59.8 582.7h.8M55.1 573.7h.8M54.8 573.5h.8M55.5 573.6h.8M60.0 584.2h.8M60.5 584.0h.8M108.7 534.0h.8M109.5 533.6h.8M109.2 534.4h.8M109.1 534.4h.8M109.1 534.3h.8M101.5 574.3h.8M56.8 575.3h.8M57.1 575.0h.8M102.7 573.2h.8M102.8 573.1h.8M103.2 573.1h.8M106.8 526.8h.8M107.6 526.8h.8M107.1 527.1h.8M55.4 575.0h.8M54.7 574.7h.8M105.9 527.2h.8M105.7 527.1h.8M107.2 519.8h.8M109.5 538.3h.8M109.5 538.3h.8M55.9 572.9h.8M56.0 573.2h.8M56.4 573.3h.8M104.7 524.3h.8M105.4 523.5h.8M104.9 523.5h.8M104.8 524.4h.8M60.8 592.4h.8M60.9 592.1h.8M60.6 592.4h.8M102.5 587.1h.8M102.2 587.2h.8M102.1 586.8h.8M101.7 586.8h.8M102.3 587.0h.8M102.0 587.3h.8M108.5 520.0h.8M107.6 519.6h.8M107.8 519.8h.8M108.4 519.6h.8M51.5 583.3h.8M56.5 597.2h.8M56.2 596.7h.8M100.2 576.3h.8M100.5 576.0h.8M100.5 576.0h.8M103.9 545.4h.8M104.0 544.8h.8M103.7 545.3h.8M105.1 524.9h.8M105.3 525.1h.8M105.5 524.7h.8M104.9 524.5h.8M106.5 529.6h.8M106.5 529.8h.8M105.8 529.6h.8M99.4 587.6h.8M98.8 587.8h.8M99.0 588.0h.8M99.4 587.6h.8M98.9 587.6h.8M98.8 587.9h.8M110.3 523.8h.8M110.3 524.2h.8M110.1 523.9h.8M110.0 524.1h.8M107.4 521.2h.8M103.8 575.2h.8M103.8 542.3h.8M104.0 541.8h.8M104.5 541.9h.8M104.3 542.3h.8M104.6 542.5h.8M60.0 584.6h.8M60.6 585.4h.8M58.9 577.6h.8M58.7 577.9h.8M58.8 577.7h.8M58.8 578.0h.8M103.1 585.5h.8M103.2 586.4h.8M102.7 585.6h.8M101.9 572.9h.8M102.1 573.0h.8M102.5 573.3h.8M101.7 572.9h.8M102.0 573.1h.8M49.9 593.7h.8M108.5 521.3h.8M108.1 521.2h.8M108.4 521.4h.8M109.2 531.8h.8M109.3 532.2h.8M109.3 531.7h.8M109.5 531.8h.8M56.4 573.8h.8M56.3 574.1h.8M55.8 573.7h.8M56.4 573.6h.8M56.1 573.8h.8M56.0 574.0h.8M55.9 573.9h.8M99.8 588.2h.8M100.4 588.1h.8M100.3 588.1h.8M100.2 587.6h.8M100.1 587.9h.8M109.4 533.3h.8M109.6 532.8h.8M99.6 579.0h.8M103.9 543.5h.8M103.7 543.5h.8M103.9 543.7h.8M104.6 544.1h.8M56.9 576.0h.8M57.4 576.2h.8M53.6 597.5h.8M54.5 596.6h.8" stroke="#5c77ee" stroke-width=".8" fill="none"/>
<path d="M55.8 574.5h.8M102.7 580.9h.8M102.7 581.0h.8M102.8 581.1h.8M103.6 580.9h.8M103.5 581.2h.8M103.3 581.8h.8M103.4 582.5h.8M99.5 582.7h.8M98.7 582.9h.8M99.2 582.8h.8M107.3 530.0h.8M106.9 530.1h.8M106.6 530.5h.8M107.5 530.3h.8M109.0 543.6h.8M108.0 526.2h.8M108.5 526.1h.8M106.2 546.2h.8M106.0 545.9h.8M58.6 595.7h.8M58.3 596.0h.8M57.8 595.6h.8M98.9 586.7h.8M99.3 587.4h.8M106.8 522.2h.8M107.4 522.1h.8M106.9 521.7h.8M105.0 532.0h.8M104.8 531.6h.8M104.7 532.2h.8M105.1 531.5h.8M100.5 582.1h.8M100.3 582.2h.8M107.6 545.8h.8M108.0 545.7h.8M107.6 545.8h.8M107.7 545.9h.8M106.0 522.6h.8M108.7 538.8h.8M108.5 530.8h.8M108.3 530.6h.8M108.1 531.2h.8M107.8 530.6h.8M107.7 522.1h.8M108.0 522.2h.8M108.1 522.3h.8M103.1 574.5h.8M102.9 574.0h.8M102.8 574.3h.8M102.9 574.4h.8M54.9 596.6h.8M55.5 596.7h.8M108.9 523.1h.8M60.0 585.9h.8M59.9 586.4h.8M60.5 585.8h.8M60.2 586.3h.8M52.9 577.8h.8M52.5 596.4h.8M51.7 595.5h.8M100.6 581.4h.8M98.7 585.8h.8M99.1 586.2h.8M109.3 525.3h.8M109.3 525.0h.8M109.4 524.7h.8M108.7 524.8h.8M60.1 593.1h.8M60.0 593.2h.8M55.3 575.5h.8M54.6 576.3h.8M54.6 576.4h.8M51.7 581.0h.8M52.3 580.6h.8M52.4 581.2h.8M51.8 581.3h.8M52.2 580.8h.8M103.7 575.9h.8M103.9 578.0h.8M104.0 577.6h.8M101.0 579.6h.8M101.0 580.1h.8M101.5 574.6h.8M100.7 575.0h.8M101.2 587.2h.8M100.6 587.4h.8M100.7 587.2h.8M100.1 577.4h.8M99.7 577.2h.8M103.2 583.5h.8M108.9 542.6h.8M109.5 542.9h.8M109.4 543.3h.8M103.2 580.2h.8M103.5 580.3h.8M103.6 579.7h.8M103.2 580.2h.8M102.6 580.2h.8M99.6 584.5h.8M106.4 526.3h.8M106.6 526.4h.8M106.5 526.5h.8M100.5 578.0h.8M99.9 578.0h.8M100.2 578.0h.8M100.4 577.9h.8M102.0 573.7h.8M102.5 573.5h.8M98.8 583.7h.8M98.7 583.9h.8M104.8 535.3h.8M104.9 534.9h.8M104.9 534.5h.8M104.8 535.1h.8M105.6 530.8h.8M105.7 530.6h.8M106.5 530.6h.8M105.7 531.5h.8M106.4 531.5h.8M108.8 542.2h.8M107.9 533.9h.8M107.1 546.0h.8M104.8 537.2h.8M109.4 540.1h.8M109.3 540.2h.8M109.0 540.1h.8M109.0 540.4h.8M109.3 540.2h.8M108.9 523.9h.8M109.4 524.4h.8M109.5 523.5h.8M56.4 576.1h.8M56.3 575.7h.8M107.7 535.5h.8M107.7 534.8h.8M107.7 534.8h.8M109.2 540.6h.8M104.7 533.4h.8M104.7 532.8h.8M104.9 533.1h.8M104.6 533.0h.8M105.5 533.4h.8M104.7 532.9h.8M106.7 526.2h.8M106.8 525.5h.8M106.7 526.0h.8M107.1 526.2h.8M99.8 586.7h.8M104.8 534.5h.8M105.1 533.6h.8M105.2 534.2h.8M104.9 534.4h.8M105.5 534.0h.8M103.0 584.5h.8M59.6 587.0h.8M60.4 587.2h.8M59.6 587.3h.8M103.8 577.0h.8M103.7 576.6h.8M103.6 576.9h.8M108.3 522.6h.8M108.3 523.3h.8M108.3 523.0h.8M107.8 522.7h.8M108.6 523.3h.8M105.4 538.4h.8M105.3 537.7h.8M105.2 537.7h.8M104.7 537.8h.8M107.4 522.7h.8M107.0 523.4h.8M107.9 533.4h.8M107.6 532.5h.8M108.3 532.9h.8M108.3 532.3h.8M108.3 532.1h.8M108.2 531.8h.8M108.5 531.7h.8M101.9 581.0h.8M102.6 581.1h.8M102.4 581.2h.8M101.7 581.4h.8M107.4 530.8h.8M106.8 530.9h.8M58.8 579.1h.8M59.5 578.7h.8M59.0 579.2h.8M58.7 579.3h.8M58.8 578.8h.8M56.9 577.3h.8M103.5 583.8h.8M103.3 584.3h.8M103.1 584.5h.8M108.6 535.9h.8M108.2 535.8h.8M107.7 536.0h.8M105.0 539.1h.8M105.4 538.6h.8M105.0 539.1h.8M105.1 539.3h.8M104.8 544.7h.8M105.0 545.1h.8M105.2 544.8h.8M105.2 545.1h.8M104.8 544.6h.8M60.0 587.7h.8M59.6 587.7h.8M60.4 588.0h.8M57.9 578.3h.8M58.2 577.9h.8M58.5 578.4h.8M105.8 525.1h.8M105.9 524.7h.8M106.3 525.2h.8M106.4 525.5h.8M106.1 524.9h.8M51.0 594.7h.8M50.8 594.6h.8M51.5 594.9h.8M107.9 525.5h.8M108.0 525.0h.8M107.9 524.7h.8M108.5 525.3h.8M101.9 585.6h.8M102.5 586.0h.8M101.0 582.0h.8M59.9 589.0h.8M60.1 588.9h.8M101.8 580.3h.8M101.9 580.3h.8M108.1 537.1h.8M108.4 537.3h.8M108.2 536.5h.8M108.2 537.2h.8M107.6 537.0h.8M103.4 574.7h.8M103.3 575.4h.8M102.7 574.9h.8M102.7 574.6h.8M103.2 575.0h.8M102.0 581.6h.8M102.6 581.7h.8M101.8 581.7h.8M106.6 532.4h.8M106.3 532.1h.8M106.1 532.2h.8M107.7 544.9h.8M108.4 545.4h.8M108.6 544.6h.8M108.0 544.7h.8M108.0 544.9h.8M108.3 544.7h.8M100.9 578.8h.8M101.5 579.0h.8M101.0 578.8h.8M101.0 578.8h.8M58.8 593.8h.8M107.9 524.4h.8M107.7 524.3h.8M102.7 578.9h.8M103.1 579.2h.8M103.1 579.1h.8M52.9 578.9h.8M52.6 579.0h.8M53.6 578.8h.8M53.6 578.6h.8M106.9 532.1h.8M52.3 581.8h.8M52.1 582.2h.8M100.6 582.7h.8M100.1 583.4h.8M100.3 582.7h.8M99.7 583.4h.8M100.3 582.7h.8M100.3 582.6h.8M99.7 586.0h.8M99.8 586.1h.8M99.7 586.3h.8M100.4 585.7h.8M100.0 585.9h.8M100.4 586.2h.8M106.8 533.0h.8M107.3 533.1h.8M107.4 533.2h.8M107.0 532.9h.8M106.8 533.5h.8M104.8 541.4h.8M105.6 541.4h.8M104.6 541.3h.8M107.4 524.5h.8M106.7 523.9h.8M106.8 523.9h.8M107.5 523.9h.8M107.6 523.9h.8M107.6 524.8h.8M106.7 525.1h.8M107.1 525.1h.8M107.6 525.2h.8M60.5 592.0h.8M60.3 591.6h.8M60.1 591.5h.8M59.6 591.7h.8M106.4 532.5h.8M105.9 532.5h.8M105.7 533.4h.8M106.2 534.1h.8M106.6 534.0h.8M101.3 576.1h.8M100.9 575.8h.8M101.2 576.3h.8M102.1 575.4h.8M101.8 574.8h.8M108.4 538.2h.8M107.6 538.4h.8M107.4 534.8h.8M106.8 535.4h.8M107.5 534.6h.8M105.0 541.9h.8M104.9 542.1h.8M58.8 579.7h.8M59.0 579.7h.8M59.0 580.0h.8M59.1 580.1h.8M59.3 580.2h.8M59.3 580.5h.8M105.1 544.1h.8M104.9 544.2h.8M106.3 534.7h.8M106.4 534.6h.8M105.8 535.3h.8M106.5 534.7h.8M104.8 542.6h.8M104.9 542.9h.8M104.7 543.4h.8M104.9 543.5h.8M104.7 543.0h.8M105.2 542.6h.8M101.4 585.9h.8M101.6 586.2h.8M51.5 584.4h.8M50.9 583.5h.8M51.3 584.1h.8M59.9 591.1h.8M60.5 591.1h.8M60.0 590.5h.8M60.5 591.0h.8M60.2 590.7h.8M60.1 591.3h.8M106.0 544.7h.8M105.9 545.4h.8M106.4 545.0h.8M106.1 545.2h.8M55.5 577.1h.8M55.3 577.4h.8M55.4 576.7h.8M54.9 577.0h.8M54.8 576.8h.8M55.1 576.5h.8M55.5 576.6h.8M56.8 596.3h.8M99.7 584.9h.8M100.2 585.2h.8M100.1 585.0h.8M100.1 585.2h.8M56.6 577.5h.8M56.4 577.0h.8M55.7 576.9h.8M56.5 577.3h.8M55.9 577.4h.8M55.8 577.1h.8M101.9 578.7h.8M101.8 578.8h.8M102.3 579.1h.8M102.5 579.3h.8M59.1 581.4h.8M59.4 581.2h.8M105.8 535.6h.8M105.7 535.7h.8M106.4 536.0h.8M106.2 535.6h.8M106.4 536.2h.8M100.3 584.1h.8M99.9 584.1h.8M102.6 583.3h.8M102.4 583.0h.8M101.8 583.5h.8M102.5 582.6h.8M102.1 583.2h.8M102.0 583.0h.8M101.0 577.8h.8M101.3 578.4h.8M101.6 578.5h.8M54.0 577.6h.8M54.1 578.1h.8M53.7 578.2h.8M54.0 578.3h.8M54.1 577.7h.8M103.6 578.4h.8M103.4 577.7h.8M102.9 577.6h.8M102.7 578.5h.8M102.9 577.5h.8M103.0 577.6h.8M107.3 536.2h.8M106.7 536.4h.8M106.8 535.6h.8M106.7 535.9h.8M107.1 535.6h.8M52.6 580.3h.8M53.4 580.5h.8M53.0 579.6h.8M103.5 576.3h.8M102.7 576.4h.8M103.0 576.4h.8M103.5 575.9h.8M103.6 576.2h.8M107.5 545.4h.8M107.2 545.1h.8M107.3 545.0h.8M106.6 545.1h.8M107.5 544.6h.8M101.9 585.1h.8M101.7 584.7h.8M101.9 584.6h.8M102.2 584.7h.8M101.9 584.5h.8M102.3 584.8h.8M57.1 577.8h.8M57.1 578.0h.8M57.5 578.0h.8M101.1 576.6h.8M101.1 577.0h.8M101.5 576.6h.8M101.6 576.9h.8M100.9 577.3h.8M107.7 538.5h.8M107.8 538.6h.8M108.4 538.9h.8M49.9 592.6h.8M50.3 592.7h.8M108.1 544.2h.8M58.0 594.9h.8M58.4 595.1h.8M57.7 594.8h.8M58.8 581.6h.8M59.2 582.3h.8M59.3 581.7h.8M59.1 582.0h.8M58.8 582.2h.8M58.9 582.0h.8M101.3 582.6h.8M100.9 582.5h.8M100.8 583.5h.8M101.3 583.2h.8M101.4 582.8h.8M57.6 579.4h.8M57.9 578.6h.8M58.6 579.5h.8M106.4 537.2h.8M105.8 536.6h.8M106.6 536.6h.8M106.6 537.4h.8M105.8 536.9h.8M106.5 536.5h.8M105.6 537.4h.8M58.6 583.5h.8M58.9 583.1h.8M58.8 583.4h.8M58.8 583.1h.8M59.4 583.0h.8M58.7 583.1h.8M59.5 584.2h.8M103.3 576.6h.8M102.8 577.3h.8M103.4 577.1h.8M102.5 583.9h.8M101.8 583.7h.8M102.5 584.4h.8M101.7 584.2h.8M107.0 537.2h.8M53.5 596.1h.8M53.1 595.7h.8M102.4 576.4h.8M102.0 576.0h.8M101.6 576.2h.8M101.7 576.1h.8M101.7 575.7h.8M101.8 575.9h.8M102.0 576.1h.8M102.3 576.3h.8M101.0 585.3h.8M101.2 585.4h.8M100.9 585.1h.8M100.7 585.2h.8M59.0 585.4h.8M59.4 585.1h.8M102.3 578.0h.8M102.4 578.5h.8M102.1 577.9h.8M102.6 577.6h.8M105.6 537.9h.8M105.8 538.5h.8M105.7 538.2h.8M106.3 538.0h.8M108.0 539.5h.8M107.9 539.8h.8M108.3 539.7h.8M108.2 542.9h.8M108.0 542.9h.8M108.6 543.0h.8M108.4 543.3h.8M107.8 542.8h.8M107.8 543.1h.8M108.6 542.7h.8M108.2 542.9h.8M108.1 543.3h.8M105.8 543.6h.8M106.5 544.2h.8M101.0 584.5h.8M101.0 584.3h.8M100.7 583.6h.8M101.3 584.0h.8M53.4 581.1h.8M53.4 581.3h.8M53.3 581.3h.8M52.7 581.0h.8M108.5 541.1h.8M108.2 541.1h.8M108.6 540.7h.8M108.5 541.5h.8M108.2 541.2h.8M108.4 540.8h.8M108.0 540.6h.8M107.9 542.0h.8M108.5 542.3h.8M107.7 542.3h.8M106.8 538.0h.8M106.8 537.7h.8M106.9 538.0h.8M50.0 588.4h.8M50.1 588.1h.8M49.7 587.7h.8M106.2 538.6h.8M105.9 539.2h.8M105.6 539.3h.8M106.0 538.8h.8M106.5 539.3h.8M106.2 539.3h.8M102.5 577.1h.8M102.4 577.2h.8M54.6 579.2h.8M54.3 579.3h.8M53.9 579.0h.8M106.0 541.4h.8M106.0 540.7h.8M106.1 541.4h.8M105.7 541.1h.8M105.8 541.1h.8M106.5 539.5h.8M106.1 540.2h.8M106.4 539.8h.8M105.6 540.3h.8M105.9 542.1h.8M105.6 543.3h.8M105.9 542.7h.8M106.5 542.6h.8M55.8 577.5h.8M56.2 577.8h.8M56.2 577.9h.8M56.4 577.8h.8M56.2 577.9h.8M54.7 578.2h.8M55.0 577.8h.8M55.4 578.0h.8M55.0 577.7h.8M107.4 544.0h.8M107.4 543.7h.8M106.7 544.5h.8M58.8 592.8h.8M58.8 592.7h.8M59.2 592.7h.8M58.6 593.2h.8M58.8 592.9h.8M58.9 593.1h.8M58.0 580.0h.8M58.5 580.4h.8M58.2 579.7h.8M57.4 578.6h.8M57.4 579.5h.8M57.4 578.9h.8M106.8 539.1h.8M107.4 539.4h.8M106.8 538.5h.8M107.0 538.7h.8M107.2 539.4h.8M58.8 586.5h.8M59.3 586.2h.8" stroke="#4968eb" stroke-width=".8" fill="none"/>
<path d="M106.7 543.1h.8M107.0 542.6h.8M106.7 543.3h.8M106.8 542.9h.8M107.3 543.5h.8M106.9 543.4h.8M106.7 542.9h.8M106.8 543.1h.8M107.1 540.4h.8M106.9 540.1h.8M107.2 540.4h.8M106.9 540.3h.8M56.2 595.7h.8M55.7 595.8h.8M56.0 595.6h.8M56.3 596.0h.8M107.2 541.8h.8M106.6 540.6h.8M106.9 541.3h.8M107.4 540.7h.8M107.4 541.0h.8M107.2 540.6h.8M51.0 584.7h.8M51.2 585.0h.8M51.4 584.6h.8M51.0 584.6h.8M51.2 584.9h.8M51.1 585.2h.8M54.1 579.9h.8M54.5 580.3h.8M54.1 580.3h.8M57.8 581.0h.8M58.2 581.1h.8M58.2 581.1h.8M58.0 580.9h.8M56.4 578.9h.8M56.0 578.6h.8M54.6 579.1h.8M54.8 578.8h.8M55.4 579.4h.8M55.0 579.0h.8M52.8 582.2h.8M53.2 582.2h.8M52.9 582.0h.8M50.4 592.2h.8M50.2 592.0h.8M50.5 592.4h.8M57.1 579.6h.8M56.6 579.9h.8M57.6 580.4h.8M57.2 580.3h.8M57.5 579.9h.8M54.2 596.4h.8M53.8 595.5h.8M59.1 586.8h.8M58.9 587.4h.8M58.3 581.7h.8M58.0 582.4h.8M58.1 582.0h.8M58.1 582.0h.8M51.7 594.7h.8M52.0 594.7h.8M52.6 594.5h.8M52.0 595.2h.8M51.9 595.4h.8M54.4 581.0h.8M53.8 581.5h.8M54.5 580.9h.8M53.8 581.2h.8M53.9 581.2h.8M54.3 580.7h.8M57.6 583.0h.8M58.2 582.9h.8M58.3 583.3h.8M58.3 582.7h.8M51.0 594.0h.8M51.5 593.6h.8M51.5 594.4h.8M51.2 593.8h.8M51.1 594.0h.8M55.4 580.2h.8M55.3 580.5h.8M55.3 580.1h.8M55.2 580.3h.8M55.6 579.6h.8M54.8 579.7h.8M55.9 579.7h.8M55.8 579.7h.8M55.5 596.4h.8M55.2 595.7h.8M54.6 595.7h.8M55.4 595.5h.8M54.6 596.3h.8M55.5 595.8h.8M54.9 595.6h.8M55.4 595.8h.8M57.9 594.4h.8M57.6 594.1h.8M58.2 593.8h.8M58.1 593.8h.8M57.1 581.4h.8M56.7 581.1h.8M58.9 591.8h.8M58.0 584.2h.8M57.9 583.8h.8M57.8 583.8h.8M58.3 583.6h.8M58.4 584.0h.8M57.8 583.7h.8M59.5 587.8h.8M58.8 588.4h.8M59.2 587.9h.8M59.2 587.9h.8M59.1 588.0h.8M57.6 594.9h.8M57.6 595.2h.8M57.6 595.5h.8M57.4 594.7h.8M56.0 580.5h.8M56.1 580.6h.8M56.5 581.0h.8M56.2 580.5h.8M55.8 580.6h.8M56.3 580.7h.8M56.2 581.1h.8M56.3 580.7h.8M56.6 581.2h.8M55.3 580.6h.8M54.8 580.6h.8M54.7 580.7h.8M57.5 582.2h.8M57.4 582.2h.8M57.1 582.0h.8M49.8 591.3h.8M50.6 590.8h.8M59.0 588.7h.8M59.5 588.5h.8M59.0 589.3h.8M50.0 589.6h.8M50.1 590.1h.8M53.8 581.9h.8M53.7 581.7h.8M59.5 591.4h.8M55.6 581.6h.8M56.5 582.1h.8M56.6 581.5h.8M56.2 581.6h.8M58.3 585.1h.8M58.2 585.5h.8M58.6 589.7h.8M58.7 590.3h.8M59.1 590.0h.8M58.9 589.5h.8M59.4 590.0h.8M58.8 589.5h.8M58.6 590.3h.8M57.1 582.5h.8M57.5 583.0h.8M57.2 582.5h.8M57.0 582.5h.8M57.0 582.5h.8M57.0 582.9h.8M56.9 582.5h.8M56.9 583.2h.8M55.2 581.7h.8M54.9 581.9h.8M55.6 582.0h.8M55.0 581.7h.8M52.5 584.0h.8M52.6 583.8h.8M52.2 583.6h.8M51.8 583.6h.8M51.8 583.8h.8M52.3 584.0h.8M52.2 583.8h.8M52.8 583.3h.8M52.6 583.1h.8M53.2 583.1h.8M53.3 583.3h.8M53.1 582.8h.8M55.7 583.3h.8" stroke="#375ae8" stroke-width=".8" fill="none"/>
<path d="M56.8 583.5h.8M57.6 584.1h.8M57.4 583.8h.8M57.4 583.6h.8M55.4 583.3h.8M55.1 582.6h.8M54.9 582.8h.8M57.7 585.7h.8M58.0 586.4h.8M58.2 585.5h.8M58.4 586.1h.8M58.1 586.0h.8M54.0 582.9h.8M54.0 583.1h.8M53.9 582.9h.8M53.8 582.6h.8M53.7 582.8h.8M54.3 582.8h.8M54.1 583.3h.8M54.4 583.4h.8M54.3 582.7h.8M53.1 594.7h.8M57.6 592.9h.8M58.2 593.2h.8M57.8 592.9h.8M58.1 593.4h.8M56.4 594.7h.8M56.1 594.6h.8M56.3 584.4h.8M56.0 583.7h.8M56.0 584.1h.8M50.6 587.3h.8M51.2 586.8h.8M50.6 586.8h.8M50.7 587.1h.8M50.8 593.4h.8M51.3 592.8h.8M51.1 593.3h.8M51.4 593.2h.8M51.3 593.0h.8M57.1 585.2h.8M57.2 585.4h.8M56.9 584.9h.8M57.2 584.6h.8M57.3 585.1h.8M57.1 585.4h.8M56.9 584.5h.8M52.4 585.1h.8M52.6 585.1h.8M52.4 585.3h.8M51.9 584.6h.8M52.0 584.5h.8M52.0 585.3h.8M52.2 585.0h.8M56.7 594.2h.8M57.1 594.5h.8M57.3 593.6h.8M57.1 593.6h.8M57.6 594.3h.8M58.5 586.9h.8M58.1 586.9h.8M58.1 586.9h.8M58.0 586.8h.8M57.7 586.7h.8M53.5 584.2h.8M52.8 583.6h.8M53.1 584.5h.8M52.7 584.1h.8M53.6 584.5h.8M52.9 583.5h.8M53.3 583.8h.8M53.3 583.9h.8M55.0 583.8h.8M55.0 583.7h.8M52.4 594.1h.8M51.8 594.1h.8M51.8 594.0h.8M52.5 593.9h.8M54.4 595.5h.8M54.4 595.3h.8M53.9 595.1h.8M53.9 594.8h.8" stroke="#3177e5" stroke-width=".8" fill="none"/>
<path d="M55.3 595.4h.8M54.9 594.6h.8M55.5 595.0h.8M54.8 595.0h.8M55.3 595.3h.8M55.6 594.9h.8M54.8 595.3h.8M54.7 595.0h.8M55.3 595.2h.8M55.3 595.3h.8M54.6 584.2h.8M53.8 584.3h.8M53.7 584.2h.8M54.3 584.0h.8M54.0 583.9h.8M53.8 584.1h.8M53.7 584.4h.8M58.5 592.1h.8M58.4 592.2h.8M58.5 592.0h.8M57.7 592.1h.8M58.0 592.4h.8M57.9 587.8h.8M58.5 588.2h.8M58.3 587.6h.8M56.1 585.1h.8M56.3 584.5h.8M56.2 585.3h.8M55.9 584.7h.8M51.1 588.2h.8M51.2 588.2h.8M51.0 588.5h.8M51.3 587.8h.8M50.9 588.2h.8M51.3 587.9h.8M57.0 586.4h.8M56.7 586.3h.8M57.2 585.6h.8M57.3 586.2h.8M56.8 585.8h.8M57.1 586.1h.8M56.9 586.5h.8M57.4 585.6h.8M57.4 585.7h.8M51.2 592.0h.8M51.0 592.4h.8M51.0 591.9h.8M51.2 591.8h.8M51.5 592.1h.8M51.2 591.5h.8M51.3 591.6h.8M51.1 591.5h.8M50.8 592.3h.8M51.0 592.5h.8M58.3 588.7h.8M57.9 588.7h.8M58.1 590.6h.8M57.9 591.0h.8M51.9 586.4h.8M51.8 585.7h.8M52.3 585.6h.8M51.8 585.9h.8M52.0 585.7h.8M52.1 586.1h.8M51.8 586.5h.8M57.8 589.7h.8M57.7 590.3h.8M57.8 590.1h.8M58.0 590.0h.8M57.9 590.2h.8M58.0 589.8h.8M53.1 585.4h.8M53.0 585.4h.8M53.4 585.0h.8M52.7 584.7h.8M52.7 584.9h.8M52.9 584.7h.8M53.2 585.0h.8" stroke="#2b94e2" stroke-width=".8" fill="none"/>
<path d="M54.8 585.2h.8M55.1 584.7h.8M54.6 585.0h.8M55.4 584.7h.8M54.9 585.0h.8M55.5 584.9h.8M55.2 585.0h.8M55.2 585.3h.8M55.5 585.3h.8M54.7 584.8h.8M55.6 594.5h.8M56.2 593.5h.8M56.1 593.5h.8M56.4 594.5h.8M56.3 594.5h.8M51.1 588.8h.8M51.4 589.3h.8M56.9 593.4h.8M56.7 592.5h.8M57.0 593.1h.8M56.7 593.3h.8M57.3 592.8h.8M54.5 585.3h.8M53.7 584.8h.8M53.7 585.1h.8M54.1 585.3h.8M54.2 585.0h.8M54.5 585.3h.8M54.3 584.8h.8M51.1 591.5h.8M51.4 590.5h.8M52.7 594.3h.8M53.0 594.3h.8M53.3 594.0h.8M53.5 593.6h.8M53.4 594.4h.8M53.5 593.9h.8M51.3 589.9h.8M51.3 589.9h.8M50.8 589.9h.8M51.1 589.6h.8M50.7 589.9h.8M50.9 590.3h.8M51.3 589.8h.8M50.8 589.9h.8M51.6 589.8h.8M51.1 589.8h.8M51.1 589.7h.8M51.1 590.4h.8M51.1 589.8h.8M51.5 590.1h.8M57.1 587.3h.8M57.1 587.1h.8M57.5 587.3h.8M57.0 587.0h.8M56.8 587.0h.8M57.0 586.7h.8M57.4 586.7h.8M51.7 593.1h.8M51.9 593.3h.8M52.5 592.6h.8M51.7 593.0h.8M51.9 592.7h.8M56.0 586.0h.8M56.1 586.4h.8" stroke="#2badd3" stroke-width=".8" fill="none"/>
<path d="M51.9 587.2h.8M52.2 587.3h.8M52.6 587.3h.8M52.2 587.5h.8M51.8 586.7h.8M52.6 587.4h.8M51.7 587.0h.8M52.3 587.1h.8M55.2 593.6h.8M55.3 593.5h.8M54.7 594.0h.8M55.4 593.6h.8M54.8 593.6h.8M54.8 594.5h.8M54.4 594.3h.8M53.8 594.3h.8M53.8 594.5h.8M53.6 594.1h.8M54.2 593.9h.8M54.4 594.0h.8M54.3 594.5h.8M53.7 593.5h.8M54.2 594.3h.8M53.1 585.7h.8M52.9 585.6h.8M52.7 585.5h.8M53.3 585.8h.8M52.8 586.1h.8M53.4 586.4h.8M52.6 585.6h.8M56.8 592.3h.8M57.2 591.9h.8M56.9 592.1h.8M56.6 591.8h.8M57.1 592.1h.8M57.3 592.3h.8M57.1 592.3h.8M56.6 591.6h.8M56.7 592.3h.8M57.5 592.0h.8M57.6 592.0h.8M56.7 588.1h.8M57.1 587.9h.8M57.5 587.5h.8M56.6 588.4h.8M57.1 588.5h.8M57.5 588.1h.8M54.6 586.2h.8M54.8 586.0h.8M55.2 585.6h.8M55.6 586.1h.8M55.3 586.2h.8M55.2 586.3h.8M55.5 586.4h.8" stroke="#37bba2" stroke-width=".8" fill="none"/>
<path d="M54.6 585.6h.8M54.1 585.9h.8M54.2 586.0h.8M54.0 586.1h.8M55.9 592.9h.8M56.0 593.5h.8M56.1 592.7h.8M56.1 592.9h.8M56.4 593.1h.8M56.4 593.3h.8M56.0 592.7h.8M52.2 592.2h.8M52.0 592.5h.8M51.8 592.4h.8M51.9 591.8h.8M52.0 591.6h.8M52.0 591.6h.8M52.3 591.8h.8M52.5 592.1h.8M51.7 591.8h.8M51.9 587.6h.8M52.5 587.6h.8M52.1 588.3h.8M52.4 588.2h.8M52.1 588.1h.8M52.0 587.7h.8M52.2 588.5h.8M52.3 588.1h.8M51.7 588.4h.8M52.1 588.1h.8M52.4 588.0h.8M52.4 588.4h.8M52.1 587.7h.8M51.8 588.4h.8M51.9 587.9h.8M57.1 589.4h.8M56.9 589.4h.8M57.3 588.8h.8M57.4 588.8h.8M56.6 589.5h.8M56.8 589.2h.8M56.7 589.5h.8M57.6 589.3h.8M57.3 588.7h.8M57.0 588.7h.8M56.8 590.6h.8M56.9 590.9h.8M57.3 591.4h.8M56.7 590.6h.8M57.1 591.4h.8M57.1 590.7h.8M56.6 591.5h.8M57.0 590.8h.8M57.4 590.8h.8M56.3 586.6h.8M56.5 587.3h.8M56.4 586.5h.8M55.7 587.4h.8M55.9 586.7h.8M55.7 587.4h.8M55.9 586.9h.8M55.9 586.9h.8M55.8 587.2h.8M53.6 593.1h.8M53.4 592.5h.8M52.6 592.7h.8M52.8 593.2h.8M53.3 592.6h.8M52.7 592.9h.8M53.0 593.3h.8M53.6 593.2h.8M53.3 593.3h.8M53.1 593.4h.8M52.7 592.8h.8M52.7 592.5h.8M53.4 593.2h.8" stroke="#42c971" stroke-width=".8" fill="none"/>
<path d="M56.8 589.5h.8M57.0 590.3h.8M56.7 590.1h.8M57.4 589.8h.8M57.3 590.2h.8M56.7 589.7h.8M57.2 589.7h.8M57.2 590.2h.8M56.9 589.5h.8M56.7 589.5h.8M53.0 586.5h.8M53.2 587.4h.8M52.8 587.0h.8M52.7 586.6h.8M53.1 587.2h.8M53.2 587.0h.8M53.6 586.6h.8M53.4 587.2h.8M52.6 586.8h.8M51.7 589.3h.8M51.9 589.4h.8M52.1 588.7h.8M51.6 588.8h.8M52.0 589.2h.8M51.8 588.8h.8M52.2 588.6h.8M51.7 588.9h.8M52.0 589.2h.8M52.4 588.8h.8M52.2 591.0h.8M52.3 591.4h.8M52.4 590.8h.8M52.6 591.4h.8M51.7 590.7h.8M52.2 591.5h.8M52.2 591.4h.8M51.8 591.4h.8M51.9 591.2h.8M52.3 591.1h.8M52.3 591.3h.8M52.0 590.7h.8M54.7 593.1h.8M55.4 593.3h.8M55.2 592.8h.8M55.4 593.4h.8M55.0 593.2h.8M54.9 592.5h.8M55.3 592.5h.8M54.8 593.4h.8M55.0 592.6h.8M54.9 593.4h.8M54.9 593.3h.8" stroke="#6ed255" stroke-width=".8" fill="none"/>
<path d="M52.0 589.8h.8M52.5 590.0h.8M51.9 590.1h.8M52.2 589.5h.8M51.8 589.6h.8M52.1 590.4h.8M52.2 590.3h.8M51.7 589.6h.8M52.0 590.5h.8M52.3 590.3h.8M53.7 593.2h.8M54.2 592.8h.8M54.1 592.6h.8M53.6 592.7h.8M53.7 593.2h.8M54.2 592.7h.8M53.6 593.4h.8M54.2 593.0h.8M53.9 592.9h.8M54.3 592.7h.8M53.9 592.5h.8M53.7 592.6h.8M54.2 592.8h.8M54.2 592.8h.8M54.4 592.6h.8M54.3 592.8h.8M55.4 587.3h.8M54.7 586.8h.8M55.5 587.0h.8M54.7 587.3h.8M54.8 586.6h.8M55.0 586.7h.8M54.9 586.9h.8M55.0 586.6h.8M54.7 586.6h.8M55.3 587.1h.8M54.9 586.6h.8M55.0 586.6h.8M55.6 586.7h.8M53.9 587.3h.8M54.3 587.1h.8M53.9 586.5h.8M54.3 586.7h.8M54.5 587.4h.8M54.3 587.0h.8M54.5 586.5h.8M54.0 586.8h.8M54.5 587.4h.8M54.5 586.9h.8M53.8 587.2h.8M54.0 586.8h.8M54.5 587.4h.8M54.3 586.6h.8M53.8 586.6h.8M53.9 587.1h.8M54.1 586.7h.8M56.3 591.6h.8M55.6 591.9h.8M56.5 592.3h.8M55.7 592.5h.8M56.1 592.3h.8M55.6 591.9h.8M56.5 592.2h.8M56.5 592.2h.8M56.3 591.8h.8M55.9 592.3h.8M56.4 592.3h.8M56.5 592.3h.8M56.1 592.2h.8M56.4 588.1h.8M56.1 587.7h.8M55.6 587.6h.8M56.1 588.1h.8M56.3 587.7h.8M56.1 588.3h.8M55.9 587.7h.8M56.3 588.4h.8M55.8 587.5h.8M56.1 587.8h.8M55.9 588.0h.8M56.2 587.6h.8M56.1 588.1h.8M56.3 588.3h.8M56.1 587.7h.8M55.9 587.9h.8M56.2 588.5h.8M56.0 588.4h.8" stroke="#a7da42" stroke-width=".8" fill="none"/>
<path d="M53.0 591.6h.8M52.9 591.7h.8M52.9 592.0h.8M53.4 591.5h.8M53.4 592.4h.8M53.0 592.3h.8M53.4 591.6h.8M53.0 591.9h.8M52.8 592.0h.8M53.5 592.0h.8M53.2 588.3h.8M52.9 588.4h.8M52.9 588.1h.8M53.1 588.0h.8M52.9 588.1h.8M52.9 588.0h.8M53.4 588.3h.8M53.4 587.9h.8M53.6 588.0h.8M53.0 588.0h.8M56.5 589.2h.8M56.4 589.1h.8M55.8 588.6h.8M56.0 588.9h.8M55.9 589.2h.8M56.2 589.0h.8M56.4 589.3h.8M56.1 588.5h.8M55.9 589.5h.8" stroke="#d8db31" stroke-width=".8" fill="none"/>
<path d="M56.2 591.1h.8M55.9 590.8h.8M55.8 590.6h.8M56.0 591.5h.8M56.4 590.9h.8M56.5 591.3h.8M56.1 591.0h.8M55.7 591.3h.8M56.6 591.4h.8M55.9 591.3h.8M56.3 590.6h.8M56.1 590.5h.8M55.9 590.4h.8M56.1 589.7h.8M56.3 589.9h.8M55.6 590.2h.8M55.8 590.0h.8M55.7 589.5h.8M56.5 589.9h.8M56.3 590.3h.8M56.5 590.5h.8M55.7 589.8h.8M56.0 590.3h.8M55.7 589.7h.8M56.1 590.2h.8M56.5 590.4h.8M56.1 590.0h.8M56.1 590.1h.8M55.4 588.5h.8M55.6 588.4h.8M55.2 588.2h.8M54.9 587.8h.8M54.8 588.5h.8M54.8 588.3h.8M55.2 588.3h.8M54.7 588.5h.8M55.1 588.0h.8M55.3 587.7h.8M54.8 588.3h.8M55.5 587.7h.8M54.7 588.5h.8M55.6 588.5h.8M54.8 588.1h.8M54.7 588.0h.8M55.0 587.9h.8M54.7 591.8h.8M54.8 592.4h.8M55.3 592.4h.8M55.2 592.4h.8M55.0 592.2h.8M54.6 591.7h.8M54.8 592.2h.8M54.6 591.5h.8M54.8 591.9h.8M54.9 592.4h.8M55.0 592.4h.8M55.4 592.3h.8M55.0 591.6h.8M54.9 592.1h.8M55.6 592.1h.8M55.0 592.0h.8M54.7 592.2h.8M55.5 591.6h.8M52.7 588.9h.8M52.8 588.6h.8M53.1 588.6h.8M53.6 588.7h.8M52.7 589.2h.8M53.0 589.1h.8M53.3 588.9h.8M53.3 589.3h.8M52.8 588.8h.8M53.5 589.2h.8M53.0 589.5h.8M53.4 588.9h.8M53.2 589.5h.8M53.1 591.5h.8M52.7 590.7h.8M52.8 591.3h.8M53.2 591.0h.8M53.6 590.7h.8M53.0 590.8h.8M52.7 591.0h.8M52.8 591.5h.8M53.3 590.9h.8M53.4 590.5h.8M53.2 590.5h.8M54.5 587.7h.8M54.2 587.7h.8M53.7 587.6h.8M53.6 587.8h.8M54.0 587.5h.8M54.0 588.0h.8M53.7 588.2h.8M53.9 587.6h.8M54.0 588.5h.8M54.3 587.9h.8M54.3 588.4h.8M53.8 588.2h.8M54.5 587.9h.8M53.9 587.7h.8M54.5 587.5h.8M54.2 588.4h.8M54.2 587.8h.8M54.4 587.8h.8M54.5 588.5h.8M53.6 587.6h.8M53.8 588.2h.8M53.7 588.3h.8M54.5 588.1h.8M54.0 588.0h.8M53.6 587.8h.8M54.0 592.1h.8M54.2 592.4h.8M54.4 592.0h.8M54.1 591.9h.8M53.9 591.6h.8M54.4 592.3h.8M53.8 591.9h.8M53.9 591.6h.8M54.3 592.4h.8M53.9 592.3h.8M54.2 592.3h.8M53.9 592.3h.8M54.2 592.2h.8M54.3 592.0h.8M54.3 592.2h.8M54.2 592.4h.8M53.7 592.0h.8M54.2 591.6h.8" stroke="#e3ba2c" stroke-width=".8" fill="none"/>
<path d="M53.4 590.5h.8M52.7 590.2h.8M53.0 589.7h.8M53.6 589.9h.8M52.9 589.7h.8M53.6 589.7h.8M53.5 590.3h.8M53.2 589.6h.8M53.1 589.7h.8M53.6 589.6h.8M53.4 590.4h.8M52.9 589.6h.8M52.7 589.7h.8M53.2 590.0h.8M53.2 590.2h.8M52.8 590.3h.8M53.6 590.4h.8M53.1 589.8h.8M53.3 590.4h.8M53.2 590.5h.8M52.9 589.6h.8M53.5 589.7h.8M53.3 590.1h.8M53.4 590.2h.8" stroke="#ef9828" stroke-width=".8" fill="none"/>
<path d="M55.3 589.1h.8M55.5 589.0h.8M55.0 589.0h.8M55.3 589.2h.8M54.7 589.2h.8M55.1 589.0h.8M54.8 589.4h.8M55.6 589.2h.8M55.1 588.9h.8M54.7 589.4h.8M54.7 589.4h.8M55.3 588.7h.8M55.4 589.4h.8M55.6 588.5h.8M55.3 588.6h.8M54.9 589.0h.8M54.7 589.3h.8M55.4 588.5h.8M55.2 589.3h.8M55.6 590.6h.8M54.9 591.3h.8M54.7 590.9h.8M54.8 591.5h.8M55.6 590.8h.8M54.7 590.5h.8M54.9 590.5h.8M55.4 590.6h.8M54.7 591.3h.8M54.8 590.6h.8M54.8 590.8h.8M55.0 590.8h.8M55.5 590.6h.8M54.9 591.3h.8M55.2 591.1h.8M54.6 590.6h.8M55.1 590.8h.8M55.6 591.0h.8M55.3 591.0h.8M55.2 591.4h.8M54.7 591.3h.8M54.7 590.6h.8M55.0 591.4h.8M54.8 590.6h.8M55.3 590.7h.8M55.3 591.1h.8M54.0 589.4h.8M54.5 589.0h.8M54.3 589.3h.8M53.8 589.1h.8M54.0 589.4h.8M53.8 588.6h.8M54.2 589.1h.8M53.8 589.1h.8M54.2 589.0h.8M54.0 589.1h.8M53.9 588.9h.8M54.5 589.1h.8M54.5 588.8h.8M54.1 588.6h.8M54.4 588.7h.8M53.7 588.6h.8M53.8 590.5h.8M54.1 590.7h.8M54.3 591.3h.8M53.7 590.7h.8M54.1 590.6h.8M54.4 591.0h.8M54.1 591.3h.8M54.2 590.8h.8M54.2 591.3h.8M54.5 590.9h.8M54.5 590.7h.8M54.3 591.1h.8M54.3 590.7h.8M54.0 590.6h.8M54.1 590.5h.8M54.1 590.7h.8M53.8 590.6h.8M53.9 590.8h.8M53.8 591.0h.8M54.1 590.5h.8M53.9 590.8h.8M54.6 590.6h.8M53.9 590.8h.8M53.9 590.6h.8M54.4 591.1h.8M54.0 591.1h.8" stroke="#e85e23" stroke-width=".8" fill="none"/>
<path d="M55.5 589.6h.8M54.7 590.5h.8M55.0 590.2h.8M55.1 589.7h.8M55.5 590.2h.8M54.8 590.4h.8M54.8 590.0h.8M55.6 589.6h.8M55.0 589.9h.8M54.8 590.3h.8M54.7 590.3h.8M54.9 590.2h.8M55.3 590.2h.8M54.9 590.0h.8M54.9 590.4h.8M55.2 589.9h.8M54.7 589.8h.8M55.2 590.1h.8M55.0 589.6h.8M55.5 589.7h.8M53.7 590.4h.8M54.2 590.3h.8M54.6 590.0h.8M54.2 589.8h.8M53.7 590.3h.8M54.0 590.0h.8M54.1 590.3h.8M54.0 590.4h.8M54.4 589.6h.8M53.9 589.5h.8M54.5 590.5h.8M53.7 590.4h.8M54.6 589.6h.8M54.2 589.6h.8M53.8 590.0h.8M53.8 590.0h.8M53.6 590.5h.8M54.2 590.3h.8M54.4 590.4h.8M54.2 590.2h.8M53.7 589.5h.8" stroke="#e1231e" stroke-width=".8" fill="none"/>
<rect x="35.6" y="514.5" width="85.1" height="85.3" fill="none" stroke="#888" stroke-width="0.8"/>
<line x1="75.5" y1="514.5" x2="71.0" y2="599.8" stroke="#555" stroke-width="0.8"/>
<text x="91.9" y="556.3" font-size="6.6" font-weight="bold" text-anchor="middle">CD11b<tspan font-size="4.4" dy="-2.2">+</tspan></text>
<text x="91.9" y="563.8" font-size="6.6" text-anchor="middle" fill="#000" font-weight="bold">30.6%</text>
<text x="78.0" y="511.3" font-size="7.1" text-anchor="middle" fill="#000" font-weight="bold" textLength="25" lengthAdjust="spacingAndGlyphs">Control</text>
<path d="M111.0 622.7h.8M76.6 668.9h.8M98.2 650.2h.8M97.1 623.6h.8M76.5 631.5h.8M42.1 633.1h.8M112.5 635.1h.8M86.1 696.9h.8M118.9 648.9h.8M112.7 695.3h.8M90.0 636.4h.8M117.5 700.0h.8M88.7 625.1h.8M112.0 641.1h.8M115.4 673.2h.8M55.0 623.7h.8M84.4 645.8h.8M76.2 656.5h.8M74.1 661.8h.8M118.1 690.9h.8M57.0 630.7h.8M92.6 695.2h.8M69.8 657.6h.8M66.1 654.5h.8M60.4 640.4h.8M69.1 677.0h.8M106.7 662.3h.8M111.3 648.8h.8M89.6 643.0h.8M45.7 669.6h.8M97.4 631.4h.8M80.2 697.5h.8M93.3 630.4h.8M79.6 693.0h.8M98.3 697.2h.8M108.2 675.3h.8M91.9 646.5h.8M52.9 653.5h.8M71.4 683.8h.8M68.3 671.5h.8M65.0 639.8h.8M67.0 642.1h.8M41.6 698.2h.8M51.1 626.8h.8M67.2 697.7h.8M49.6 666.8h.8M106.2 654.8h.8M42.0 682.7h.8M107.0 651.5h.8M70.1 692.3h.8M64.9 700.8h.8M69.4 646.6h.8M55.6 664.2h.8M117.7 685.9h.8M51.8 646.8h.8M104.8 624.1h.8M54.5 647.1h.8M105.2 627.1h.8M97.6 640.4h.8M103.8 642.6h.8M83.4 633.5h.8M85.6 631.1h.8M73.8 649.5h.8M41.5 690.0h.8M92.5 687.9h.8M51.8 664.2h.8M71.1 694.9h.8M112.5 689.1h.8M69.1 701.2h.8M118.1 682.9h.8M109.2 689.6h.8M99.9 641.4h.8M72.3 647.5h.8M65.3 673.5h.8M113.8 685.7h.8M97.5 682.9h.8M95.0 679.6h.8M62.1 629.6h.8M76.7 683.9h.8M75.1 682.5h.8M63.7 631.4h.8M107.1 646.1h.8M55.3 639.9h.8M95.9 692.4h.8M106.8 644.5h.8M114.3 663.7h.8M96.7 644.5h.8M53.6 639.2h.8M110.6 664.4h.8M97.9 644.8h.8M105.7 670.0h.8M68.8 635.4h.8M66.9 688.6h.8M63.4 662.0h.8M49.7 634.9h.8M91.8 683.4h.8M95.5 688.5h.8M52.4 660.8h.8M115.0 660.4h.8M45.0 680.6h.8M60.8 651.1h.8M51.4 658.9h.8M100.2 701.8h.8M61.0 652.8h.8M90.1 670.7h.8M72.7 701.4h.8M99.3 701.1h.8M117.5 664.5h.8M104.1 676.6h.8M43.8 673.8h.8M61.8 667.4h.8M51.5 632.8h.8M103.7 688.2h.8M60.3 661.7h.8M86.5 671.5h.8M82.3 680.9h.8M95.2 690.6h.8M73.4 698.4h.8M46.9 625.6h.8M54.3 635.8h.8M48.0 625.6h.8M45.0 675.5h.8M57.3 670.6h.8M92.9 681.2h.8M104.3 678.3h.8M111.1 667.0h.8M104.8 685.0h.8M63.2 670.1h.8M42.9 686.6h.8M41.9 661.6h.8M40.9 665.1h.8M110.3 685.5h.8M83.5 680.8h.8M43.1 688.6h.8M118.5 678.7h.8M67.0 633.0h.8M118.6 634.7h.8M118.0 634.5h.8M75.6 689.1h.8M74.8 689.7h.8M61.3 662.5h.8M109.9 685.8h.8M104.8 687.3h.8M64.5 676.5h.8M52.0 672.3h.8M68.0 633.4h.8M72.7 699.5h.8M53.1 657.3h.8M110.9 666.6h.8M55.9 657.9h.8M48.8 673.2h.8M42.7 662.5h.8M41.6 664.5h.8M117.5 680.0h.8M58.4 666.5h.8M67.6 683.7h.8M61.9 668.9h.8M95.1 670.3h.8M117.1 661.6h.8M92.0 670.5h.8M66.2 685.1h.8M87.1 683.1h.8M50.3 671.0h.8M80.9 677.8h.8M116.9 679.1h.8M82.7 676.4h.8M117.6 662.6h.8M93.2 670.7h.8M91.7 680.1h.8M59.0 668.7h.8M55.6 659.6h.8M66.5 682.9h.8M51.8 671.4h.8M61.4 703.3h.8M53.6 633.9h.8M81.0 677.6h.8M58.1 667.2h.8M65.1 680.6h.8M65.4 680.4h.8M62.3 675.5h.8M49.6 673.8h.8M99.4 678.5h.8M48.5 676.3h.8M88.0 673.4h.8M88.6 683.5h.8M103.8 683.2h.8M46.0 682.3h.8M90.4 675.6h.8M102.3 670.8h.8M50.8 633.9h.8M103.7 671.8h.8M54.4 658.5h.8M45.0 687.7h.8M52.7 635.4h.8M59.3 671.1h.8M94.8 673.5h.8M60.0 673.4h.8M49.6 676.6h.8M102.8 674.0h.8M59.9 672.6h.8M98.5 670.8h.8M92.6 675.9h.8M44.7 696.3h.8M44.2 693.9h.8M85.1 677.3h.8M86.5 672.8h.8M64.6 686.5h.8M96.4 672.2h.8M46.8 685.0h.8M93.1 674.5h.8M58.5 672.9h.8M60.0 703.3h.8M89.7 677.2h.8M88.9 677.1h.8M97.2 672.3h.8M63.7 686.4h.8M63.1 686.3h.8M89.2 679.0h.8M88.6 680.4h.8M99.6 679.4h.8M48.2 679.7h.8M93.0 675.4h.8M93.1 674.8h.8M89.0 681.0h.8M88.4 680.8h.8M87.2 675.9h.8M87.3 674.5h.8M101.4 671.8h.8M99.6 681.6h.8M103.6 681.0h.8M102.8 681.1h.8M101.4 682.6h.8M65.2 690.9h.8M99.8 674.4h.8M59.4 676.6h.8M85.7 676.2h.8M85.0 675.1h.8M85.4 675.2h.8M56.1 674.4h.8M57.4 674.0h.8M61.9 677.0h.8M98.9 673.6h.8" stroke="#96a5f6" stroke-width=".8" fill="none"/>
<path d="M59.6 703.8h.8M101.8 680.3h.8M47.0 685.0h.8M100.9 673.3h.8M60.9 677.2h.8M64.4 688.9h.8M62.3 694.6h.8M100.4 681.4h.8M100.1 672.1h.8M99.8 680.0h.8M101.2 679.9h.8M99.9 673.4h.8M45.7 694.1h.8M62.1 689.2h.8M61.3 683.9h.8M62.4 691.9h.8M64.5 690.9h.8M46.7 691.8h.8M61.9 681.0h.8M64.4 690.2h.8M64.7 689.8h.8M63.3 691.7h.8M62.0 679.7h.8M48.1 682.4h.8M62.4 696.6h.8M62.4 690.6h.8M61.6 678.1h.8M62.7 680.4h.8M48.3 683.6h.8M52.2 676.8h.8M58.3 677.6h.8M61.6 679.2h.8M60.4 679.3h.8M61.3 699.4h.8M48.8 680.7h.8M61.7 694.1h.8M61.2 681.7h.8M61.2 681.7h.8M60.2 683.4h.8M60.2 682.0h.8M60.3 682.2h.8M46.8 697.4h.8M46.5 697.3h.8M60.1 684.6h.8M50.4 704.2h.8M51.3 678.0h.8M59.6 679.9h.8M46.5 696.8h.8M54.1 676.4h.8M53.8 675.9h.8M49.7 683.8h.8M49.7 683.3h.8M50.5 679.7h.8M52.8 676.9h.8M60.0 688.2h.8M58.0 679.0h.8M58.2 682.1h.8M58.5 680.8h.8M50.1 682.7h.8M50.3 682.4h.8M56.1 676.6h.8M56.7 675.9h.8M56.3 676.2h.8M61.0 696.2h.8M61.6 696.0h.8M50.3 680.9h.8M61.3 696.9h.8M61.6 696.9h.8M48.8 686.8h.8M48.4 687.8h.8M60.3 690.1h.8M51.3 679.0h.8M51.4 679.6h.8M53.6 678.7h.8M57.6 678.6h.8M57.6 678.0h.8M50.3 684.4h.8M60.4 693.3h.8M54.4 676.8h.8M60.4 691.5h.8M51.6 681.7h.8M47.9 701.4h.8M48.6 701.7h.8M57.7 682.1h.8M56.7 677.8h.8M55.8 677.1h.8M59.0 701.2h.8M47.6 692.0h.8M47.1 692.0h.8M51.1 679.9h.8M50.9 680.1h.8M51.3 680.5h.8M57.7 681.8h.8M57.4 679.9h.8M51.3 704.3h.8M51.8 703.9h.8M55.5 677.1h.8M52.1 680.0h.8M49.8 685.5h.8M50.4 685.0h.8M50.6 685.6h.8M59.7 684.9h.8M59.4 684.8h.8M54.1 678.8h.8M53.0 682.1h.8M53.1 682.5h.8M53.4 680.8h.8M60.6 695.3h.8M53.2 680.8h.8M47.4 693.7h.8M47.7 692.9h.8M47.5 693.2h.8M47.6 693.8h.8M47.7 694.9h.8M54.8 679.7h.8M48.3 687.9h.8M48.4 688.2h.8M55.0 678.6h.8M47.8 697.1h.8M56.6 682.4h.8M55.9 682.5h.8M56.1 679.7h.8M54.1 680.2h.8M58.8 685.9h.8M49.4 687.1h.8M49.8 685.8h.8M54.8 681.9h.8M56.2 680.2h.8M55.8 679.9h.8M50.5 702.9h.8M55.8 682.8h.8M59.0 686.9h.8M58.8 687.3h.8M57.3 684.7h.8M57.2 684.3h.8M57.6 684.1h.8" stroke="#768cf2" stroke-width=".8" fill="none"/>
<path d="M55.7 679.9h.8M55.7 680.0h.8M55.8 680.4h.8M55.5 681.6h.8M51.1 684.8h.8M51.3 685.7h.8M59.6 689.7h.8M55.4 682.9h.8M53.9 683.6h.8M48.6 689.2h.8M58.4 684.9h.8M56.2 684.4h.8M59.2 690.1h.8M48.7 690.6h.8M48.5 690.3h.8M53.8 684.3h.8M53.2 684.7h.8M59.8 698.1h.8M54.8 704.1h.8M57.4 685.0h.8M57.0 685.6h.8M59.0 694.1h.8M59.5 692.0h.8M59.6 692.2h.8M49.6 687.9h.8M52.2 685.5h.8M52.3 685.6h.8M54.2 684.5h.8M54.2 684.3h.8M54.1 684.4h.8M58.1 686.7h.8M58.4 686.6h.8M57.9 687.1h.8M57.8 687.8h.8M53.3 704.0h.8M58.6 688.0h.8M58.7 688.6h.8M57.6 686.3h.8M48.0 699.5h.8M48.7 695.4h.8M58.5 689.6h.8M53.3 685.5h.8M56.4 686.8h.8M56.5 686.5h.8M49.9 688.3h.8M50.3 688.6h.8M50.0 687.8h.8M49.4 689.4h.8M54.6 685.2h.8M54.2 685.8h.8M58.6 701.3h.8M57.1 687.6h.8M57.5 687.3h.8M48.2 698.2h.8M58.4 690.8h.8M58.3 690.0h.8M47.8 697.1h.8M48.7 697.5h.8M56.5 703.7h.8M55.7 686.2h.8M55.6 686.4h.8M55.5 686.5h.8M59.5 695.8h.8M57.6 688.2h.8M55.8 687.2h.8M49.7 690.5h.8M49.3 690.1h.8M49.8 690.4h.8M49.7 690.1h.8" stroke="#5c77ee" stroke-width=".8" fill="none"/>
<path d="M53.8 686.6h.8M53.0 686.6h.8M52.7 687.2h.8M51.9 687.5h.8M52.1 687.7h.8M58.5 691.0h.8M58.6 691.0h.8M54.2 686.0h.8M54.7 686.0h.8M53.8 686.5h.8M59.5 699.2h.8M59.1 699.3h.8M59.0 699.3h.8M56.8 688.9h.8M56.2 687.8h.8M56.3 688.6h.8M56.0 688.4h.8M49.2 692.2h.8M49.3 691.9h.8M49.5 692.2h.8M58.5 691.9h.8M58.8 692.2h.8M57.8 692.4h.8M58.5 692.2h.8M50.1 689.0h.8M58.1 692.9h.8M54.0 687.0h.8M53.7 687.4h.8M53.7 687.0h.8M53.7 687.8h.8M53.7 687.0h.8M53.1 687.8h.8M59.4 697.3h.8M49.7 693.1h.8M49.2 693.2h.8M55.4 688.2h.8M58.3 694.2h.8M52.1 688.5h.8M52.7 688.2h.8M57.0 690.5h.8M57.6 690.8h.8M59.0 698.2h.8M58.9 698.0h.8M59.4 698.5h.8M55.8 689.3h.8M56.2 689.3h.8M49.3 700.3h.8M49.4 700.2h.8M51.9 703.6h.8M54.3 688.6h.8M53.9 688.2h.8M54.5 688.3h.8M54.0 688.0h.8M49.7 693.9h.8M48.9 694.2h.8M50.2 689.8h.8M50.5 690.3h.8M50.5 690.6h.8M58.5 695.1h.8M51.1 688.9h.8M51.1 689.4h.8M55.4 688.8h.8M55.1 703.3h.8M55.5 703.1h.8M55.1 703.6h.8M54.8 702.8h.8M57.4 691.1h.8M57.8 691.6h.8" stroke="#4968eb" stroke-width=".8" fill="none"/>
<path d="M50.7 691.6h.8M50.5 691.1h.8M49.4 694.8h.8M49.0 695.0h.8M54.4 689.0h.8M54.0 689.2h.8M52.5 689.3h.8M52.6 689.0h.8M52.3 689.6h.8M52.4 689.5h.8M56.2 690.0h.8M56.4 690.3h.8M55.9 690.6h.8M56.7 690.0h.8M53.5 689.8h.8M52.8 689.5h.8M50.6 701.1h.8M50.4 700.8h.8M50.3 700.9h.8M48.8 699.7h.8M49.5 699.3h.8M49.1 699.6h.8M50.8 702.1h.8M51.3 702.1h.8M53.6 703.6h.8M52.8 702.8h.8M53.8 703.8h.8M53.8 703.0h.8M50.0 692.1h.8M50.8 692.5h.8M57.3 692.1h.8M57.4 692.7h.8M51.8 689.9h.8M51.3 690.5h.8M51.8 690.6h.8M50.9 690.6h.8M57.9 696.2h.8M58.3 696.1h.8M58.2 696.2h.8M49.5 696.2h.8M49.8 696.0h.8M54.4 702.8h.8M54.3 703.0h.8M54.3 703.2h.8M53.8 703.2h.8M57.6 701.5h.8M56.8 702.6h.8M56.3 702.0h.8M55.8 702.1h.8M55.9 702.4h.8M55.7 690.3h.8M54.9 690.1h.8M55.7 690.6h.8M49.2 698.2h.8M48.9 698.2h.8M49.7 698.0h.8M49.7 698.7h.8M52.2 690.5h.8M52.3 689.8h.8M52.2 690.4h.8M52.7 690.5h.8M56.4 690.9h.8M56.0 691.7h.8M56.4 691.4h.8M53.7 690.4h.8M53.1 690.3h.8M53.5 690.1h.8M49.8 692.8h.8M51.2 691.4h.8M51.3 691.3h.8" stroke="#375ae8" stroke-width=".8" fill="none"/>
<path d="M56.8 693.8h.8M57.1 694.3h.8M56.9 694.2h.8M56.8 694.0h.8M57.8 693.9h.8M58.0 699.6h.8M58.7 699.2h.8M57.9 697.7h.8M58.1 697.7h.8M52.1 690.8h.8M52.0 691.5h.8M52.4 691.6h.8M51.9 691.4h.8M55.0 690.8h.8M54.9 691.6h.8M51.5 692.7h.8M51.5 692.8h.8M51.5 692.1h.8M50.9 691.8h.8M50.4 694.6h.8M50.2 694.5h.8M50.2 699.8h.8M50.5 700.4h.8M50.7 700.8h.8M56.5 692.3h.8M56.4 692.4h.8M58.6 698.4h.8M58.3 698.5h.8M58.2 698.4h.8M57.8 698.7h.8M57.9 697.9h.8M57.8 695.5h.8M56.9 695.7h.8M57.8 695.2h.8M57.5 695.2h.8M52.6 702.1h.8M52.5 702.6h.8M52.0 702.7h.8M52.0 702.7h.8M54.5 691.2h.8M54.3 691.7h.8M54.2 691.8h.8M54.5 690.8h.8M54.8 691.1h.8M53.8 691.0h.8M54.4 691.6h.8M53.9 691.8h.8M54.7 691.7h.8M54.8 702.0h.8" stroke="#3177e5" stroke-width=".8" fill="none"/>
<path d="M51.6 701.5h.8M51.3 701.6h.8M51.3 701.1h.8M51.2 701.2h.8M56.5 693.0h.8M56.2 693.6h.8M56.3 693.5h.8M55.9 692.8h.8M56.5 693.3h.8M57.5 700.5h.8M57.3 700.7h.8M52.1 692.5h.8M51.8 692.7h.8M52.8 691.8h.8M51.4 693.2h.8M51.5 693.2h.8M51.8 693.0h.8M55.4 691.9h.8M55.1 692.0h.8M55.5 692.1h.8M55.1 692.7h.8M49.9 699.4h.8M49.9 699.5h.8M50.6 699.0h.8M56.6 701.5h.8M56.5 701.5h.8M56.6 701.6h.8M54.1 702.2h.8M54.6 702.4h.8M54.5 702.1h.8M54.1 702.2h.8M54.6 702.5h.8M53.9 702.2h.8M54.1 702.0h.8M53.5 692.1h.8M53.6 692.3h.8M53.3 692.1h.8M53.6 692.1h.8M50.2 696.6h.8M49.9 696.4h.8M50.5 696.2h.8M50.0 696.3h.8M50.3 695.9h.8M50.4 696.0h.8M54.0 692.7h.8M53.9 692.3h.8M53.8 692.6h.8" stroke="#2b94e2" stroke-width=".8" fill="none"/>
<path d="M56.1 694.3h.8M56.1 694.7h.8M56.4 694.3h.8M50.5 698.1h.8M50.4 698.7h.8M50.7 698.2h.8M50.1 698.2h.8M50.1 696.8h.8M50.7 697.3h.8M50.4 696.9h.8M51.3 694.1h.8M50.9 693.9h.8M51.3 694.7h.8M51.1 694.1h.8M51.5 694.7h.8M51.7 693.8h.8M51.2 694.1h.8M51.6 694.7h.8M55.4 693.2h.8M55.7 693.5h.8M55.1 693.7h.8M55.7 693.7h.8M54.8 693.1h.8M55.6 693.2h.8M55.1 693.3h.8M55.8 692.8h.8M56.9 697.4h.8M57.0 697.7h.8M57.1 697.8h.8M57.6 697.3h.8M57.1 697.3h.8M56.9 697.1h.8M52.4 693.8h.8M52.3 693.7h.8M52.5 693.6h.8M52.7 693.2h.8M52.0 693.6h.8M52.5 693.5h.8M57.5 698.8h.8M57.7 699.7h.8M57.3 699.5h.8M57.0 699.2h.8M57.3 699.5h.8M51.7 699.8h.8M51.2 700.8h.8M51.5 699.9h.8M51.8 700.2h.8M51.1 700.0h.8M56.8 695.7h.8M55.9 695.3h.8M52.7 701.1h.8M52.3 701.0h.8M52.6 700.8h.8M52.8 701.2h.8M52.8 701.4h.8" stroke="#2badd3" stroke-width=".8" fill="none"/>
<path d="M56.8 697.9h.8M57.1 698.4h.8M56.9 697.9h.8M57.4 698.2h.8M53.2 693.4h.8M53.7 693.2h.8M53.6 693.4h.8M54.3 693.1h.8M54.6 693.0h.8M54.7 693.6h.8M54.1 693.5h.8M54.4 693.2h.8M54.5 693.5h.8M54.9 701.1h.8M55.4 701.6h.8M51.4 695.2h.8M51.5 695.3h.8M51.5 695.2h.8M51.6 695.2h.8M50.9 695.4h.8M55.3 694.7h.8M55.6 694.1h.8M55.4 694.6h.8M55.4 694.6h.8M54.9 694.5h.8M55.1 694.5h.8M55.5 693.9h.8M55.8 694.4h.8M55.0 694.7h.8" stroke="#37bba2" stroke-width=".8" fill="none"/>
<path d="M55.9 700.5h.8M56.0 700.1h.8M56.0 700.5h.8M56.2 700.0h.8M56.4 699.9h.8M56.2 699.8h.8M56.7 699.9h.8M56.7 696.1h.8M56.1 696.0h.8M56.2 696.7h.8M51.6 699.8h.8M51.4 698.9h.8M51.8 699.5h.8M51.2 699.7h.8M51.7 699.3h.8M53.8 701.3h.8M53.3 700.9h.8M53.1 701.5h.8M53.0 701.0h.8M53.2 700.8h.8M53.3 701.4h.8M53.5 701.5h.8M52.9 701.5h.8M53.4 700.9h.8M52.1 694.2h.8M52.8 694.5h.8M52.4 694.2h.8M51.8 694.8h.8M52.1 694.3h.8M52.7 694.8h.8M52.7 694.0h.8M52.1 694.8h.8M52.6 694.2h.8M52.5 694.7h.8M54.5 701.5h.8M54.2 701.4h.8M54.4 701.4h.8M54.3 701.2h.8M54.3 701.3h.8M54.2 701.1h.8M53.8 701.5h.8M50.8 696.5h.8M51.4 696.1h.8M51.4 696.5h.8M51.4 696.0h.8M51.2 695.9h.8M51.0 696.5h.8M50.9 696.4h.8M51.0 696.4h.8M51.4 696.2h.8" stroke="#42c971" stroke-width=".8" fill="none"/>
<path d="M51.4 698.6h.8M51.0 698.8h.8M51.2 698.8h.8M51.4 698.2h.8M51.1 698.3h.8M51.1 697.9h.8M54.0 694.7h.8M54.2 694.8h.8M54.6 693.8h.8M54.1 694.2h.8M54.5 694.1h.8M54.7 694.2h.8M51.2 697.7h.8M51.0 697.2h.8M51.8 697.4h.8M51.3 697.6h.8M51.2 697.1h.8M51.6 697.0h.8M53.6 694.3h.8M53.6 693.9h.8M53.6 694.1h.8M53.1 694.1h.8M53.7 694.0h.8M53.2 694.4h.8M55.2 695.4h.8M55.3 695.1h.8M55.2 695.7h.8M55.3 695.5h.8M52.3 700.6h.8M52.7 700.8h.8M52.6 700.6h.8M52.4 700.2h.8M52.3 700.1h.8M56.3 696.9h.8M56.2 697.1h.8M56.5 697.2h.8M56.1 697.1h.8M56.1 697.5h.8M56.0 697.7h.8M56.6 697.1h.8" stroke="#6ed255" stroke-width=".8" fill="none"/>
<path d="M52.0 695.1h.8M52.7 695.4h.8M52.2 695.7h.8M52.7 695.3h.8M56.1 699.4h.8M56.1 699.1h.8M56.4 699.6h.8M56.4 699.1h.8M55.9 698.9h.8M56.4 699.8h.8M56.2 698.9h.8M56.1 699.8h.8M56.1 699.1h.8M56.8 699.4h.8M54.8 700.5h.8M55.7 700.6h.8M55.2 700.2h.8M55.4 700.0h.8M55.8 699.9h.8M55.5 700.2h.8M55.7 700.4h.8M55.8 699.9h.8M55.0 700.0h.8M55.3 700.0h.8M55.5 700.0h.8M55.2 699.9h.8M56.1 698.3h.8M56.7 698.2h.8M56.7 698.7h.8M56.7 698.7h.8M56.0 697.9h.8M56.6 698.8h.8M56.2 698.2h.8M56.8 698.2h.8M56.5 697.9h.8M56.8 698.4h.8" stroke="#a7da42" stroke-width=".8" fill="none"/>
<path d="M54.2 695.1h.8M53.8 694.8h.8M54.3 695.7h.8M54.8 695.5h.8M54.7 695.7h.8M54.2 695.7h.8M54.7 695.5h.8M54.8 695.3h.8M54.1 695.5h.8M53.9 695.3h.8M54.9 696.1h.8M55.4 696.0h.8M55.5 696.2h.8M55.6 696.5h.8M55.6 696.7h.8M55.1 695.8h.8M55.0 696.2h.8M55.2 696.0h.8M54.8 696.1h.8M52.8 700.1h.8M53.2 699.8h.8M53.0 700.3h.8M53.5 700.2h.8M53.6 700.2h.8M52.9 700.2h.8M53.4 700.5h.8M52.9 700.8h.8M52.8 700.5h.8M53.5 695.2h.8M52.9 695.7h.8M52.8 695.6h.8M53.4 695.5h.8M53.7 694.9h.8M52.9 695.1h.8M53.7 695.5h.8M53.0 695.2h.8M53.3 695.6h.8M52.5 699.5h.8M52.8 699.0h.8M51.9 699.2h.8M52.6 699.7h.8M52.3 699.4h.8M52.1 699.6h.8M52.3 698.8h.8M52.5 699.1h.8M52.3 699.1h.8M52.7 699.3h.8M52.2 698.9h.8M52.0 699.7h.8M52.6 699.1h.8M52.4 698.9h.8M51.8 696.1h.8M52.5 695.8h.8M52.4 696.8h.8M52.4 696.8h.8M52.4 695.9h.8M52.5 696.7h.8M52.6 696.5h.8M51.9 696.3h.8M52.4 696.4h.8M52.2 696.0h.8M54.2 700.2h.8M54.4 700.4h.8M54.2 700.7h.8M54.7 700.6h.8M54.6 700.2h.8M54.1 699.9h.8M54.3 699.9h.8M53.9 700.0h.8M54.1 700.8h.8M54.3 700.6h.8" stroke="#d8db31" stroke-width=".8" fill="none"/>
<path d="M52.4 697.9h.8M52.3 698.3h.8M52.7 697.9h.8M52.6 698.1h.8M52.0 697.8h.8M52.0 698.5h.8M52.3 697.7h.8M52.1 696.9h.8M52.3 697.0h.8M52.7 697.7h.8M52.5 697.4h.8M52.2 696.8h.8M52.4 697.4h.8M51.9 697.6h.8M51.8 697.4h.8M52.7 697.6h.8M52.6 697.3h.8M52.5 697.0h.8M55.0 696.9h.8M55.7 697.4h.8M55.1 697.8h.8M55.8 697.2h.8M55.0 697.5h.8M55.7 697.0h.8M55.6 697.7h.8M54.8 697.1h.8M55.7 697.2h.8M55.1 696.8h.8" stroke="#e3ba2c" stroke-width=".8" fill="none"/>
<path d="M54.7 696.0h.8M53.9 696.6h.8M53.9 696.6h.8M54.2 696.1h.8M54.1 696.1h.8M54.5 696.5h.8M54.2 696.0h.8M53.9 696.3h.8M54.5 696.4h.8M54.0 696.8h.8M53.9 696.4h.8M55.4 699.5h.8M55.7 699.5h.8M55.5 699.3h.8M55.8 699.3h.8M55.4 699.0h.8M55.4 699.0h.8M55.1 699.2h.8M55.5 699.3h.8M55.8 699.4h.8M55.4 698.9h.8M55.8 699.1h.8M55.6 699.7h.8M53.6 696.7h.8M53.6 695.9h.8M53.6 695.9h.8M52.9 695.8h.8M53.4 696.1h.8M53.4 695.9h.8M53.0 696.7h.8M53.7 696.7h.8M53.6 696.1h.8M53.6 696.5h.8M53.3 696.4h.8M53.1 696.4h.8M53.4 695.9h.8M53.3 696.0h.8M53.3 696.3h.8M53.3 696.6h.8M53.3 696.0h.8M53.4 699.7h.8M53.7 699.6h.8M53.4 699.5h.8M53.5 699.5h.8M53.2 699.5h.8M53.5 699.4h.8M53.7 699.1h.8M53.4 699.5h.8M53.7 699.5h.8M55.2 698.3h.8M55.5 698.0h.8M55.2 697.9h.8M55.6 697.9h.8M55.4 698.3h.8M55.2 698.3h.8M55.7 698.5h.8M55.8 698.3h.8M54.9 698.1h.8M55.3 698.0h.8M55.1 698.6h.8M55.7 698.7h.8M55.0 698.4h.8" stroke="#ef9828" stroke-width=".8" fill="none"/>
<path d="M54.8 698.8h.8M54.1 699.6h.8M54.5 699.2h.8M54.2 699.5h.8M54.4 699.1h.8M54.4 699.7h.8M54.5 699.2h.8M54.6 699.7h.8M54.5 699.5h.8M54.5 699.3h.8M54.8 699.7h.8M54.6 699.0h.8M53.9 699.4h.8M53.0 697.2h.8M52.9 697.1h.8M53.3 697.6h.8M53.1 697.5h.8M52.9 697.0h.8M54.6 697.1h.8M54.3 697.7h.8M53.8 697.8h.8M54.8 697.2h.8M54.6 697.1h.8M53.9 697.4h.8M54.4 697.2h.8M54.2 697.6h.8M54.0 697.1h.8M53.9 697.7h.8M54.2 697.4h.8M53.1 698.0h.8M53.6 698.8h.8M53.4 698.3h.8M53.4 698.5h.8M53.1 697.9h.8M53.7 698.7h.8M53.0 698.0h.8M53.6 698.5h.8M53.0 698.0h.8M53.0 697.8h.8M53.6 697.9h.8M53.7 698.6h.8M53.5 698.1h.8M53.4 698.8h.8M53.3 698.1h.8M53.6 698.4h.8M53.2 698.2h.8M53.0 698.0h.8" stroke="#e85e23" stroke-width=".8" fill="none"/>
<path d="M54.7 698.0h.8M54.5 698.5h.8M54.0 698.7h.8M54.0 698.5h.8M54.5 698.7h.8M53.9 698.7h.8M54.0 697.9h.8M54.7 697.9h.8M54.4 698.7h.8M54.3 698.2h.8M54.5 697.8h.8M54.5 698.4h.8M54.2 698.3h.8M54.2 698.6h.8M54.5 698.5h.8M54.3 697.9h.8M54.2 698.7h.8M54.4 698.5h.8M54.0 698.1h.8" stroke="#e1231e" stroke-width=".8" fill="none"/>
<rect x="34.8" y="618.8" width="86.0" height="86.2" fill="none" stroke="#888" stroke-width="0.8"/>
<line x1="75.5" y1="618.8" x2="69.6" y2="705.0" stroke="#555" stroke-width="0.8"/>
<text x="92.0" y="660.0" font-size="6.6" font-weight="bold" text-anchor="middle">CD11b<tspan font-size="4.4" dy="-2.2">+</tspan></text>
<text x="92.0" y="667.6" font-size="6.6" text-anchor="middle" fill="#000" font-weight="bold">3.4%</text>
<text x="80.0" y="616.8" font-size="7.0" text-anchor="middle" fill="#000" font-weight="bold" textLength="57.5" lengthAdjust="spacingAndGlyphs">IL-12 + trabectedin</text>
<path d="M165.5 595.6h.8M146.0 563.8h.8M151.9 561.0h.8M175.3 541.0h.8M212.1 515.6h.8M155.3 554.8h.8M177.8 598.6h.8M192.6 544.0h.8M191.9 539.8h.8M187.6 548.5h.8M189.0 534.9h.8M182.6 542.0h.8M188.2 541.1h.8M202.6 518.2h.8M218.5 585.3h.8M229.1 593.2h.8M187.8 544.8h.8M199.6 538.7h.8M167.2 557.3h.8M177.6 536.6h.8M210.3 591.2h.8M195.3 516.0h.8M174.2 534.8h.8M207.9 524.3h.8M227.1 596.0h.8M200.2 520.3h.8M195.2 589.4h.8M147.8 528.5h.8M214.8 583.9h.8M202.7 524.9h.8M222.8 589.4h.8M198.8 586.0h.8M162.2 556.9h.8M157.2 561.1h.8M159.0 556.0h.8M147.0 597.5h.8M198.8 589.2h.8M208.9 597.9h.8M146.5 580.8h.8M181.6 537.1h.8M157.6 527.0h.8M199.5 529.2h.8M178.5 542.5h.8M172.0 552.3h.8M168.7 532.2h.8M161.9 532.6h.8M184.7 535.9h.8M204.7 586.5h.8M159.6 518.0h.8M159.6 561.4h.8M152.8 528.0h.8M170.5 554.6h.8M153.8 515.9h.8M150.3 589.3h.8M194.5 597.2h.8M160.3 529.2h.8M152.5 518.6h.8M224.9 584.1h.8M158.2 595.7h.8M226.9 584.9h.8M174.3 597.7h.8M156.2 595.1h.8M191.0 529.0h.8M155.7 564.6h.8M199.7 526.2h.8M202.5 535.4h.8M154.7 589.5h.8M171.9 559.9h.8M209.8 586.9h.8M146.1 587.9h.8M210.2 519.7h.8M178.7 557.9h.8M206.1 595.9h.8M211.7 586.1h.8M150.7 530.0h.8M168.5 514.2h.8M162.8 589.3h.8M190.8 588.5h.8M177.1 552.3h.8M219.7 593.9h.8M177.2 550.4h.8M208.3 594.9h.8M149.8 521.2h.8M154.7 579.4h.8M182.0 550.4h.8M188.0 589.0h.8M224.5 593.0h.8M181.6 546.1h.8M193.6 593.8h.8M195.7 594.9h.8M167.7 562.1h.8M147.5 589.8h.8M171.7 595.3h.8M147.9 577.8h.8M175.1 592.9h.8M150.2 518.6h.8M196.9 526.0h.8M158.2 534.4h.8M181.0 556.3h.8M189.0 586.5h.8M157.3 515.6h.8M149.3 580.0h.8M194.6 527.8h.8M178.9 545.7h.8M157.4 518.2h.8M191.7 531.4h.8M164.2 529.4h.8M150.6 581.4h.8M157.2 585.0h.8M166.1 529.8h.8M158.8 572.5h.8M146.2 594.0h.8M149.9 586.8h.8M192.5 580.3h.8M154.2 531.2h.8M158.5 533.2h.8M151.6 575.1h.8M192.8 586.2h.8M221.6 593.4h.8M186.3 594.7h.8M214.2 520.6h.8M147.1 594.6h.8M173.7 595.2h.8M161.7 551.8h.8M153.5 587.7h.8M162.3 552.9h.8M175.0 589.7h.8M212.4 520.4h.8M191.7 585.0h.8M208.9 531.1h.8M154.6 583.7h.8M171.9 590.2h.8M149.9 584.9h.8M174.3 556.9h.8M182.1 549.2h.8M179.7 547.8h.8M205.7 590.1h.8M205.2 589.6h.8M216.5 519.1h.8M193.9 534.2h.8M154.5 575.0h.8M164.7 562.2h.8M173.5 556.8h.8M229.9 558.3h.8M205.5 539.3h.8M165.7 515.5h.8M152.0 583.8h.8M164.4 517.2h.8M185.2 593.2h.8M184.0 593.7h.8M198.3 549.1h.8M184.3 597.5h.8M183.9 597.7h.8M185.8 556.2h.8M154.5 586.3h.8M194.2 532.7h.8M184.8 583.9h.8M190.8 551.8h.8M229.1 556.8h.8M182.8 532.5h.8M154.2 575.3h.8M150.3 570.9h.8M226.9 565.5h.8M207.9 533.7h.8M209.3 536.4h.8M155.6 532.4h.8M196.4 520.5h.8M178.5 532.6h.8M155.8 532.0h.8M229.7 566.0h.8M161.1 587.7h.8M149.1 574.8h.8M194.0 526.0h.8M163.0 527.1h.8M230.5 548.5h.8M218.6 514.7h.8M225.1 516.9h.8M170.4 515.4h.8M164.2 565.0h.8M159.6 585.6h.8M210.4 531.5h.8M174.4 588.0h.8M179.0 591.7h.8M205.5 537.8h.8M185.1 514.8h.8M162.6 520.4h.8M184.1 556.8h.8M177.4 588.0h.8M194.2 551.2h.8M186.7 529.6h.8M207.3 535.1h.8M159.3 564.9h.8M201.3 543.7h.8M163.3 525.5h.8M218.4 520.0h.8M229.3 561.0h.8M165.7 563.5h.8M174.2 530.7h.8M173.9 531.1h.8M213.3 528.7h.8M192.8 577.0h.8M157.3 579.2h.8M219.6 514.8h.8M158.6 569.7h.8M188.3 556.5h.8M194.9 523.2h.8M183.6 557.9h.8M191.7 517.4h.8M228.4 516.8h.8M227.8 516.7h.8M159.7 575.1h.8M197.4 550.5h.8M222.4 515.7h.8M163.7 524.6h.8M170.0 565.1h.8M190.8 581.9h.8M212.0 526.9h.8M164.6 563.4h.8M171.1 563.6h.8M199.1 547.0h.8M205.2 535.4h.8M204.9 535.4h.8M164.1 523.1h.8M192.2 525.8h.8M183.7 531.4h.8M230.9 535.8h.8M161.9 586.4h.8M184.7 531.4h.8M177.6 586.5h.8M192.2 576.4h.8" stroke="#96a5f6" stroke-width=".8" fill="none"/>
<path d="M171.6 563.9h.8M146.9 573.5h.8M163.5 585.8h.8M158.6 565.6h.8M164.3 518.5h.8M212.1 524.9h.8M212.3 524.3h.8M160.2 575.6h.8M159.2 581.5h.8M185.6 581.9h.8M226.7 556.1h.8M230.0 563.8h.8M230.0 563.8h.8M186.4 529.5h.8M190.4 516.7h.8M226.1 563.3h.8M189.8 525.3h.8M225.2 564.7h.8M229.1 563.5h.8M170.4 588.7h.8M205.9 542.4h.8M227.4 560.6h.8M214.0 528.3h.8M229.7 534.8h.8M163.2 573.5h.8M230.2 541.1h.8M230.5 540.8h.8M148.8 572.2h.8M185.2 529.8h.8M226.2 564.2h.8M182.8 590.3h.8M193.2 551.3h.8M191.4 555.4h.8M227.9 552.4h.8M158.7 566.9h.8M146.8 573.0h.8M183.2 588.0h.8M162.5 575.9h.8M190.8 525.1h.8M168.9 566.3h.8M180.2 590.6h.8M179.9 590.8h.8M158.8 567.5h.8M214.4 524.2h.8M229.1 551.1h.8M230.8 527.6h.8M175.0 515.1h.8M219.1 565.9h.8M222.3 564.4h.8M148.0 571.8h.8M201.1 544.9h.8M159.1 580.4h.8M208.5 541.8h.8M191.6 523.6h.8M226.6 553.6h.8M160.9 577.9h.8M227.1 560.3h.8M161.7 584.3h.8M172.9 528.7h.8M220.5 517.1h.8M177.7 515.4h.8M226.7 559.0h.8M163.1 567.8h.8M172.9 514.8h.8M160.5 568.8h.8M159.4 577.8h.8M229.3 519.8h.8M228.6 519.8h.8M175.4 561.9h.8M175.4 561.5h.8M171.0 518.7h.8M193.8 521.1h.8M190.3 518.6h.8M188.3 580.4h.8M160.8 568.4h.8M190.9 518.9h.8M224.5 563.5h.8M190.2 581.2h.8M174.6 586.1h.8M194.3 521.8h.8M148.1 572.4h.8M193.5 552.4h.8M182.6 589.0h.8M161.9 568.4h.8M178.9 562.0h.8M182.8 582.7h.8M190.0 580.0h.8M180.5 588.7h.8M229.0 548.0h.8M222.2 562.7h.8M221.9 563.1h.8M180.5 587.8h.8M171.3 528.5h.8M212.3 533.2h.8M193.0 553.6h.8M227.3 552.9h.8M214.1 525.3h.8M229.1 544.4h.8M219.0 522.1h.8M160.9 579.3h.8M191.6 556.1h.8M229.1 549.8h.8M188.8 581.0h.8M222.5 563.6h.8M162.7 568.9h.8M215.7 524.0h.8M159.3 578.5h.8M158.6 579.3h.8M164.5 583.9h.8M210.3 540.4h.8M165.5 587.4h.8M229.1 541.4h.8M220.0 565.1h.8M219.6 564.7h.8M186.5 558.4h.8M161.8 583.7h.8M215.8 565.9h.8M184.2 562.3h.8M230.4 536.6h.8M160.6 582.8h.8M228.6 548.6h.8M162.9 576.5h.8M171.2 587.2h.8M189.3 520.6h.8M228.9 529.2h.8M210.7 535.4h.8M206.7 543.0h.8M180.1 585.2h.8M213.3 531.7h.8M194.2 553.4h.8M227.8 546.5h.8M188.3 515.5h.8M188.4 515.7h.8M180.7 562.9h.8M188.7 522.5h.8M189.2 578.9h.8M226.4 557.7h.8M219.3 522.4h.8M192.9 520.6h.8M228.5 522.5h.8M166.0 586.4h.8M165.0 567.6h.8M163.9 571.4h.8M164.4 572.2h.8M227.5 529.7h.8M160.7 581.5h.8M211.4 540.2h.8M208.2 565.5h.8M228.7 538.6h.8M168.0 518.0h.8M201.0 546.2h.8M165.5 567.8h.8M180.6 589.2h.8M172.4 516.3h.8M182.1 589.1h.8M184.7 580.4h.8M187.7 558.3h.8M225.3 553.5h.8M214.8 525.1h.8M187.4 516.2h.8M173.5 584.5h.8M222.3 519.1h.8M222.5 519.2h.8M221.3 521.3h.8M169.2 567.6h.8M229.5 528.0h.8M184.5 561.0h.8M175.4 585.0h.8M181.7 583.0h.8M174.8 562.5h.8M220.6 517.3h.8M221.3 518.3h.8M196.5 553.2h.8M197.0 552.6h.8M227.5 534.2h.8M226.7 546.1h.8M162.6 580.3h.8M181.3 584.0h.8M220.7 518.7h.8M172.1 584.6h.8M190.8 521.9h.8M191.2 522.2h.8M218.5 562.4h.8M209.8 542.1h.8M191.9 520.5h.8M176.9 516.5h.8M161.6 582.2h.8M165.2 520.7h.8M176.4 585.1h.8M199.5 565.4h.8M227.0 550.4h.8M191.4 520.6h.8M186.4 560.2h.8M215.6 528.8h.8M184.1 580.8h.8M178.0 517.1h.8M212.1 534.6h.8M201.5 547.5h.8M214.0 531.3h.8M187.8 516.7h.8M184.2 562.8h.8M215.9 524.6h.8M169.4 518.6h.8M202.3 546.3h.8M201.7 546.4h.8M201.4 546.9h.8M169.4 588.3h.8M226.8 518.4h.8M184.7 526.5h.8M184.5 526.3h.8M206.6 544.0h.8M171.8 566.9h.8M173.0 515.4h.8M178.0 530.8h.8M227.6 520.4h.8M167.2 587.9h.8M228.0 538.9h.8M217.4 525.1h.8M227.7 545.0h.8M180.7 516.3h.8M180.2 563.2h.8M217.9 564.4h.8M179.4 516.4h.8M185.9 561.2h.8M185.6 560.7h.8M179.5 531.0h.8M193.6 574.3h.8M171.3 584.9h.8M173.2 583.7h.8M169.4 520.3h.8M188.0 578.6h.8M190.8 558.1h.8M191.4 557.8h.8M212.8 533.5h.8M164.9 569.0h.8M227.2 548.8h.8M227.9 543.1h.8M188.1 559.4h.8M180.2 583.8h.8M229.7 526.7h.8M230.1 527.3h.8M163.0 582.2h.8M174.1 565.3h.8M168.3 585.2h.8M220.3 525.1h.8M220.2 522.4h.8M186.3 525.8h.8M227.2 541.5h.8M195.2 554.6h.8M221.1 521.7h.8M225.4 556.9h.8M177.4 529.4h.8M193.8 572.7h.8M193.3 556.6h.8M167.5 588.0h.8M168.0 588.2h.8M186.7 524.4h.8M187.0 524.5h.8M180.8 583.2h.8M229.2 536.3h.8M220.3 525.4h.8M220.5 525.8h.8M165.1 583.3h.8M214.7 565.0h.8M215.2 564.3h.8M166.6 587.0h.8M185.5 562.7h.8M227.6 544.2h.8M225.6 547.3h.8M182.3 580.7h.8M229.0 523.7h.8M174.4 515.5h.8M227.1 531.9h.8M170.0 585.5h.8M170.0 586.0h.8M185.3 517.1h.8M176.9 562.9h.8M177.0 563.1h.8M178.9 583.9h.8M190.2 558.3h.8M178.3 562.9h.8M214.0 533.1h.8M226.2 551.0h.8M170.6 567.8h.8M219.1 560.7h.8M168.3 586.0h.8M205.5 565.7h.8M206.5 565.3h.8M169.2 527.3h.8M169.1 527.4h.8M168.0 522.0h.8M217.2 526.2h.8M168.7 522.3h.8M167.4 523.2h.8M223.8 559.9h.8M169.1 584.9h.8M167.4 525.2h.8M165.6 568.8h.8M202.4 549.0h.8M218.2 525.8h.8M182.9 528.0h.8M183.4 527.8h.8M227.1 543.7h.8M227.0 544.2h.8M207.8 543.6h.8M187.5 518.7h.8M172.9 519.1h.8M216.2 531.8h.8M216.1 564.5h.8M225.4 519.8h.8M225.1 519.9h.8M225.1 519.4h.8M168.1 518.5h.8M188.8 559.5h.8M211.7 536.7h.8M212.3 537.1h.8M178.1 584.1h.8M221.0 523.1h.8M217.3 526.9h.8M163.8 579.7h.8M167.4 523.5h.8M166.6 523.7h.8M169.4 584.2h.8M173.3 517.9h.8M228.0 538.1h.8M223.9 555.5h.8M224.1 555.4h.8M187.1 517.7h.8M166.6 519.0h.8M227.4 529.0h.8M165.0 573.3h.8M177.4 583.8h.8M177.4 584.2h.8M165.7 520.6h.8M227.4 529.6h.8M176.4 518.9h.8M170.2 528.3h.8M214.7 532.9h.8M214.7 533.2h.8M167.5 582.8h.8M201.1 566.0h.8M219.0 526.5h.8M228.4 535.9h.8M217.1 528.3h.8M206.3 546.3h.8M227.2 520.7h.8M225.9 548.7h.8M172.9 566.3h.8M175.5 516.5h.8M221.9 522.6h.8M221.9 522.9h.8M165.5 520.2h.8M166.3 519.5h.8M216.9 529.1h.8M199.4 552.5h.8M199.0 553.3h.8M217.5 530.2h.8M209.1 564.9h.8M218.1 562.6h.8M171.0 522.7h.8M211.1 541.6h.8M188.8 563.4h.8M180.9 581.0h.8M211.8 565.2h.8M178.4 518.3h.8M225.7 541.0h.8M173.7 583.2h.8M224.0 552.5h.8M227.5 536.9h.8M229.0 524.7h.8M203.3 548.4h.8M222.6 559.4h.8M222.7 559.6h.8M217.3 530.6h.8M168.1 520.1h.8M225.6 522.0h.8M229.2 525.5h.8M228.6 525.4h.8M198.3 565.0h.8M198.4 564.5h.8M226.0 520.0h.8M225.5 520.2h.8M164.8 575.3h.8M188.9 561.7h.8M188.9 562.3h.8M166.4 569.8h.8M226.7 537.4h.8M221.9 524.4h.8M174.0 516.4h.8M167.4 520.7h.8M184.4 563.4h.8M174.8 517.6h.8M175.3 518.2h.8M228.5 523.5h.8M201.9 549.4h.8M180.1 563.7h.8M225.9 521.2h.8M177.6 529.5h.8M191.1 574.4h.8M224.6 544.9h.8M213.0 535.6h.8M177.9 582.4h.8M227.4 533.9h.8M171.1 569.0h.8M170.9 569.0h.8M210.2 564.7h.8M210.1 564.6h.8M218.1 527.5h.8M165.0 581.4h.8M208.5 564.2h.8M208.2 563.8h.8M174.3 518.1h.8M178.9 529.7h.8M179.2 530.0h.8M217.1 532.0h.8M193.5 568.5h.8M193.5 569.1h.8M167.1 519.7h.8M166.1 570.5h.8M168.1 526.1h.8M228.2 525.9h.8M174.7 564.9h.8M217.2 564.0h.8M216.8 563.8h.8M193.5 566.0h.8M193.7 566.2h.8M207.0 546.1h.8M206.8 545.4h.8M188.7 564.9h.8M169.2 524.1h.8M192.8 573.5h.8M193.3 574.0h.8M185.6 518.1h.8M224.4 558.5h.8M186.6 522.2h.8M187.1 521.7h.8M197.1 564.8h.8M192.5 567.8h.8M204.5 549.0h.8M184.3 517.9h.8M223.6 523.0h.8M166.4 572.1h.8M173.1 526.7h.8M173.8 526.4h.8M172.4 526.9h.8M172.0 521.5h.8M166.5 569.6h.8M201.7 565.4h.8M196.7 555.1h.8M196.5 554.6h.8M222.6 555.6h.8M191.4 564.4h.8M174.4 520.3h.8M181.8 527.3h.8M187.1 522.4h.8M166.2 581.4h.8M173.5 582.1h.8M172.8 582.2h.8M196.1 556.1h.8M196.4 556.1h.8M181.3 565.0h.8M226.7 535.1h.8M223.9 557.5h.8M180.1 581.2h.8M179.9 581.1h.8M228.0 525.2h.8M169.0 526.4h.8M181.3 518.2h.8M181.4 518.2h.8M168.0 524.9h.8M167.9 569.6h.8M178.8 518.4h.8M185.1 518.0h.8M226.3 527.2h.8M185.6 518.6h.8M188.5 564.5h.8M187.8 565.0h.8M225.6 527.5h.8M168.7 569.9h.8M169.1 569.8h.8M183.0 578.9h.8M182.6 578.5h.8M164.6 581.2h.8M165.5 580.9h.8M164.7 581.2h.8M194.5 557.5h.8M193.0 572.3h.8M192.9 572.7h.8M205.9 564.6h.8M187.4 577.3h.8M187.2 577.5h.8M223.3 525.4h.8M165.4 577.0h.8M165.4 576.9h.8M165.2 576.9h.8M224.6 549.7h.8M224.9 550.3h.8M170.4 582.0h.8M169.9 581.6h.8M170.4 582.2h.8M170.2 581.4h.8M179.7 528.8h.8M164.7 577.6h.8M226.3 537.7h.8M214.2 535.6h.8M166.3 573.8h.8M169.9 527.0h.8M185.0 524.4h.8M212.7 536.5h.8M167.7 582.1h.8M168.2 581.8h.8M167.5 581.5h.8M208.1 563.0h.8M167.4 570.8h.8M185.2 579.3h.8M185.3 578.7h.8M189.8 565.3h.8M196.2 557.2h.8" stroke="#768cf2" stroke-width=".8" fill="none"/>
<path d="M193.4 565.7h.8M193.4 565.9h.8M174.2 582.1h.8M186.1 524.0h.8M190.7 560.2h.8M194.5 558.0h.8M195.5 558.1h.8M223.2 525.0h.8M223.3 524.9h.8M221.9 527.4h.8M206.4 547.5h.8M206.3 548.2h.8M180.4 565.3h.8M192.5 566.3h.8M172.0 580.9h.8M200.4 553.0h.8M183.8 578.7h.8M166.3 575.1h.8M166.0 574.4h.8M192.2 565.2h.8M227.5 524.6h.8M170.1 524.6h.8M189.9 562.0h.8M189.7 561.8h.8M200.9 564.3h.8M218.8 528.5h.8M219.4 529.0h.8M191.8 574.2h.8M171.1 524.9h.8M169.5 524.9h.8M171.8 569.6h.8M171.7 569.6h.8M182.3 519.7h.8M176.2 565.2h.8M193.4 558.4h.8M222.7 558.4h.8M222.6 558.9h.8M168.6 574.4h.8M179.4 519.8h.8M178.9 564.8h.8M178.8 564.5h.8M170.4 580.6h.8M170.4 580.5h.8M183.1 518.8h.8M183.4 519.2h.8M224.5 542.5h.8M172.1 523.1h.8M167.9 571.1h.8M176.6 581.6h.8M224.4 550.8h.8M182.0 577.3h.8M182.3 519.2h.8M226.2 532.3h.8M169.5 525.5h.8M168.8 525.4h.8M170.9 525.5h.8M171.2 525.9h.8M169.5 570.5h.8M180.0 519.0h.8M180.4 519.3h.8M178.1 565.0h.8M225.9 537.1h.8M226.4 536.9h.8M196.6 555.4h.8M167.1 572.3h.8M176.4 581.7h.8M176.4 581.7h.8M185.8 522.2h.8M186.3 522.3h.8M180.0 580.2h.8M187.6 575.8h.8M166.7 580.6h.8M206.0 564.1h.8M169.9 570.3h.8M219.6 528.5h.8M185.5 519.2h.8M185.1 519.3h.8M186.9 564.5h.8M199.2 555.0h.8M177.2 565.1h.8M168.5 574.1h.8M183.6 520.6h.8M194.7 558.5h.8M194.9 559.2h.8M216.9 562.1h.8M185.3 519.7h.8M202.1 550.5h.8M166.9 573.5h.8M181.3 519.2h.8M181.4 518.4h.8M192.4 571.7h.8M192.1 572.0h.8M176.4 521.1h.8M176.4 520.9h.8M167.4 575.1h.8M214.7 562.3h.8M185.8 522.5h.8M186.0 523.1h.8M180.6 522.0h.8M210.3 564.1h.8M174.6 565.6h.8M216.2 562.8h.8M191.6 563.5h.8M225.6 524.0h.8M226.0 523.8h.8M191.3 573.8h.8M190.8 573.8h.8M192.0 570.2h.8M192.1 569.4h.8M173.5 521.0h.8M173.8 520.9h.8M167.6 573.1h.8M167.8 573.2h.8M167.6 572.7h.8M225.1 526.9h.8M182.9 521.7h.8M193.7 558.8h.8M165.6 579.5h.8M178.6 529.2h.8M173.5 568.7h.8M223.3 557.8h.8M169.9 574.8h.8M193.8 564.8h.8M186.6 577.2h.8M182.9 576.5h.8M184.0 520.3h.8M184.5 519.6h.8M224.5 542.1h.8M225.4 541.5h.8M196.7 558.3h.8M183.9 521.6h.8M223.5 552.7h.8M223.3 552.9h.8M224.0 523.5h.8M223.9 523.3h.8M185.2 521.4h.8M174.8 521.0h.8M171.4 570.8h.8M179.8 520.8h.8M188.6 574.4h.8M189.5 574.5h.8M200.2 553.8h.8M178.8 565.6h.8M167.8 576.0h.8M223.8 526.8h.8M181.4 527.7h.8M200.7 552.1h.8M192.2 567.7h.8M183.3 575.8h.8M188.7 567.2h.8M204.1 550.2h.8M209.5 545.0h.8M225.4 526.0h.8M225.8 524.7h.8M167.7 579.3h.8M220.6 559.0h.8M184.2 577.9h.8M184.2 577.8h.8M212.5 541.7h.8M184.4 575.6h.8M184.4 524.4h.8M177.7 581.1h.8M177.8 580.4h.8M201.0 563.7h.8M167.4 575.4h.8M190.0 567.1h.8M190.1 566.9h.8M181.2 566.2h.8M181.2 566.1h.8M172.8 525.4h.8M173.1 526.1h.8M191.5 568.9h.8M181.2 577.6h.8M180.4 522.1h.8M166.7 580.2h.8M179.4 521.1h.8M172.6 521.3h.8M172.7 521.6h.8M172.7 522.0h.8M170.3 572.1h.8M224.6 523.9h.8M225.2 524.0h.8M198.3 555.3h.8M196.9 560.2h.8M205.0 565.3h.8M189.1 570.3h.8M211.6 563.8h.8M211.5 564.2h.8M177.0 527.4h.8M177.3 528.2h.8M201.8 561.1h.8M185.1 577.5h.8M208.5 545.4h.8M224.7 540.9h.8M191.0 561.2h.8M190.9 560.3h.8M189.8 573.8h.8M176.0 526.5h.8M176.5 526.4h.8M191.2 572.3h.8M190.6 571.4h.8M221.8 556.8h.8M199.9 563.0h.8M222.3 555.3h.8M170.8 576.1h.8M200.9 561.4h.8M200.8 562.0h.8M191.1 562.0h.8M190.8 562.0h.8M184.3 565.0h.8M193.7 560.0h.8M186.7 576.0h.8M216.8 534.2h.8M211.2 564.0h.8M211.2 563.8h.8M192.7 559.8h.8M193.4 559.3h.8M185.6 577.2h.8M186.0 576.9h.8M186.4 576.8h.8M169.8 579.1h.8M170.1 578.7h.8M184.9 576.4h.8M187.7 570.2h.8M170.4 572.4h.8M189.8 569.4h.8M224.0 549.7h.8M223.8 549.5h.8M170.3 576.5h.8M223.7 546.9h.8M224.1 546.9h.8M216.2 534.9h.8M216.3 534.3h.8M224.6 524.5h.8M224.7 525.2h.8M216.4 561.9h.8M216.3 561.3h.8M216.4 561.5h.8M221.9 557.8h.8M221.7 557.6h.8M191.0 570.1h.8M168.8 577.1h.8M183.5 575.0h.8M189.8 571.4h.8M190.1 572.1h.8M175.8 581.3h.8M176.1 581.0h.8M217.0 560.8h.8M214.1 537.0h.8M171.2 575.0h.8M179.4 580.2h.8M166.4 578.3h.8M184.4 523.3h.8M184.4 523.5h.8M179.8 566.9h.8M171.4 579.2h.8M186.4 564.8h.8M186.1 565.2h.8M197.8 559.1h.8M198.2 558.9h.8M202.2 564.5h.8M201.5 564.9h.8M178.7 522.2h.8M179.2 521.6h.8M179.1 522.1h.8M175.5 580.5h.8M177.0 566.0h.8M191.0 567.9h.8M176.5 566.2h.8M176.2 566.3h.8M175.9 522.2h.8M175.7 521.4h.8M215.4 562.0h.8M174.4 567.6h.8M225.9 534.6h.8M187.8 568.0h.8M187.8 568.1h.8M178.4 567.0h.8M172.3 575.7h.8M177.1 521.3h.8M189.9 567.7h.8M189.6 568.2h.8M188.2 574.6h.8M188.2 574.9h.8M173.5 574.7h.8M221.7 528.5h.8M181.6 522.9h.8M181.9 523.2h.8M182.3 523.0h.8M224.2 528.2h.8M223.9 527.8h.8M201.1 559.7h.8M190.4 569.2h.8M189.8 568.5h.8M179.4 567.9h.8M197.8 557.2h.8M181.9 574.9h.8M177.6 521.8h.8M177.8 521.3h.8M200.2 561.5h.8M180.2 528.1h.8M202.4 563.1h.8M173.2 575.8h.8M186.5 565.8h.8M197.9 557.4h.8M190.6 568.5h.8M173.8 570.9h.8M213.4 539.8h.8M213.1 540.0h.8M200.3 561.2h.8M200.3 561.1h.8M186.5 574.8h.8M224.0 548.7h.8M167.1 578.6h.8M225.4 529.0h.8M172.5 522.5h.8M173.4 524.6h.8M173.2 524.8h.8M198.7 562.6h.8M198.7 562.8h.8M168.6 577.7h.8M169.1 577.9h.8M169.3 577.9h.8M188.6 573.6h.8M195.8 560.5h.8M176.5 526.0h.8M176.0 526.2h.8M198.7 560.3h.8M177.9 580.0h.8M205.4 563.9h.8M181.4 576.3h.8M185.0 564.7h.8M219.9 530.1h.8M220.0 529.7h.8M171.8 574.6h.8M213.2 562.8h.8M200.6 552.3h.8M170.6 577.8h.8M170.6 577.4h.8M186.9 574.7h.8M177.6 528.1h.8M219.2 530.3h.8M219.2 531.3h.8M193.7 564.1h.8M177.8 522.7h.8M176.8 579.9h.8M196.8 564.2h.8M177.3 522.7h.8M204.3 564.9h.8M203.9 564.3h.8M172.8 579.4h.8M172.5 579.6h.8M179.7 578.0h.8M192.0 561.8h.8M175.7 524.3h.8M176.2 524.1h.8M187.0 571.0h.8M183.5 573.3h.8M183.8 573.8h.8M184.1 573.7h.8M184.2 573.6h.8M214.0 561.3h.8M174.8 571.4h.8M177.8 524.1h.8M177.7 523.6h.8M203.8 550.9h.8M205.4 549.3h.8M204.6 549.4h.8M171.9 576.9h.8M183.3 524.8h.8M203.5 560.0h.8M203.1 560.0h.8M202.8 559.8h.8M192.5 560.4h.8M192.8 560.9h.8M207.0 561.5h.8M199.0 558.5h.8M186.8 569.9h.8M194.6 563.9h.8M194.6 563.9h.8M198.5 561.0h.8M174.3 525.2h.8M173.8 524.6h.8M168.1 577.6h.8M189.3 572.3h.8M174.2 569.1h.8M173.6 568.4h.8M178.5 579.3h.8M174.1 573.5h.8M224.8 529.6h.8M225.1 530.2h.8M224.9 529.9h.8M167.3 577.7h.8M166.8 577.5h.8M166.7 577.4h.8M166.9 577.8h.8M167.5 577.7h.8M181.6 573.4h.8M202.6 565.3h.8M203.1 564.9h.8M174.8 522.7h.8M201.8 551.6h.8M202.0 552.2h.8M193.4 563.3h.8M192.8 562.9h.8M193.1 563.0h.8M225.1 530.5h.8M224.9 531.0h.8M182.9 523.9h.8M182.6 524.2h.8M177.4 526.9h.8M176.6 526.8h.8M178.7 568.5h.8M179.4 568.4h.8M180.7 566.3h.8M176.9 525.0h.8M176.5 524.5h.8M188.4 571.7h.8M188.2 571.8h.8M187.8 572.0h.8M172.8 571.8h.8M173.3 571.8h.8M171.1 572.6h.8M171.5 572.7h.8M203.4 563.1h.8M173.9 522.7h.8M180.9 523.4h.8M204.9 562.2h.8M204.6 561.8h.8M205.5 561.4h.8M174.6 574.2h.8M177.5 566.8h.8M185.7 570.3h.8M199.7 558.7h.8M186.4 573.5h.8M220.9 556.5h.8M180.9 526.9h.8M180.7 526.3h.8M181.6 525.5h.8M181.8 525.6h.8M174.0 572.7h.8M184.2 572.7h.8M184.5 573.1h.8M180.8 576.1h.8M180.6 576.2h.8M201.0 558.7h.8M200.5 559.3h.8M171.7 578.0h.8M171.7 577.8h.8M178.5 579.0h.8M178.4 578.7h.8M178.4 578.7h.8M174.6 579.5h.8M192.6 561.5h.8M192.6 561.6h.8M223.5 529.1h.8M222.9 528.8h.8M223.4 528.7h.8M185.2 571.6h.8M203.8 562.9h.8M204.4 563.0h.8M174.3 523.6h.8M174.2 523.5h.8M173.8 523.5h.8M174.1 523.8h.8M173.9 579.8h.8M174.2 579.9h.8M174.4 579.4h.8M176.7 571.0h.8M177.3 525.6h.8M198.8 557.4h.8M199.4 557.1h.8M199.4 556.3h.8M198.8 557.3h.8M178.5 570.0h.8M175.6 570.3h.8M182.2 523.8h.8M194.1 561.9h.8M178.3 569.1h.8M224.5 528.3h.8M209.1 546.1h.8M208.9 545.7h.8M222.1 530.1h.8M179.3 577.4h.8M179.5 578.1h.8M178.7 577.7h.8M213.7 537.9h.8M213.9 538.1h.8M175.8 567.2h.8M210.9 562.7h.8M221.9 552.7h.8M221.9 553.1h.8M202.8 551.5h.8M186.1 573.1h.8M186.0 572.3h.8M186.1 572.6h.8M172.2 573.6h.8M172.0 573.5h.8M178.8 524.6h.8M179.3 524.5h.8M188.2 572.7h.8M187.6 573.0h.8M194.5 562.1h.8M180.1 577.0h.8M211.7 563.1h.8M219.0 558.8h.8M219.3 559.1h.8M220.2 530.6h.8M219.6 531.3h.8M219.9 530.6h.8M204.0 563.6h.8M203.7 563.7h.8M176.3 578.8h.8M184.1 571.8h.8M203.4 563.6h.8M202.7 563.9h.8M203.0 564.0h.8M172.6 578.9h.8M182.3 524.4h.8M181.7 524.8h.8M187.2 567.4h.8M182.1 572.6h.8M182.4 573.1h.8M177.7 527.0h.8M187.2 572.5h.8M187.2 572.4h.8M186.7 572.8h.8M172.6 573.1h.8M172.9 572.5h.8M172.6 573.2h.8M178.5 571.1h.8M173.5 577.2h.8M214.3 561.0h.8M203.0 558.1h.8M174.6 570.0h.8M174.9 569.7h.8M175.5 569.5h.8M175.7 572.9h.8M176.4 572.4h.8M176.4 572.8h.8M197.7 561.4h.8M198.2 562.1h.8M197.6 562.1h.8M198.4 561.9h.8M174.9 568.2h.8M175.3 567.3h.8M180.6 573.9h.8M180.4 568.8h.8M172.3 573.2h.8M172.5 573.2h.8M172.0 573.0h.8M172.2 572.8h.8M195.1 562.8h.8M195.1 562.6h.8M221.7 552.0h.8M221.5 552.2h.8M220.9 530.6h.8M186.0 569.3h.8M224.2 529.3h.8M181.3 525.0h.8M180.7 524.5h.8M195.8 562.2h.8M209.6 561.6h.8M201.5 552.9h.8M202.4 552.6h.8M201.6 553.1h.8M173.2 578.0h.8M172.7 577.6h.8M177.1 567.7h.8M176.7 569.7h.8M177.5 570.1h.8M176.8 570.0h.8M217.0 534.9h.8M222.9 529.9h.8M223.3 530.0h.8M178.9 527.0h.8M179.2 526.3h.8M178.5 526.5h.8M213.1 561.8h.8M201.6 557.8h.8M202.0 557.7h.8M224.8 533.0h.8M206.6 548.6h.8M176.2 575.6h.8M176.2 575.6h.8M181.1 525.9h.8M177.8 576.8h.8M181.9 566.4h.8M204.0 556.9h.8" stroke="#5c77ee" stroke-width=".8" fill="none"/>
<path d="M221.7 531.0h.8M197.1 562.1h.8M197.2 561.8h.8M176.8 577.1h.8M176.6 577.2h.8M206.3 550.3h.8M220.4 558.3h.8M220.3 558.0h.8M220.2 558.1h.8M220.5 557.5h.8M196.9 563.1h.8M196.6 563.0h.8M196.9 562.4h.8M175.3 576.8h.8M219.1 532.9h.8M219.5 533.0h.8M218.7 532.6h.8M179.4 526.0h.8M179.1 525.6h.8M202.4 553.3h.8M202.0 553.6h.8M199.8 557.2h.8M200.5 557.2h.8M175.5 573.5h.8M176.1 573.6h.8M200.5 558.2h.8M195.6 563.1h.8M195.9 563.0h.8M196.1 563.2h.8M176.3 578.3h.8M203.6 559.4h.8M203.6 559.6h.8M180.3 576.2h.8M179.8 575.4h.8M180.3 576.1h.8M175.6 569.8h.8M175.0 569.2h.8M176.4 576.8h.8M175.8 576.7h.8M179.8 525.7h.8M179.6 525.9h.8M180.4 525.7h.8M208.1 548.2h.8M177.2 568.8h.8M225.5 534.5h.8M225.3 534.6h.8M224.8 534.9h.8M225.5 535.3h.8M183.9 565.7h.8M180.9 567.9h.8M223.2 530.5h.8M220.5 531.5h.8M204.7 555.5h.8M204.5 555.9h.8M201.3 555.6h.8M200.5 555.4h.8M201.0 556.0h.8M202.5 552.9h.8M203.4 552.8h.8M203.4 552.7h.8M175.9 567.8h.8M176.0 567.8h.8M175.8 567.7h.8M205.1 560.9h.8M174.1 577.4h.8M173.8 577.5h.8M173.7 577.9h.8M176.7 575.9h.8M177.4 576.0h.8M225.2 534.2h.8M175.3 578.1h.8M174.6 578.0h.8M174.6 577.8h.8M175.0 578.3h.8M184.4 570.3h.8M203.5 555.0h.8M202.5 556.3h.8M202.4 557.1h.8M202.1 556.3h.8M201.9 555.5h.8M201.7 555.8h.8M202.4 556.0h.8M219.9 557.3h.8M220.1 557.1h.8M204.4 555.3h.8M204.0 555.2h.8M204.3 554.6h.8M179.2 576.3h.8M212.7 541.9h.8M224.2 531.4h.8M184.8 566.2h.8M185.3 566.0h.8M185.5 565.7h.8M216.0 559.6h.8M215.9 559.8h.8M218.0 558.7h.8M180.2 574.7h.8M180.4 574.3h.8M220.5 531.8h.8M201.3 556.9h.8M200.8 557.0h.8M208.7 546.7h.8M179.6 571.2h.8M179.6 570.6h.8M204.9 552.2h.8M205.0 551.7h.8M175.7 569.2h.8M176.4 568.3h.8M204.6 555.1h.8M204.7 554.8h.8M204.2 553.3h.8M203.8 554.2h.8M210.9 544.6h.8M211.1 544.7h.8M186.1 569.0h.8M186.1 568.4h.8M185.7 568.9h.8M209.6 545.3h.8M210.1 546.1h.8M212.4 562.3h.8M212.0 561.6h.8M211.7 562.2h.8M212.0 561.7h.8M179.7 572.2h.8M179.7 571.7h.8M179.7 571.8h.8M221.0 554.1h.8M220.6 553.3h.8M214.6 559.9h.8M186.0 566.5h.8M179.6 572.9h.8M181.3 571.4h.8M180.6 572.1h.8M180.6 571.8h.8M223.4 549.3h.8M212.0 544.2h.8M212.3 543.6h.8M222.8 531.6h.8M223.2 532.0h.8M204.8 552.7h.8M182.6 566.7h.8M218.6 557.8h.8M219.4 557.5h.8M219.2 557.8h.8M204.9 553.3h.8M205.7 554.5h.8M206.5 554.3h.8M221.3 552.9h.8M221.0 552.7h.8M178.4 572.4h.8M177.6 572.4h.8M181.4 568.9h.8M205.7 550.5h.8M206.2 551.3h.8M205.8 550.5h.8M207.3 549.9h.8M206.8 549.3h.8M176.9 573.5h.8M177.1 573.9h.8M176.9 573.6h.8M220.0 533.1h.8M219.9 532.7h.8M208.2 560.9h.8M186.2 567.6h.8M185.8 568.1h.8M186.3 567.4h.8M222.9 547.9h.8M178.9 572.8h.8M179.3 572.3h.8M183.0 571.2h.8M178.7 575.1h.8M223.5 535.7h.8M207.1 560.9h.8M223.9 539.4h.8M207.9 549.0h.8M208.0 549.2h.8M219.4 533.5h.8M219.4 534.1h.8M222.9 545.4h.8M178.5 575.0h.8M205.3 557.5h.8M204.7 557.3h.8M205.3 557.4h.8M205.1 557.5h.8M207.4 555.3h.8M207.1 556.2h.8M181.8 568.2h.8M181.8 567.9h.8M223.9 532.9h.8M223.8 532.8h.8M223.6 532.4h.8M213.9 540.2h.8M213.7 539.9h.8M213.9 539.9h.8M210.0 560.4h.8M209.6 560.5h.8M218.1 535.3h.8M181.0 569.3h.8M180.6 570.1h.8M215.2 537.6h.8M214.9 537.8h.8M213.4 560.3h.8M207.1 556.6h.8M223.7 537.5h.8M184.2 570.3h.8M183.8 570.3h.8M184.0 570.1h.8M212.4 560.7h.8M212.0 560.9h.8M212.1 560.9h.8M178.9 573.3h.8M179.3 574.2h.8M179.4 574.1h.8M221.5 532.8h.8M217.4 559.2h.8M217.4 558.4h.8M216.7 559.2h.8M217.0 558.5h.8M181.7 571.0h.8M182.4 570.4h.8M181.6 570.4h.8M218.7 556.6h.8M223.5 534.6h.8M178.2 573.7h.8M178.1 573.6h.8M177.9 573.8h.8M178.0 573.5h.8M177.9 573.6h.8M209.3 547.6h.8M205.8 552.1h.8M223.8 538.7h.8M224.3 539.1h.8M223.9 538.5h.8M223.5 539.1h.8M183.8 567.2h.8M184.4 566.6h.8M184.2 567.1h.8M184.9 568.7h.8M220.0 554.9h.8M219.6 554.9h.8M210.6 560.6h.8M210.5 561.2h.8M184.6 567.3h.8M184.9 566.5h.8M184.6 566.9h.8M223.8 533.3h.8M223.9 533.5h.8M223.7 533.9h.8M205.7 553.1h.8M206.4 553.1h.8M222.9 545.2h.8M222.9 544.7h.8M223.4 533.0h.8M223.0 533.3h.8M223.3 533.1h.8M217.0 535.5h.8M217.3 535.8h.8M217.1 535.6h.8M210.2 546.9h.8M209.6 547.0h.8M212.9 543.2h.8M204.6 558.9h.8M205.3 558.8h.8M205.3 558.9h.8M206.5 551.2h.8M205.6 557.4h.8" stroke="#4968eb" stroke-width=".8" fill="none"/>
<path d="M211.9 559.4h.8M212.2 560.1h.8M212.4 559.9h.8M183.4 568.2h.8M182.6 567.7h.8M182.1 568.6h.8M181.6 568.8h.8M222.0 550.2h.8M221.8 549.6h.8M208.0 549.6h.8M184.6 567.8h.8M185.1 567.9h.8M183.1 569.4h.8M211.1 546.0h.8M210.6 546.1h.8M181.7 570.2h.8M181.5 569.7h.8M181.6 569.8h.8M182.1 569.4h.8M182.3 569.5h.8M184.3 569.0h.8M184.1 569.0h.8M216.4 558.3h.8M215.6 558.6h.8M220.8 551.3h.8M220.0 534.2h.8M214.5 540.8h.8M183.7 568.1h.8M183.6 567.7h.8M206.7 553.8h.8M206.5 553.7h.8M207.2 553.3h.8M219.9 554.2h.8M219.6 553.7h.8M220.3 553.4h.8M219.7 554.3h.8M207.3 557.6h.8M207.1 557.8h.8M222.7 543.3h.8M222.6 544.2h.8M223.2 543.8h.8M223.1 543.9h.8M211.0 559.3h.8M183.0 569.2h.8M183.2 569.2h.8M223.1 533.8h.8M219.6 552.8h.8M220.1 553.0h.8M207.0 551.8h.8M206.6 551.6h.8M207.3 552.1h.8M206.3 559.6h.8M206.4 559.9h.8M205.8 560.1h.8M205.6 559.6h.8M206.2 559.5h.8M207.9 555.9h.8M210.3 559.6h.8M210.2 560.0h.8M210.1 559.4h.8M210.3 559.4h.8M209.0 549.0h.8M209.0 548.7h.8M208.8 548.5h.8M218.4 556.7h.8M208.7 559.8h.8M213.0 558.6h.8M214.6 559.0h.8M214.3 558.4h.8M214.5 558.7h.8M206.5 552.7h.8M207.1 552.5h.8M206.8 553.2h.8M222.5 542.6h.8M211.8 558.8h.8M222.2 533.9h.8M221.9 534.1h.8M222.5 533.9h.8M222.1 533.8h.8M221.6 533.7h.8M208.4 551.2h.8M222.6 534.3h.8M223.4 535.2h.8M221.1 534.2h.8M223.1 542.0h.8M222.6 541.3h.8M208.3 559.8h.8M208.1 559.4h.8M207.8 559.6h.8M207.9 559.7h.8M208.4 560.1h.8M214.9 538.6h.8M215.4 539.3h.8M205.9 559.0h.8M206.3 558.7h.8M206.1 558.4h.8M206.2 558.7h.8M217.1 557.6h.8M216.6 557.8h.8M206.8 559.5h.8M206.9 559.9h.8M206.5 560.2h.8M210.0 547.5h.8M209.7 548.3h.8M207.7 555.1h.8M223.0 541.0h.8M222.6 536.0h.8M223.5 536.2h.8M207.0 558.8h.8M206.8 558.8h.8M218.8 555.2h.8M218.9 554.6h.8M209.9 559.1h.8M209.9 558.5h.8M210.2 558.9h.8M208.0 559.2h.8M208.2 558.7h.8M209.0 558.8h.8M208.8 559.0h.8M221.5 549.0h.8M222.3 548.5h.8M207.8 551.4h.8M207.7 551.7h.8M209.2 549.6h.8M208.5 549.7h.8M209.0 558.2h.8M208.5 557.6h.8M218.2 536.0h.8M207.9 553.4h.8M208.3 553.5h.8M218.4 555.5h.8M217.7 555.8h.8M213.4 544.1h.8M214.4 541.7h.8M222.6 537.2h.8M208.1 553.0h.8M208.6 556.9h.8M209.0 556.7h.8M208.6 557.2h.8M215.6 537.5h.8M216.3 537.5h.8M216.5 538.1h.8M222.7 540.0h.8M223.0 540.0h.8M223.3 539.7h.8" stroke="#375ae8" stroke-width=".8" fill="none"/>
<path d="M216.9 556.3h.8M210.1 557.9h.8M209.7 558.3h.8M210.6 557.3h.8M212.0 557.9h.8M211.6 557.4h.8M217.1 536.4h.8M216.9 536.3h.8M217.1 536.8h.8M219.1 553.5h.8M218.5 553.6h.8M215.7 557.4h.8M222.5 547.9h.8M222.1 548.2h.8M221.8 547.4h.8M208.7 550.4h.8M209.5 551.3h.8M220.3 550.6h.8M218.8 552.5h.8M219.6 535.3h.8M220.0 534.4h.8M220.5 535.3h.8M220.1 534.7h.8M211.8 545.8h.8M211.8 545.8h.8M212.1 545.5h.8M212.1 545.9h.8M212.1 546.0h.8M221.9 546.5h.8M209.3 555.6h.8M209.2 555.4h.8M208.7 556.1h.8M223.0 537.3h.8M223.0 537.8h.8M222.3 546.2h.8M222.3 545.6h.8M221.7 545.3h.8M212.9 558.3h.8M213.4 557.3h.8M210.3 548.9h.8M210.0 549.0h.8M209.5 549.0h.8M221.3 549.7h.8M220.7 549.7h.8M221.3 549.7h.8M221.0 549.7h.8M222.7 539.1h.8M222.9 538.5h.8M222.8 538.5h.8M219.3 551.5h.8M221.0 534.8h.8M221.2 535.2h.8M218.0 555.1h.8M217.6 555.1h.8M218.5 554.5h.8M218.0 554.8h.8M209.4 551.9h.8M210.7 547.6h.8M209.3 555.2h.8M209.2 555.3h.8M208.9 554.9h.8M209.0 555.2h.8M217.3 556.3h.8M216.8 556.1h.8M216.6 555.9h.8M215.5 558.0h.8M215.2 558.0h.8M215.2 558.2h.8M214.4 558.1h.8M214.5 558.0h.8M214.2 557.7h.8M213.7 557.3h.8M209.8 557.0h.8M209.6 556.5h.8M209.7 556.9h.8M209.9 556.7h.8M208.5 554.1h.8M209.1 553.7h.8M209.1 553.5h.8M209.0 552.4h.8M208.9 552.8h.8M209.5 553.0h.8M222.2 544.7h.8M221.9 544.6h.8M210.8 556.3h.8M210.7 556.5h.8M210.8 556.5h.8M222.0 535.9h.8M219.4 535.7h.8M219.4 536.2h.8M216.2 556.6h.8M216.2 557.2h.8M216.3 556.5h.8M215.7 557.1h.8M216.0 557.3h.8M216.0 556.4h.8M218.5 553.4h.8M218.4 554.0h.8M217.6 553.6h.8M217.9 554.0h.8M218.0 554.0h.8M212.0 556.4h.8M212.3 556.9h.8M216.8 554.6h.8M217.0 554.7h.8M216.5 555.2h.8M213.7 542.4h.8M213.7 542.7h.8M213.7 542.7h.8M212.3 547.0h.8M210.1 556.3h.8M209.6 556.3h.8M218.4 553.2h.8M218.0 552.5h.8M218.0 552.9h.8M212.5 544.7h.8M216.3 556.2h.8M212.8 557.2h.8M213.4 556.5h.8M212.9 556.3h.8M212.7 557.0h.8" stroke="#3177e5" stroke-width=".8" fill="none"/>
<path d="M216.5 553.5h.8M216.8 554.0h.8M210.3 554.9h.8M209.7 555.1h.8M210.0 554.9h.8M221.7 544.1h.8M210.4 551.1h.8M210.4 550.5h.8M215.8 539.1h.8M215.7 538.9h.8M221.8 540.8h.8M211.2 556.0h.8M211.0 555.4h.8M218.5 537.1h.8M215.5 557.1h.8M214.9 556.5h.8M214.9 556.6h.8M214.6 556.7h.8M216.3 553.6h.8M210.1 553.2h.8M209.7 553.2h.8M209.6 551.5h.8M209.9 551.6h.8M209.5 551.5h.8M210.0 551.5h.8M210.1 551.6h.8M219.2 551.0h.8M219.2 551.1h.8M217.8 552.0h.8M213.5 556.8h.8M213.7 557.0h.8M214.8 540.9h.8M214.6 541.0h.8M210.9 548.3h.8M211.3 549.1h.8M211.4 549.2h.8M222.4 542.3h.8M221.7 542.0h.8M221.8 541.4h.8M221.9 537.0h.8M221.7 536.8h.8M221.9 536.6h.8M222.3 537.0h.8M211.8 556.2h.8M211.5 555.6h.8M212.1 556.2h.8M217.3 552.7h.8M217.1 552.5h.8M217.2 552.5h.8M217.4 552.4h.8M221.5 539.5h.8M221.9 539.6h.8M220.0 535.9h.8M220.5 535.4h.8M221.6 543.2h.8M222.4 542.4h.8M221.6 542.7h.8M222.0 543.2h.8M221.1 536.0h.8M220.9 535.7h.8M220.9 535.6h.8M220.9 535.7h.8M220.6 535.8h.8M217.4 538.1h.8M216.6 537.7h.8M220.6 548.7h.8M220.7 548.9h.8M215.4 555.3h.8M215.0 556.1h.8M214.7 554.0h.8M215.4 554.1h.8M210.7 554.4h.8M210.7 554.5h.8M211.5 554.7h.8M210.9 554.9h.8M215.3 554.6h.8M215.2 554.9h.8M215.4 555.2h.8M215.1 554.9h.8M214.9 554.8h.8M212.8 555.8h.8M213.2 555.3h.8M216.5 553.2h.8M216.5 552.4h.8M215.7 552.4h.8M216.1 552.8h.8M220.5 549.9h.8M219.7 549.6h.8M219.7 550.0h.8M220.0 549.6h.8M211.2 553.4h.8M210.9 553.6h.8M211.2 553.5h.8M211.4 554.0h.8M210.7 553.9h.8M212.0 554.9h.8M212.4 554.8h.8M222.0 538.9h.8M221.9 538.9h.8M222.3 539.1h.8M221.7 539.0h.8M222.3 538.6h.8M222.3 538.8h.8M214.5 555.9h.8M214.2 555.6h.8M214.2 556.1h.8M214.4 556.0h.8M222.2 537.7h.8M222.0 538.3h.8M212.2 547.9h.8M212.5 547.9h.8M214.2 553.6h.8M213.9 554.0h.8M214.3 553.5h.8M213.9 553.9h.8M214.3 553.4h.8M214.1 554.1h.8M214.3 553.7h.8M212.6 554.9h.8M213.3 554.4h.8M213.8 554.6h.8M214.0 555.1h.8M214.2 554.5h.8M211.6 554.2h.8M212.0 553.4h.8M212.1 553.4h.8M212.5 553.4h.8M212.7 553.8h.8M212.8 554.1h.8M211.4 552.4h.8M215.5 553.1h.8M215.0 552.8h.8M213.4 545.5h.8M212.6 545.8h.8M213.2 545.8h.8M212.9 545.8h.8M213.3 545.9h.8M216.7 551.7h.8M216.9 551.6h.8M216.7 551.6h.8M211.8 553.3h.8M211.5 552.4h.8M212.0 553.1h.8M212.0 552.6h.8M211.1 549.4h.8M211.2 549.9h.8M211.3 549.7h.8M211.2 550.2h.8M210.5 549.8h.8M211.4 549.6h.8M218.6 536.9h.8M218.5 536.5h.8M218.7 537.0h.8M219.2 536.5h.8M218.9 536.8h.8M219.3 536.8h.8M210.6 551.9h.8M210.9 551.9h.8M210.6 551.7h.8M210.7 552.2h.8M211.2 551.4h.8M210.6 552.3h.8M214.2 543.9h.8" stroke="#2b94e2" stroke-width=".8" fill="none"/>
<path d="M220.9 547.7h.8M220.5 548.0h.8M220.9 548.1h.8M221.2 548.1h.8M220.7 548.0h.8M211.0 551.1h.8M220.6 536.9h.8M220.8 537.3h.8M221.3 536.5h.8M221.0 537.2h.8M220.8 537.3h.8M221.5 536.8h.8M221.2 536.8h.8M220.8 537.1h.8M215.1 541.9h.8M220.6 546.8h.8M221.4 546.8h.8M220.8 546.5h.8M220.8 546.3h.8M220.7 546.9h.8M218.5 550.7h.8M217.7 550.5h.8M217.8 551.2h.8M218.1 550.6h.8M217.8 551.1h.8M217.7 550.7h.8M219.7 537.2h.8M219.7 537.1h.8M219.7 537.2h.8M211.7 551.9h.8M212.0 551.5h.8M216.1 539.8h.8M216.5 540.1h.8M217.5 538.0h.8M218.4 537.9h.8M217.7 538.1h.8M218.2 538.3h.8M218.3 538.2h.8M217.9 537.5h.8M220.8 538.4h.8M220.8 538.9h.8M221.1 538.6h.8M221.0 538.6h.8M221.4 539.6h.8M220.9 539.4h.8M220.9 540.2h.8M221.2 537.4h.8M221.3 537.6h.8M221.1 537.9h.8M211.6 548.8h.8M212.0 549.2h.8M213.2 546.5h.8M213.1 552.1h.8M212.7 552.0h.8M214.5 552.3h.8M214.6 551.4h.8M214.1 551.5h.8M213.6 551.6h.8M214.5 551.9h.8M213.7 551.5h.8M213.9 551.7h.8M213.9 551.6h.8M221.1 544.3h.8M221.0 544.6h.8M217.5 538.4h.8M219.5 549.9h.8M220.8 540.9h.8M220.7 540.8h.8M212.1 550.8h.8M211.8 551.2h.8M211.7 550.7h.8M212.2 550.3h.8M212.0 550.6h.8M219.8 537.8h.8M220.3 537.7h.8M219.2 537.8h.8M219.5 537.9h.8" stroke="#2badd3" stroke-width=".8" fill="none"/>
<path d="M211.9 549.3h.8M212.0 549.3h.8M211.9 549.9h.8M211.8 549.8h.8M211.5 549.8h.8M211.6 549.9h.8M219.8 548.8h.8M220.1 548.5h.8M219.9 548.4h.8M216.6 550.7h.8M216.7 551.2h.8M216.6 550.6h.8M213.6 545.1h.8M213.9 545.0h.8M214.5 545.1h.8M213.6 544.7h.8M215.2 543.3h.8M215.1 542.4h.8M215.5 542.7h.8M215.0 542.7h.8M220.1 538.4h.8M220.2 539.2h.8M220.8 543.8h.8M220.7 543.8h.8M220.6 543.4h.8M220.6 543.6h.8M212.9 548.2h.8M213.5 547.7h.8M212.6 547.8h.8M221.1 542.0h.8M221.4 541.9h.8M221.0 541.5h.8M220.7 541.5h.8M212.5 551.2h.8M212.5 551.0h.8M213.4 550.4h.8M221.1 543.0h.8M220.8 542.3h.8M221.2 542.9h.8M221.2 542.4h.8M220.5 539.9h.8M220.4 539.9h.8M216.0 541.1h.8M216.3 540.8h.8M216.0 540.7h.8M216.1 540.7h.8M218.1 539.1h.8M218.5 539.1h.8M218.0 538.7h.8M217.7 538.6h.8M217.6 539.0h.8M218.8 538.9h.8M219.3 538.5h.8M218.5 539.0h.8M219.1 539.3h.8M218.7 539.3h.8M218.6 539.1h.8M218.8 539.1h.8M215.6 551.3h.8M216.0 550.6h.8M216.4 550.9h.8" stroke="#37bba2" stroke-width=".8" fill="none"/>
<path d="M218.0 549.6h.8M217.6 549.9h.8M217.9 549.8h.8M217.6 549.4h.8M220.2 548.3h.8M220.3 547.5h.8M220.4 547.4h.8M219.8 547.9h.8M214.2 545.6h.8M213.0 548.6h.8M213.0 549.2h.8M213.2 548.9h.8M213.4 548.6h.8M214.1 551.2h.8M214.0 551.1h.8M214.3 550.3h.8M213.7 550.9h.8M214.4 550.8h.8M213.9 550.5h.8M212.6 550.2h.8M212.7 549.4h.8M214.7 551.0h.8M215.0 551.1h.8M215.1 551.2h.8M215.0 551.1h.8M217.1 539.8h.8M217.2 540.0h.8M217.2 540.1h.8M216.9 539.9h.8M216.7 540.3h.8M217.0 539.5h.8M217.1 540.2h.8M214.8 543.4h.8M215.4 543.7h.8M215.2 543.9h.8M218.7 548.6h.8M219.0 548.6h.8M219.0 548.8h.8M219.1 549.0h.8M219.7 541.1h.8M220.2 540.6h.8M219.9 540.5h.8M220.0 541.1h.8M220.4 540.4h.8M214.3 547.1h.8M214.5 547.2h.8M218.6 539.6h.8M219.2 540.2h.8M216.3 541.9h.8M216.4 541.9h.8M216.4 542.2h.8M216.1 542.3h.8M215.9 541.9h.8M216.0 542.1h.8M215.7 541.5h.8" stroke="#42c971" stroke-width=".8" fill="none"/>
<path d="M220.3 546.0h.8M220.3 545.6h.8M220.0 545.8h.8M220.0 545.7h.8M219.8 546.2h.8M216.7 549.7h.8M218.4 539.5h.8M218.2 539.5h.8M218.0 540.2h.8M217.9 539.3h.8M217.6 540.0h.8M217.9 539.8h.8M218.0 539.9h.8M213.6 549.6h.8M213.8 549.4h.8M214.3 549.6h.8M214.3 549.6h.8M213.5 549.4h.8M219.8 545.2h.8M219.7 544.8h.8M214.2 547.8h.8M213.6 548.2h.8M213.8 547.9h.8M213.8 548.1h.8M213.9 547.7h.8M214.4 547.8h.8M213.6 547.7h.8M215.4 545.0h.8M214.8 544.6h.8M215.2 544.5h.8M215.2 545.3h.8M215.1 544.5h.8M214.6 544.5h.8M215.3 544.4h.8M215.5 544.7h.8M214.8 544.9h.8M215.2 544.4h.8M215.0 544.8h.8M216.4 549.9h.8M216.0 550.2h.8M215.7 550.3h.8M216.3 549.8h.8M216.4 549.8h.8M216.1 549.3h.8M216.3 542.3h.8M216.4 542.9h.8M216.1 542.8h.8M215.7 542.7h.8M219.6 541.7h.8M220.2 541.4h.8M219.7 541.9h.8M219.6 541.8h.8M213.8 548.7h.8M214.2 548.8h.8M214.0 548.5h.8M213.6 549.1h.8M213.5 548.9h.8M214.2 548.7h.8M214.3 549.2h.8M214.5 548.3h.8" stroke="#6ed255" stroke-width=".8" fill="none"/>
<path d="M218.2 549.1h.8M218.4 549.3h.8M218.4 548.8h.8M218.5 548.9h.8M217.5 548.6h.8M218.4 548.8h.8M218.4 548.4h.8M217.2 540.5h.8M216.6 541.2h.8M217.1 540.4h.8M217.2 541.0h.8M216.7 541.3h.8M217.1 540.5h.8M215.1 549.9h.8M215.1 550.0h.8M215.2 550.2h.8M215.2 550.0h.8M215.5 550.0h.8M215.3 549.6h.8M215.2 550.3h.8M214.7 550.2h.8M218.7 547.7h.8M219.3 547.9h.8M218.9 547.8h.8M219.5 547.4h.8M219.0 548.3h.8M218.7 547.5h.8M218.8 547.7h.8M219.1 548.1h.8M220.3 544.3h.8M220.3 543.6h.8M219.7 543.4h.8M220.3 544.2h.8M219.9 544.1h.8M219.9 542.5h.8M220.2 542.7h.8M220.2 542.9h.8M219.7 542.8h.8M219.7 542.8h.8M219.0 540.3h.8M218.6 540.8h.8M218.7 540.3h.8M215.2 545.8h.8M215.2 545.6h.8M214.9 545.5h.8M214.5 546.1h.8M215.4 546.0h.8M215.5 545.4h.8M215.4 545.9h.8M214.6 546.0h.8M216.1 543.6h.8M216.2 543.7h.8M217.4 548.8h.8M216.9 548.3h.8M216.6 548.5h.8M217.3 548.9h.8M217.5 549.2h.8" stroke="#a7da42" stroke-width=".8" fill="none"/>
<path d="M219.0 546.5h.8M218.5 547.0h.8M219.0 546.5h.8M219.2 547.2h.8M218.9 547.0h.8M219.3 547.2h.8M218.8 547.0h.8M219.3 547.1h.8M218.4 540.4h.8M218.2 541.2h.8M217.6 541.1h.8M218.0 540.7h.8M218.2 540.9h.8M214.9 546.7h.8M215.0 547.2h.8M215.5 546.3h.8M215.4 546.4h.8M215.4 546.7h.8M214.9 547.2h.8M214.9 548.7h.8M215.2 548.5h.8M214.7 549.1h.8M214.9 548.9h.8M215.3 548.3h.8M215.3 549.0h.8M215.0 548.7h.8M215.1 548.3h.8M214.5 548.3h.8M215.2 547.4h.8M214.8 547.5h.8M216.9 542.0h.8M217.0 541.5h.8M216.6 541.7h.8M217.0 541.4h.8M217.3 542.3h.8M217.1 541.9h.8M216.9 541.7h.8M217.0 541.7h.8M215.6 548.6h.8M216.2 548.7h.8M216.2 548.9h.8M215.7 548.7h.8M215.9 548.9h.8M215.8 549.2h.8M216.4 548.6h.8M216.2 548.9h.8M218.3 547.9h.8M218.4 547.4h.8M218.4 547.8h.8M217.8 548.2h.8M217.6 547.9h.8M217.8 547.6h.8M218.2 548.1h.8M217.9 547.5h.8M217.9 548.1h.8M217.8 547.4h.8M219.0 545.6h.8M219.3 545.8h.8M218.9 546.0h.8M219.3 546.1h.8M219.3 546.0h.8M218.5 546.3h.8M219.1 545.7h.8M215.8 545.0h.8M215.6 544.3h.8M215.8 544.8h.8M216.3 544.4h.8M219.2 542.0h.8M218.6 542.1h.8M219.2 541.7h.8M218.5 542.0h.8M219.3 541.4h.8M219.2 542.0h.8M218.9 542.1h.8M218.7 542.3h.8M219.2 541.8h.8M219.5 541.9h.8M219.1 542.0h.8M219.0 542.1h.8M218.6 541.9h.8" stroke="#d8db31" stroke-width=".8" fill="none"/>
<path d="M218.5 544.7h.8M218.8 544.6h.8M218.7 545.3h.8M219.4 544.3h.8M219.1 544.7h.8M218.8 545.0h.8M218.6 545.0h.8M217.2 543.1h.8M216.6 543.1h.8M216.8 542.6h.8M216.9 543.1h.8M217.1 543.3h.8M215.8 547.7h.8M215.9 547.4h.8M215.9 547.9h.8M216.1 548.0h.8M215.7 547.8h.8M216.5 548.0h.8M216.3 548.1h.8M216.0 547.9h.8M216.3 547.6h.8M217.4 547.9h.8M216.6 548.1h.8M216.9 547.5h.8M216.3 545.6h.8M215.8 546.0h.8M216.3 545.5h.8M215.7 545.7h.8M215.6 545.4h.8M217.8 542.2h.8M218.2 542.2h.8M218.1 541.5h.8M218.1 542.2h.8M218.2 541.5h.8M217.6 542.3h.8M217.9 542.1h.8M218.4 541.9h.8M217.5 541.4h.8M215.9 547.0h.8M216.0 547.0h.8M216.3 547.1h.8M215.8 546.8h.8M216.0 546.3h.8M215.5 547.1h.8M215.5 547.0h.8M215.6 547.0h.8M219.3 543.8h.8M218.7 543.8h.8M219.0 543.7h.8M219.4 543.6h.8M219.4 543.4h.8M218.7 543.9h.8M219.3 543.5h.8M218.8 543.9h.8M219.0 543.8h.8M218.4 546.8h.8M217.7 546.4h.8M217.8 546.6h.8M218.9 542.4h.8M219.5 543.3h.8M219.5 542.4h.8M219.0 543.3h.8M218.6 543.1h.8M219.1 542.8h.8M219.0 542.7h.8M216.5 543.3h.8M217.4 544.1h.8M216.7 543.8h.8M217.1 543.5h.8M217.2 543.5h.8M217.3 544.1h.8M216.5 543.9h.8" stroke="#e3ba2c" stroke-width=".8" fill="none"/>
<path d="M216.8 546.7h.8M216.7 546.7h.8M216.8 546.7h.8M217.2 546.4h.8M217.0 546.7h.8M216.5 547.2h.8M216.6 547.3h.8M218.5 546.0h.8M218.1 545.4h.8M217.6 545.9h.8M218.0 545.7h.8M217.8 545.5h.8M218.0 546.2h.8M218.4 546.2h.8M217.7 546.2h.8M217.6 542.7h.8M218.5 542.3h.8M218.1 542.8h.8M218.4 542.5h.8M218.0 543.3h.8M217.6 542.7h.8M217.6 543.2h.8M217.7 542.6h.8M216.7 545.2h.8M217.0 544.9h.8M216.8 544.5h.8M216.9 544.8h.8M217.2 544.6h.8M217.2 545.2h.8M216.7 545.0h.8M217.4 545.3h.8M216.9 544.4h.8M217.3 544.4h.8M217.1 545.0h.8M217.4 545.9h.8M217.5 545.6h.8M217.0 546.2h.8M217.1 545.4h.8M217.0 545.7h.8M217.4 545.6h.8M216.5 545.6h.8M218.2 544.5h.8M217.6 544.5h.8M217.8 544.5h.8M218.4 545.1h.8M217.7 544.5h.8M218.1 545.2h.8M218.4 544.7h.8M218.1 544.5h.8M217.8 545.1h.8M218.4 544.7h.8M217.8 543.7h.8M218.0 543.9h.8M218.4 543.6h.8M218.3 543.5h.8M217.7 543.9h.8M218.1 543.9h.8" stroke="#ef9828" stroke-width=".8" fill="none"/>
<rect x="143.5" y="513.3" width="88.0" height="87.5" fill="none" stroke="#888" stroke-width="0.8"/>
<polyline points="143.5,533.3 231.5,533.3" fill="none" stroke="#555" stroke-width="0.8"/>
<polyline points="199.6,513.3 199.6,552.9 231.5,552.9" fill="none" stroke="#555" stroke-width="0.8"/>
<text x="160.2" y="541.8" font-size="6.3" text-anchor="middle" fill="#000" font-weight="bold">M-MDSC</text>
<text x="160.6" y="549.6" font-size="6.3" text-anchor="middle" fill="#000" font-weight="bold">1.85%</text>
<text x="212.8" y="572.8" font-size="6.3" text-anchor="middle" fill="#000" font-weight="bold">PMN-MDSC</text>
<text x="212.3" y="580.3" font-size="6.3" text-anchor="middle" fill="#000" font-weight="bold">14.5%</text>
<text x="186.3" y="511.4" font-size="7.1" text-anchor="middle" fill="#000" font-weight="bold" textLength="25" lengthAdjust="spacingAndGlyphs">Control</text>
<path d="M161.5 647.6h.8M194.8 701.8h.8M213.5 699.0h.8M151.8 646.7h.8M169.7 640.3h.8M225.6 697.6h.8M147.3 652.1h.8M146.6 665.1h.8M164.1 637.7h.8M146.4 680.8h.8M225.5 639.9h.8M220.5 631.7h.8M223.1 664.0h.8M198.6 624.5h.8M195.1 638.5h.8M182.2 631.4h.8M186.0 628.6h.8M182.3 700.4h.8M171.1 691.4h.8M160.0 654.3h.8M156.4 652.8h.8M149.0 687.0h.8M195.3 690.6h.8M152.7 687.2h.8M191.0 690.8h.8M162.1 691.9h.8M221.9 645.1h.8M166.2 692.8h.8M173.2 659.4h.8M206.0 698.8h.8M216.7 689.3h.8M219.1 692.2h.8M202.8 700.4h.8M174.3 653.7h.8M169.7 656.2h.8M214.2 637.2h.8M188.6 650.4h.8M157.6 682.1h.8M159.4 666.8h.8M222.0 651.4h.8M175.7 650.8h.8M161.1 680.9h.8M212.6 622.7h.8M191.2 643.8h.8M207.5 631.4h.8M225.9 649.6h.8M169.4 662.7h.8M225.7 652.1h.8M217.8 636.1h.8M211.0 632.7h.8M168.1 659.6h.8M201.3 670.9h.8M174.4 701.5h.8M194.0 643.0h.8M208.5 671.3h.8M218.4 642.7h.8M187.7 685.4h.8M217.9 639.5h.8M164.9 687.3h.8M189.4 700.6h.8M187.7 702.2h.8M201.9 635.8h.8M211.7 639.8h.8M204.0 634.6h.8M177.0 688.5h.8M147.3 697.0h.8M148.5 696.9h.8M208.7 635.6h.8M207.2 636.2h.8M188.0 678.4h.8M164.4 684.5h.8M185.5 677.7h.8M176.7 699.0h.8M183.8 643.3h.8M190.0 681.7h.8M184.3 655.3h.8M180.5 682.8h.8M177.2 701.6h.8M175.6 645.5h.8M214.9 659.1h.8M219.4 649.7h.8M169.4 676.2h.8M168.5 649.9h.8M168.3 650.9h.8M179.1 648.7h.8M163.0 675.7h.8M181.6 651.4h.8M179.5 657.1h.8M181.7 690.6h.8M173.7 687.8h.8M167.4 685.6h.8M158.2 670.8h.8M182.2 643.6h.8M201.8 667.8h.8M183.0 650.5h.8M197.4 646.0h.8M182.7 679.8h.8M181.9 656.1h.8M185.5 687.9h.8M166.6 679.0h.8M188.7 673.5h.8M195.5 647.4h.8M214.7 666.2h.8M183.6 690.8h.8M177.2 666.4h.8M170.2 666.7h.8M157.4 671.9h.8M197.6 629.1h.8M156.0 671.1h.8M163.9 674.2h.8M181.3 659.3h.8M218.3 663.4h.8M217.8 646.4h.8M207.9 664.0h.8M183.9 673.8h.8M192.6 650.5h.8M186.9 682.8h.8M180.3 644.0h.8M173.9 679.9h.8M205.5 670.1h.8M205.8 670.0h.8M168.5 683.8h.8M199.9 630.7h.8M170.4 678.9h.8M194.3 657.2h.8M170.0 680.4h.8M177.0 661.5h.8M180.1 683.9h.8M171.3 666.6h.8M174.5 664.0h.8M175.6 664.4h.8M204.1 641.6h.8M198.2 644.6h.8M178.2 685.8h.8M177.9 680.3h.8M172.9 665.1h.8M175.7 685.5h.8M180.5 686.3h.8M187.8 682.4h.8M196.6 670.9h.8M211.1 664.4h.8M165.7 672.8h.8M185.2 665.4h.8M191.1 660.8h.8M166.0 682.5h.8M215.8 662.0h.8M209.9 621.6h.8M186.2 648.4h.8M212.6 664.8h.8M199.3 630.7h.8M193.5 649.6h.8M188.2 654.9h.8M183.2 687.2h.8M213.7 665.6h.8M182.3 687.6h.8M178.4 645.8h.8M178.7 646.8h.8M171.6 685.6h.8M213.9 643.2h.8M217.2 661.9h.8M180.9 677.9h.8M216.2 645.5h.8M166.8 681.2h.8M192.6 654.2h.8M209.0 620.8h.8M208.5 620.6h.8M205.7 664.0h.8M176.5 678.7h.8M197.8 670.0h.8M185.4 647.7h.8M184.8 647.7h.8M176.4 680.8h.8M181.2 665.4h.8M217.6 654.0h.8M188.4 658.4h.8M185.1 658.5h.8M179.8 663.4h.8M167.4 673.9h.8" stroke="#768cf2" stroke-width=".8" fill="none"/>
<path d="M215.9 648.6h.8M202.0 642.8h.8M215.8 650.1h.8M198.0 668.7h.8M196.2 649.9h.8M202.9 643.9h.8M215.8 655.3h.8M197.4 656.8h.8M191.7 655.1h.8M184.3 668.1h.8M216.3 647.3h.8M181.2 666.1h.8M189.3 655.3h.8M177.6 661.9h.8M178.9 662.4h.8M182.1 677.0h.8M176.4 679.9h.8M173.0 683.1h.8M200.6 648.9h.8M192.2 658.1h.8M212.9 656.0h.8M212.8 651.3h.8M191.0 671.3h.8M194.6 654.6h.8M183.0 663.3h.8M173.5 670.4h.8M206.9 640.8h.8M218.3 652.8h.8M204.0 665.0h.8M182.6 670.4h.8M175.4 668.5h.8M173.7 684.6h.8M181.0 670.4h.8M200.2 644.3h.8M180.0 668.6h.8M200.5 643.3h.8M185.3 671.4h.8M181.9 675.7h.8M181.7 675.3h.8M179.0 676.4h.8M190.1 657.9h.8M173.1 684.6h.8M206.8 659.7h.8M197.4 668.2h.8M168.0 671.8h.8M188.6 671.2h.8M215.3 653.7h.8M203.8 658.2h.8M200.6 642.8h.8M204.2 661.3h.8M187.1 671.6h.8M175.2 676.0h.8M170.7 671.6h.8M205.6 640.9h.8M194.7 661.2h.8M175.8 676.2h.8M190.0 656.6h.8M168.5 673.7h.8M186.8 664.7h.8M204.8 656.5h.8M201.4 647.6h.8M197.1 652.0h.8M215.7 654.6h.8M169.9 673.0h.8M190.8 656.9h.8M180.7 668.0h.8M205.7 656.9h.8M212.4 660.0h.8M181.3 669.3h.8M186.9 663.5h.8M185.3 669.5h.8M205.9 658.8h.8M199.5 658.1h.8M203.4 657.7h.8M185.7 659.8h.8M201.3 659.9h.8M191.8 670.4h.8M200.2 654.5h.8M216.9 652.5h.8M173.4 672.2h.8M215.6 651.9h.8M199.5 665.0h.8M199.7 665.3h.8M197.5 663.8h.8M198.4 664.3h.8M194.4 662.0h.8M198.5 663.6h.8M204.3 664.6h.8M194.6 667.1h.8M194.6 666.9h.8M210.5 662.5h.8M170.7 672.8h.8M194.1 670.3h.8M198.5 661.1h.8M196.4 653.6h.8M170.4 672.1h.8M208.3 658.7h.8M182.9 661.7h.8M182.6 661.1h.8M191.4 668.6h.8M202.4 660.3h.8M193.4 670.5h.8M200.6 661.4h.8M185.6 669.9h.8M179.4 675.6h.8M209.5 661.4h.8M190.7 667.4h.8M211.9 659.6h.8M204.5 663.5h.8M195.3 663.1h.8M208.8 641.5h.8M212.3 658.4h.8M178.5 673.7h.8M180.1 673.6h.8M179.7 673.4h.8M194.8 669.7h.8M196.2 652.7h.8M196.4 652.0h.8M175.0 675.8h.8M203.0 661.4h.8M197.5 659.9h.8M196.6 660.7h.8M197.0 660.8h.8M211.8 655.6h.8M194.2 665.3h.8M193.7 665.1h.8M175.6 669.3h.8" stroke="#5c77ee" stroke-width=".8" fill="none"/>
<path d="M201.5 664.8h.8M174.0 672.9h.8M189.5 663.4h.8M193.8 668.8h.8M175.5 673.4h.8M199.3 656.9h.8M179.2 674.0h.8M193.5 663.0h.8M189.0 664.7h.8M186.2 660.5h.8M202.2 647.2h.8M187.4 668.1h.8M209.7 644.5h.8M209.7 661.8h.8M210.2 660.9h.8M185.0 661.8h.8M202.1 648.2h.8M202.3 663.2h.8M202.1 662.8h.8M174.6 674.2h.8M190.5 663.0h.8M198.9 656.0h.8M199.2 656.8h.8M176.3 671.7h.8M188.6 665.6h.8M183.6 661.2h.8M190.0 666.6h.8M200.1 655.5h.8M201.2 656.4h.8M185.9 661.1h.8M186.4 661.0h.8M174.7 673.2h.8M202.1 652.9h.8M188.9 668.9h.8M175.4 669.9h.8M176.4 670.4h.8M175.7 670.0h.8M209.2 642.6h.8M208.9 642.8h.8M203.0 655.7h.8M210.2 659.6h.8M188.4 667.7h.8M188.4 667.5h.8M188.4 669.7h.8M201.7 655.1h.8M202.6 647.0h.8M209.7 658.6h.8M191.5 663.8h.8M191.8 664.2h.8M207.2 642.1h.8M188.9 668.8h.8M190.7 664.1h.8M212.6 645.6h.8M213.3 644.9h.8M213.3 644.9h.8M203.8 647.0h.8M202.7 653.9h.8M210.1 657.0h.8M207.6 642.4h.8M204.5 653.5h.8M203.1 652.0h.8M203.1 652.7h.8M212.0 648.9h.8M204.4 648.5h.8M210.6 645.0h.8M204.3 650.2h.8M212.0 645.7h.8" stroke="#4968eb" stroke-width=".8" fill="none"/>
<path d="M205.4 648.5h.8M204.4 652.9h.8M210.1 656.1h.8M209.6 656.5h.8M207.6 654.4h.8M211.3 652.2h.8M205.4 649.2h.8M211.3 652.9h.8M204.5 651.6h.8M207.8 648.8h.8M212.2 648.6h.8M207.3 647.2h.8M205.2 652.8h.8M210.3 655.4h.8M209.4 646.6h.8M212.0 647.7h.8M206.3 646.1h.8M205.7 650.5h.8M206.2 650.2h.8M210.8 649.5h.8M205.8 645.4h.8M205.9 645.3h.8M209.2 649.4h.8M207.3 644.7h.8M206.9 644.4h.8M209.0 654.0h.8M208.3 646.0h.8M208.9 648.6h.8M209.6 654.3h.8M209.6 654.4h.8" stroke="#375ae8" stroke-width=".8" fill="none"/>
<path d="M209.8 651.1h.8M209.7 651.1h.8M209.2 650.2h.8M205.9 651.2h.8M209.7 652.4h.8M210.1 647.2h.8M207.4 652.1h.8M211.0 648.2h.8M210.6 647.7h.8M211.1 646.9h.8M210.0 648.7h.8M207.4 645.6h.8M206.6 645.3h.8M206.9 645.1h.8M206.7 650.9h.8M209.2 653.5h.8M208.2 651.5h.8M207.7 652.7h.8M208.0 651.8h.8M207.5 652.2h.8" stroke="#3177e5" stroke-width=".8" fill="none"/>
<rect x="144.5" y="618.8" width="85.0" height="85.0" fill="none" stroke="#888" stroke-width="0.8"/>
<polyline points="144.5,638 229.5,638" fill="none" stroke="#555" stroke-width="0.8"/>
<polyline points="198.8,618.8 198.8,657.5 229.5,657.5" fill="none" stroke="#555" stroke-width="0.8"/>
<text x="160.5" y="626.2" font-size="6.3" text-anchor="middle" fill="#000" font-weight="bold">M-MDSC</text>
<text x="160.5" y="633.7" font-size="6.3" text-anchor="middle" fill="#000" font-weight="bold">0.07%</text>
<text x="209.5" y="680.2" font-size="6.3" text-anchor="middle" fill="#000" font-weight="bold">PMN-MDSC</text>
<text x="209.5" y="687.7" font-size="6.3" text-anchor="middle" fill="#000" font-weight="bold">1.17%</text>
<text x="187" y="616.8" font-size="7.0" text-anchor="middle" fill="#000" font-weight="bold" textLength="57.5" lengthAdjust="spacingAndGlyphs">IL-12 + trabectedin</text>
<line x1="21.4" y1="522.5" x2="21.4" y2="690" stroke="#000" stroke-width="0.9"/>
<path d="M21.4 519.5 L23.2 524 L19.6 524 Z" fill="#000"/>
<line x1="131.3" y1="522.5" x2="131.3" y2="688" stroke="#000" stroke-width="0.9"/>
<path d="M131.3 519.2 L133.1 523.7 L129.5 523.7 Z" fill="#000"/>
<text x="0" y="0" font-size="6.8" font-weight="bold" text-anchor="middle" transform="translate(24.8 702.5) rotate(-90)" textLength="11.5" lengthAdjust="spacingAndGlyphs">SSC</text>
<text x="0" y="0" font-size="6.8" font-weight="bold" text-anchor="middle" transform="translate(134.8 701.2) rotate(-90)" textLength="13" lengthAdjust="spacingAndGlyphs">Ly6C</text>
<text x="26.2" y="722" font-size="6.8" text-anchor="start" fill="#000" font-weight="bold" textLength="20" lengthAdjust="spacingAndGlyphs">CD11b</text>
<line x1="51.5" y1="719.5" x2="118" y2="719.5" stroke="#000" stroke-width="0.9"/>
<path d="M121.3 719.5 L116.8 717.7 L116.8 721.3 Z" fill="#000"/>
<text x="142" y="722.4" font-size="6.8" text-anchor="start" fill="#000" font-weight="bold" textLength="15.5" lengthAdjust="spacingAndGlyphs">Ly6G</text>
<line x1="164" y1="720" x2="230.5" y2="720" stroke="#000" stroke-width="0.9"/>
<path d="M233.8 720 L229.3 718.2 L229.3 721.8 Z" fill="#000"/>
<line x1="33.800000000000004" y1="599.8" x2="35.6" y2="599.8" stroke="#444" stroke-width="0.5"/>
<text x="33.300000000000004" y="601.0999999999999" font-size="3.7" text-anchor="end" fill="#222" font-weight="normal">0</text>
<line x1="33.800000000000004" y1="583.4499999999999" x2="35.6" y2="583.4499999999999" stroke="#444" stroke-width="0.5"/>
<text x="33.300000000000004" y="584.7499999999999" font-size="3.7" text-anchor="end" fill="#222" font-weight="normal">50K</text>
<line x1="33.800000000000004" y1="567.0999999999999" x2="35.6" y2="567.0999999999999" stroke="#444" stroke-width="0.5"/>
<text x="33.300000000000004" y="568.3999999999999" font-size="3.7" text-anchor="end" fill="#222" font-weight="normal">100K</text>
<line x1="33.800000000000004" y1="550.75" x2="35.6" y2="550.75" stroke="#444" stroke-width="0.5"/>
<text x="33.300000000000004" y="552.05" font-size="3.7" text-anchor="end" fill="#222" font-weight="normal">150K</text>
<line x1="33.800000000000004" y1="534.4" x2="35.6" y2="534.4" stroke="#444" stroke-width="0.5"/>
<text x="33.300000000000004" y="535.6999999999999" font-size="3.7" text-anchor="end" fill="#222" font-weight="normal">200K</text>
<line x1="33.800000000000004" y1="518.05" x2="35.6" y2="518.05" stroke="#444" stroke-width="0.5"/>
<text x="33.300000000000004" y="519.3499999999999" font-size="3.7" text-anchor="end" fill="#222" font-weight="normal">250K</text>
<line x1="42.5" y1="599.8" x2="42.5" y2="601.4" stroke="#222" stroke-width="0.6"/>
<text x="42.5" y="606.8" font-size="3.9" text-anchor="middle" fill="#222" font-weight="normal">-10³</text>
<line x1="56.6" y1="599.8" x2="56.6" y2="601.4" stroke="#222" stroke-width="0.6"/>
<text x="56.6" y="606.8" font-size="3.9" text-anchor="middle" fill="#222" font-weight="normal">0</text>
<line x1="70" y1="599.8" x2="70" y2="601.4" stroke="#222" stroke-width="0.6"/>
<text x="70" y="606.8" font-size="3.9" text-anchor="middle" fill="#222" font-weight="normal">10³</text>
<line x1="93.2" y1="599.8" x2="93.2" y2="601.4" stroke="#222" stroke-width="0.6"/>
<text x="93.2" y="606.8" font-size="3.9" text-anchor="middle" fill="#222" font-weight="normal">10⁴</text>
<line x1="113.3" y1="599.8" x2="113.3" y2="601.4" stroke="#222" stroke-width="0.6"/>
<text x="113.3" y="606.8" font-size="3.9" text-anchor="middle" fill="#222" font-weight="normal">10⁵</text>
<line x1="35.6" y1="599.8" x2="35.6" y2="600.8" stroke="#555" stroke-width="0.4"/>
<line x1="37.7275" y1="599.8" x2="37.7275" y2="600.8" stroke="#555" stroke-width="0.4"/>
<line x1="39.855000000000004" y1="599.8" x2="39.855000000000004" y2="600.8" stroke="#555" stroke-width="0.4"/>
<line x1="41.9825" y1="599.8" x2="41.9825" y2="600.8" stroke="#555" stroke-width="0.4"/>
<line x1="44.11" y1="599.8" x2="44.11" y2="600.8" stroke="#555" stroke-width="0.4"/>
<line x1="46.2375" y1="599.8" x2="46.2375" y2="600.8" stroke="#555" stroke-width="0.4"/>
<line x1="48.365" y1="599.8" x2="48.365" y2="600.8" stroke="#555" stroke-width="0.4"/>
<line x1="50.4925" y1="599.8" x2="50.4925" y2="600.8" stroke="#555" stroke-width="0.4"/>
<line x1="52.620000000000005" y1="599.8" x2="52.620000000000005" y2="600.8" stroke="#555" stroke-width="0.4"/>
<line x1="54.7475" y1="599.8" x2="54.7475" y2="600.8" stroke="#555" stroke-width="0.4"/>
<line x1="56.875" y1="599.8" x2="56.875" y2="600.8" stroke="#555" stroke-width="0.4"/>
<line x1="59.0025" y1="599.8" x2="59.0025" y2="600.8" stroke="#555" stroke-width="0.4"/>
<line x1="61.129999999999995" y1="599.8" x2="61.129999999999995" y2="600.8" stroke="#555" stroke-width="0.4"/>
<line x1="63.2575" y1="599.8" x2="63.2575" y2="600.8" stroke="#555" stroke-width="0.4"/>
<line x1="65.38499999999999" y1="599.8" x2="65.38499999999999" y2="600.8" stroke="#555" stroke-width="0.4"/>
<line x1="67.5125" y1="599.8" x2="67.5125" y2="600.8" stroke="#555" stroke-width="0.4"/>
<line x1="69.64" y1="599.8" x2="69.64" y2="600.8" stroke="#555" stroke-width="0.4"/>
<line x1="71.7675" y1="599.8" x2="71.7675" y2="600.8" stroke="#555" stroke-width="0.4"/>
<line x1="73.89500000000001" y1="599.8" x2="73.89500000000001" y2="600.8" stroke="#555" stroke-width="0.4"/>
<line x1="76.02250000000001" y1="599.8" x2="76.02250000000001" y2="600.8" stroke="#555" stroke-width="0.4"/>
<line x1="78.15" y1="599.8" x2="78.15" y2="600.8" stroke="#555" stroke-width="0.4"/>
<line x1="80.2775" y1="599.8" x2="80.2775" y2="600.8" stroke="#555" stroke-width="0.4"/>
<line x1="82.405" y1="599.8" x2="82.405" y2="600.8" stroke="#555" stroke-width="0.4"/>
<line x1="84.5325" y1="599.8" x2="84.5325" y2="600.8" stroke="#555" stroke-width="0.4"/>
<line x1="86.66" y1="599.8" x2="86.66" y2="600.8" stroke="#555" stroke-width="0.4"/>
<line x1="88.7875" y1="599.8" x2="88.7875" y2="600.8" stroke="#555" stroke-width="0.4"/>
<line x1="90.91499999999999" y1="599.8" x2="90.91499999999999" y2="600.8" stroke="#555" stroke-width="0.4"/>
<line x1="93.04249999999999" y1="599.8" x2="93.04249999999999" y2="600.8" stroke="#555" stroke-width="0.4"/>
<line x1="95.16999999999999" y1="599.8" x2="95.16999999999999" y2="600.8" stroke="#555" stroke-width="0.4"/>
<line x1="97.29749999999999" y1="599.8" x2="97.29749999999999" y2="600.8" stroke="#555" stroke-width="0.4"/>
<line x1="99.42500000000001" y1="599.8" x2="99.42500000000001" y2="600.8" stroke="#555" stroke-width="0.4"/>
<line x1="101.55250000000001" y1="599.8" x2="101.55250000000001" y2="600.8" stroke="#555" stroke-width="0.4"/>
<line x1="103.68" y1="599.8" x2="103.68" y2="600.8" stroke="#555" stroke-width="0.4"/>
<line x1="105.8075" y1="599.8" x2="105.8075" y2="600.8" stroke="#555" stroke-width="0.4"/>
<line x1="107.935" y1="599.8" x2="107.935" y2="600.8" stroke="#555" stroke-width="0.4"/>
<line x1="110.0625" y1="599.8" x2="110.0625" y2="600.8" stroke="#555" stroke-width="0.4"/>
<line x1="112.19" y1="599.8" x2="112.19" y2="600.8" stroke="#555" stroke-width="0.4"/>
<line x1="114.3175" y1="599.8" x2="114.3175" y2="600.8" stroke="#555" stroke-width="0.4"/>
<line x1="116.445" y1="599.8" x2="116.445" y2="600.8" stroke="#555" stroke-width="0.4"/>
<line x1="118.57249999999999" y1="599.8" x2="118.57249999999999" y2="600.8" stroke="#555" stroke-width="0.4"/>
<rect x="53.2" y="600.2" width="3.4" height="1.8" fill="#111"/>
<line x1="33.0" y1="705.0" x2="34.8" y2="705.0" stroke="#444" stroke-width="0.5"/>
<text x="32.5" y="706.3" font-size="3.7" text-anchor="end" fill="#222" font-weight="normal">0</text>
<line x1="33.0" y1="688.4774912075029" x2="34.8" y2="688.4774912075029" stroke="#444" stroke-width="0.5"/>
<text x="32.5" y="689.7774912075029" font-size="3.7" text-anchor="end" fill="#222" font-weight="normal">50K</text>
<line x1="33.0" y1="671.9549824150058" x2="34.8" y2="671.9549824150058" stroke="#444" stroke-width="0.5"/>
<text x="32.5" y="673.2549824150058" font-size="3.7" text-anchor="end" fill="#222" font-weight="normal">100K</text>
<line x1="33.0" y1="655.4324736225087" x2="34.8" y2="655.4324736225087" stroke="#444" stroke-width="0.5"/>
<text x="32.5" y="656.7324736225087" font-size="3.7" text-anchor="end" fill="#222" font-weight="normal">150K</text>
<line x1="33.0" y1="638.9099648300116" x2="34.8" y2="638.9099648300116" stroke="#444" stroke-width="0.5"/>
<text x="32.5" y="640.2099648300116" font-size="3.7" text-anchor="end" fill="#222" font-weight="normal">200K</text>
<line x1="33.0" y1="622.3874560375147" x2="34.8" y2="622.3874560375147" stroke="#444" stroke-width="0.5"/>
<text x="32.5" y="623.6874560375146" font-size="3.7" text-anchor="end" fill="#222" font-weight="normal">250K</text>
<line x1="42.5" y1="705.0" x2="42.5" y2="706.6" stroke="#222" stroke-width="0.6"/>
<text x="42.5" y="712.0" font-size="3.9" text-anchor="middle" fill="#222" font-weight="normal">-10³</text>
<line x1="56.6" y1="705.0" x2="56.6" y2="706.6" stroke="#222" stroke-width="0.6"/>
<text x="56.6" y="712.0" font-size="3.9" text-anchor="middle" fill="#222" font-weight="normal">0</text>
<line x1="70" y1="705.0" x2="70" y2="706.6" stroke="#222" stroke-width="0.6"/>
<text x="70" y="712.0" font-size="3.9" text-anchor="middle" fill="#222" font-weight="normal">10³</text>
<line x1="93.2" y1="705.0" x2="93.2" y2="706.6" stroke="#222" stroke-width="0.6"/>
<text x="93.2" y="712.0" font-size="3.9" text-anchor="middle" fill="#222" font-weight="normal">10⁴</text>
<line x1="113.3" y1="705.0" x2="113.3" y2="706.6" stroke="#222" stroke-width="0.6"/>
<text x="113.3" y="712.0" font-size="3.9" text-anchor="middle" fill="#222" font-weight="normal">10⁵</text>
<line x1="34.8" y1="705.0" x2="34.8" y2="706.0" stroke="#555" stroke-width="0.4"/>
<line x1="36.949999999999996" y1="705.0" x2="36.949999999999996" y2="706.0" stroke="#555" stroke-width="0.4"/>
<line x1="39.099999999999994" y1="705.0" x2="39.099999999999994" y2="706.0" stroke="#555" stroke-width="0.4"/>
<line x1="41.25" y1="705.0" x2="41.25" y2="706.0" stroke="#555" stroke-width="0.4"/>
<line x1="43.4" y1="705.0" x2="43.4" y2="706.0" stroke="#555" stroke-width="0.4"/>
<line x1="45.55" y1="705.0" x2="45.55" y2="706.0" stroke="#555" stroke-width="0.4"/>
<line x1="47.699999999999996" y1="705.0" x2="47.699999999999996" y2="706.0" stroke="#555" stroke-width="0.4"/>
<line x1="49.849999999999994" y1="705.0" x2="49.849999999999994" y2="706.0" stroke="#555" stroke-width="0.4"/>
<line x1="52.0" y1="705.0" x2="52.0" y2="706.0" stroke="#555" stroke-width="0.4"/>
<line x1="54.15" y1="705.0" x2="54.15" y2="706.0" stroke="#555" stroke-width="0.4"/>
<line x1="56.3" y1="705.0" x2="56.3" y2="706.0" stroke="#555" stroke-width="0.4"/>
<line x1="58.449999999999996" y1="705.0" x2="58.449999999999996" y2="706.0" stroke="#555" stroke-width="0.4"/>
<line x1="60.599999999999994" y1="705.0" x2="60.599999999999994" y2="706.0" stroke="#555" stroke-width="0.4"/>
<line x1="62.75" y1="705.0" x2="62.75" y2="706.0" stroke="#555" stroke-width="0.4"/>
<line x1="64.9" y1="705.0" x2="64.9" y2="706.0" stroke="#555" stroke-width="0.4"/>
<line x1="67.05" y1="705.0" x2="67.05" y2="706.0" stroke="#555" stroke-width="0.4"/>
<line x1="69.19999999999999" y1="705.0" x2="69.19999999999999" y2="706.0" stroke="#555" stroke-width="0.4"/>
<line x1="71.35" y1="705.0" x2="71.35" y2="706.0" stroke="#555" stroke-width="0.4"/>
<line x1="73.5" y1="705.0" x2="73.5" y2="706.0" stroke="#555" stroke-width="0.4"/>
<line x1="75.65" y1="705.0" x2="75.65" y2="706.0" stroke="#555" stroke-width="0.4"/>
<line x1="77.8" y1="705.0" x2="77.8" y2="706.0" stroke="#555" stroke-width="0.4"/>
<line x1="79.94999999999999" y1="705.0" x2="79.94999999999999" y2="706.0" stroke="#555" stroke-width="0.4"/>
<line x1="82.1" y1="705.0" x2="82.1" y2="706.0" stroke="#555" stroke-width="0.4"/>
<line x1="84.25" y1="705.0" x2="84.25" y2="706.0" stroke="#555" stroke-width="0.4"/>
<line x1="86.4" y1="705.0" x2="86.4" y2="706.0" stroke="#555" stroke-width="0.4"/>
<line x1="88.55" y1="705.0" x2="88.55" y2="706.0" stroke="#555" stroke-width="0.4"/>
<line x1="90.69999999999999" y1="705.0" x2="90.69999999999999" y2="706.0" stroke="#555" stroke-width="0.4"/>
<line x1="92.85" y1="705.0" x2="92.85" y2="706.0" stroke="#555" stroke-width="0.4"/>
<line x1="95.0" y1="705.0" x2="95.0" y2="706.0" stroke="#555" stroke-width="0.4"/>
<line x1="97.15" y1="705.0" x2="97.15" y2="706.0" stroke="#555" stroke-width="0.4"/>
<line x1="99.3" y1="705.0" x2="99.3" y2="706.0" stroke="#555" stroke-width="0.4"/>
<line x1="101.45" y1="705.0" x2="101.45" y2="706.0" stroke="#555" stroke-width="0.4"/>
<line x1="103.6" y1="705.0" x2="103.6" y2="706.0" stroke="#555" stroke-width="0.4"/>
<line x1="105.75" y1="705.0" x2="105.75" y2="706.0" stroke="#555" stroke-width="0.4"/>
<line x1="107.89999999999999" y1="705.0" x2="107.89999999999999" y2="706.0" stroke="#555" stroke-width="0.4"/>
<line x1="110.05" y1="705.0" x2="110.05" y2="706.0" stroke="#555" stroke-width="0.4"/>
<line x1="112.2" y1="705.0" x2="112.2" y2="706.0" stroke="#555" stroke-width="0.4"/>
<line x1="114.35" y1="705.0" x2="114.35" y2="706.0" stroke="#555" stroke-width="0.4"/>
<line x1="116.5" y1="705.0" x2="116.5" y2="706.0" stroke="#555" stroke-width="0.4"/>
<line x1="118.64999999999999" y1="705.0" x2="118.64999999999999" y2="706.0" stroke="#555" stroke-width="0.4"/>
<rect x="53.2" y="705.4" width="3.4" height="1.8" fill="#111"/>
<line x1="141.7" y1="521" x2="143.5" y2="521" stroke="#444" stroke-width="0.5"/>
<text x="141.2" y="522.3" font-size="3.8" text-anchor="end" fill="#222" font-weight="normal">10⁵</text>
<line x1="141.7" y1="538" x2="143.5" y2="538" stroke="#444" stroke-width="0.5"/>
<text x="141.2" y="539.3" font-size="3.8" text-anchor="end" fill="#222" font-weight="normal">10⁴</text>
<line x1="141.7" y1="556" x2="143.5" y2="556" stroke="#444" stroke-width="0.5"/>
<text x="141.2" y="557.3" font-size="3.8" text-anchor="end" fill="#222" font-weight="normal">10³</text>
<line x1="141.7" y1="572.5" x2="143.5" y2="572.5" stroke="#444" stroke-width="0.5"/>
<text x="141.2" y="573.8" font-size="3.8" text-anchor="end" fill="#222" font-weight="normal">10²</text>
<line x1="141.7" y1="590.5" x2="143.5" y2="590.5" stroke="#444" stroke-width="0.5"/>
<text x="141.2" y="591.8" font-size="3.8" text-anchor="end" fill="#222" font-weight="normal">10¹</text>
<line x1="143.5" y1="600.8" x2="143.5" y2="601.8" stroke="#555" stroke-width="0.4"/>
<line x1="145.94444444444446" y1="600.8" x2="145.94444444444446" y2="601.8" stroke="#555" stroke-width="0.4"/>
<line x1="148.38888888888889" y1="600.8" x2="148.38888888888889" y2="601.8" stroke="#555" stroke-width="0.4"/>
<line x1="150.83333333333334" y1="600.8" x2="150.83333333333334" y2="601.8" stroke="#555" stroke-width="0.4"/>
<line x1="153.27777777777777" y1="600.8" x2="153.27777777777777" y2="601.8" stroke="#555" stroke-width="0.4"/>
<line x1="155.72222222222223" y1="600.8" x2="155.72222222222223" y2="601.8" stroke="#555" stroke-width="0.4"/>
<line x1="158.16666666666666" y1="600.8" x2="158.16666666666666" y2="601.8" stroke="#555" stroke-width="0.4"/>
<line x1="160.61111111111111" y1="600.8" x2="160.61111111111111" y2="601.8" stroke="#555" stroke-width="0.4"/>
<line x1="163.05555555555554" y1="600.8" x2="163.05555555555554" y2="601.8" stroke="#555" stroke-width="0.4"/>
<line x1="165.5" y1="600.8" x2="165.5" y2="601.8" stroke="#555" stroke-width="0.4"/>
<line x1="167.94444444444446" y1="600.8" x2="167.94444444444446" y2="601.8" stroke="#555" stroke-width="0.4"/>
<line x1="170.38888888888889" y1="600.8" x2="170.38888888888889" y2="601.8" stroke="#555" stroke-width="0.4"/>
<line x1="172.83333333333334" y1="600.8" x2="172.83333333333334" y2="601.8" stroke="#555" stroke-width="0.4"/>
<line x1="175.27777777777777" y1="600.8" x2="175.27777777777777" y2="601.8" stroke="#555" stroke-width="0.4"/>
<line x1="177.72222222222223" y1="600.8" x2="177.72222222222223" y2="601.8" stroke="#555" stroke-width="0.4"/>
<line x1="180.16666666666666" y1="600.8" x2="180.16666666666666" y2="601.8" stroke="#555" stroke-width="0.4"/>
<line x1="182.61111111111111" y1="600.8" x2="182.61111111111111" y2="601.8" stroke="#555" stroke-width="0.4"/>
<line x1="185.05555555555554" y1="600.8" x2="185.05555555555554" y2="601.8" stroke="#555" stroke-width="0.4"/>
<line x1="187.5" y1="600.8" x2="187.5" y2="601.8" stroke="#555" stroke-width="0.4"/>
<line x1="189.94444444444446" y1="600.8" x2="189.94444444444446" y2="601.8" stroke="#555" stroke-width="0.4"/>
<line x1="192.38888888888889" y1="600.8" x2="192.38888888888889" y2="601.8" stroke="#555" stroke-width="0.4"/>
<line x1="194.83333333333334" y1="600.8" x2="194.83333333333334" y2="601.8" stroke="#555" stroke-width="0.4"/>
<line x1="197.27777777777777" y1="600.8" x2="197.27777777777777" y2="601.8" stroke="#555" stroke-width="0.4"/>
<line x1="199.72222222222223" y1="600.8" x2="199.72222222222223" y2="601.8" stroke="#555" stroke-width="0.4"/>
<line x1="202.16666666666666" y1="600.8" x2="202.16666666666666" y2="601.8" stroke="#555" stroke-width="0.4"/>
<line x1="204.61111111111111" y1="600.8" x2="204.61111111111111" y2="601.8" stroke="#555" stroke-width="0.4"/>
<line x1="207.05555555555554" y1="600.8" x2="207.05555555555554" y2="601.8" stroke="#555" stroke-width="0.4"/>
<line x1="209.5" y1="600.8" x2="209.5" y2="601.8" stroke="#555" stroke-width="0.4"/>
<line x1="211.94444444444446" y1="600.8" x2="211.94444444444446" y2="601.8" stroke="#555" stroke-width="0.4"/>
<line x1="214.38888888888889" y1="600.8" x2="214.38888888888889" y2="601.8" stroke="#555" stroke-width="0.4"/>
<line x1="216.83333333333331" y1="600.8" x2="216.83333333333331" y2="601.8" stroke="#555" stroke-width="0.4"/>
<line x1="219.27777777777777" y1="600.8" x2="219.27777777777777" y2="601.8" stroke="#555" stroke-width="0.4"/>
<line x1="221.72222222222223" y1="600.8" x2="221.72222222222223" y2="601.8" stroke="#555" stroke-width="0.4"/>
<line x1="224.16666666666669" y1="600.8" x2="224.16666666666669" y2="601.8" stroke="#555" stroke-width="0.4"/>
<line x1="226.61111111111111" y1="600.8" x2="226.61111111111111" y2="601.8" stroke="#555" stroke-width="0.4"/>
<line x1="229.05555555555554" y1="600.8" x2="229.05555555555554" y2="601.8" stroke="#555" stroke-width="0.4"/>
<line x1="153.75" y1="600.8" x2="153.75" y2="602.3" stroke="#444" stroke-width="0.5"/>
<text x="153.75" y="606.8" font-size="3.8" text-anchor="middle" fill="#222" font-weight="normal">10¹</text>
<line x1="171.25" y1="600.8" x2="171.25" y2="602.3" stroke="#444" stroke-width="0.5"/>
<text x="171.25" y="606.8" font-size="3.8" text-anchor="middle" fill="#222" font-weight="normal">10²</text>
<line x1="188.75" y1="600.8" x2="188.75" y2="602.3" stroke="#444" stroke-width="0.5"/>
<text x="188.75" y="606.8" font-size="3.8" text-anchor="middle" fill="#222" font-weight="normal">10³</text>
<line x1="206.25" y1="600.8" x2="206.25" y2="602.3" stroke="#444" stroke-width="0.5"/>
<text x="206.25" y="606.8" font-size="3.8" text-anchor="middle" fill="#222" font-weight="normal">10⁴</text>
<line x1="223.75" y1="600.8" x2="223.75" y2="602.3" stroke="#444" stroke-width="0.5"/>
<text x="223.75" y="606.8" font-size="3.8" text-anchor="middle" fill="#222" font-weight="normal">10⁵</text>
<line x1="142.7" y1="624" x2="144.5" y2="624" stroke="#444" stroke-width="0.5"/>
<text x="142.2" y="625.3" font-size="3.8" text-anchor="end" fill="#222" font-weight="normal">10⁵</text>
<line x1="142.7" y1="642" x2="144.5" y2="642" stroke="#444" stroke-width="0.5"/>
<text x="142.2" y="643.3" font-size="3.8" text-anchor="end" fill="#222" font-weight="normal">10⁴</text>
<line x1="142.7" y1="659.5" x2="144.5" y2="659.5" stroke="#444" stroke-width="0.5"/>
<text x="142.2" y="660.8" font-size="3.8" text-anchor="end" fill="#222" font-weight="normal">10³</text>
<line x1="142.7" y1="676.5" x2="144.5" y2="676.5" stroke="#444" stroke-width="0.5"/>
<text x="142.2" y="677.8" font-size="3.8" text-anchor="end" fill="#222" font-weight="normal">10²</text>
<line x1="142.7" y1="694" x2="144.5" y2="694" stroke="#444" stroke-width="0.5"/>
<text x="142.2" y="695.3" font-size="3.8" text-anchor="end" fill="#222" font-weight="normal">10¹</text>
<line x1="144.5" y1="703.8" x2="144.5" y2="704.8" stroke="#555" stroke-width="0.4"/>
<line x1="146.86111111111111" y1="703.8" x2="146.86111111111111" y2="704.8" stroke="#555" stroke-width="0.4"/>
<line x1="149.22222222222223" y1="703.8" x2="149.22222222222223" y2="704.8" stroke="#555" stroke-width="0.4"/>
<line x1="151.58333333333334" y1="703.8" x2="151.58333333333334" y2="704.8" stroke="#555" stroke-width="0.4"/>
<line x1="153.94444444444446" y1="703.8" x2="153.94444444444446" y2="704.8" stroke="#555" stroke-width="0.4"/>
<line x1="156.30555555555554" y1="703.8" x2="156.30555555555554" y2="704.8" stroke="#555" stroke-width="0.4"/>
<line x1="158.66666666666666" y1="703.8" x2="158.66666666666666" y2="704.8" stroke="#555" stroke-width="0.4"/>
<line x1="161.02777777777777" y1="703.8" x2="161.02777777777777" y2="704.8" stroke="#555" stroke-width="0.4"/>
<line x1="163.38888888888889" y1="703.8" x2="163.38888888888889" y2="704.8" stroke="#555" stroke-width="0.4"/>
<line x1="165.75" y1="703.8" x2="165.75" y2="704.8" stroke="#555" stroke-width="0.4"/>
<line x1="168.11111111111111" y1="703.8" x2="168.11111111111111" y2="704.8" stroke="#555" stroke-width="0.4"/>
<line x1="170.47222222222223" y1="703.8" x2="170.47222222222223" y2="704.8" stroke="#555" stroke-width="0.4"/>
<line x1="172.83333333333334" y1="703.8" x2="172.83333333333334" y2="704.8" stroke="#555" stroke-width="0.4"/>
<line x1="175.19444444444446" y1="703.8" x2="175.19444444444446" y2="704.8" stroke="#555" stroke-width="0.4"/>
<line x1="177.55555555555554" y1="703.8" x2="177.55555555555554" y2="704.8" stroke="#555" stroke-width="0.4"/>
<line x1="179.91666666666666" y1="703.8" x2="179.91666666666666" y2="704.8" stroke="#555" stroke-width="0.4"/>
<line x1="182.27777777777777" y1="703.8" x2="182.27777777777777" y2="704.8" stroke="#555" stroke-width="0.4"/>
<line x1="184.63888888888889" y1="703.8" x2="184.63888888888889" y2="704.8" stroke="#555" stroke-width="0.4"/>
<line x1="187.0" y1="703.8" x2="187.0" y2="704.8" stroke="#555" stroke-width="0.4"/>
<line x1="189.36111111111111" y1="703.8" x2="189.36111111111111" y2="704.8" stroke="#555" stroke-width="0.4"/>
<line x1="191.72222222222223" y1="703.8" x2="191.72222222222223" y2="704.8" stroke="#555" stroke-width="0.4"/>
<line x1="194.08333333333334" y1="703.8" x2="194.08333333333334" y2="704.8" stroke="#555" stroke-width="0.4"/>
<line x1="196.44444444444446" y1="703.8" x2="196.44444444444446" y2="704.8" stroke="#555" stroke-width="0.4"/>
<line x1="198.80555555555554" y1="703.8" x2="198.80555555555554" y2="704.8" stroke="#555" stroke-width="0.4"/>
<line x1="201.16666666666666" y1="703.8" x2="201.16666666666666" y2="704.8" stroke="#555" stroke-width="0.4"/>
<line x1="203.52777777777777" y1="703.8" x2="203.52777777777777" y2="704.8" stroke="#555" stroke-width="0.4"/>
<line x1="205.88888888888889" y1="703.8" x2="205.88888888888889" y2="704.8" stroke="#555" stroke-width="0.4"/>
<line x1="208.25" y1="703.8" x2="208.25" y2="704.8" stroke="#555" stroke-width="0.4"/>
<line x1="210.61111111111111" y1="703.8" x2="210.61111111111111" y2="704.8" stroke="#555" stroke-width="0.4"/>
<line x1="212.97222222222223" y1="703.8" x2="212.97222222222223" y2="704.8" stroke="#555" stroke-width="0.4"/>
<line x1="215.33333333333331" y1="703.8" x2="215.33333333333331" y2="704.8" stroke="#555" stroke-width="0.4"/>
<line x1="217.69444444444446" y1="703.8" x2="217.69444444444446" y2="704.8" stroke="#555" stroke-width="0.4"/>
<line x1="220.05555555555554" y1="703.8" x2="220.05555555555554" y2="704.8" stroke="#555" stroke-width="0.4"/>
<line x1="222.41666666666669" y1="703.8" x2="222.41666666666669" y2="704.8" stroke="#555" stroke-width="0.4"/>
<line x1="224.77777777777777" y1="703.8" x2="224.77777777777777" y2="704.8" stroke="#555" stroke-width="0.4"/>
<line x1="227.13888888888889" y1="703.8" x2="227.13888888888889" y2="704.8" stroke="#555" stroke-width="0.4"/>
<line x1="154.75" y1="703.8" x2="154.75" y2="705.3" stroke="#444" stroke-width="0.5"/>
<text x="154.75" y="709.8" font-size="3.8" text-anchor="middle" fill="#222" font-weight="normal">10¹</text>
<line x1="172.25" y1="703.8" x2="172.25" y2="705.3" stroke="#444" stroke-width="0.5"/>
<text x="172.25" y="709.8" font-size="3.8" text-anchor="middle" fill="#222" font-weight="normal">10²</text>
<line x1="189.75" y1="703.8" x2="189.75" y2="705.3" stroke="#444" stroke-width="0.5"/>
<text x="189.75" y="709.8" font-size="3.8" text-anchor="middle" fill="#222" font-weight="normal">10³</text>
<line x1="207.25" y1="703.8" x2="207.25" y2="705.3" stroke="#444" stroke-width="0.5"/>
<text x="207.25" y="709.8" font-size="3.8" text-anchor="middle" fill="#222" font-weight="normal">10⁴</text>
<line x1="224.75" y1="703.8" x2="224.75" y2="705.3" stroke="#444" stroke-width="0.5"/>
<text x="224.75" y="709.8" font-size="3.8" text-anchor="middle" fill="#222" font-weight="normal">10⁵</text>
</svg></body></html>
